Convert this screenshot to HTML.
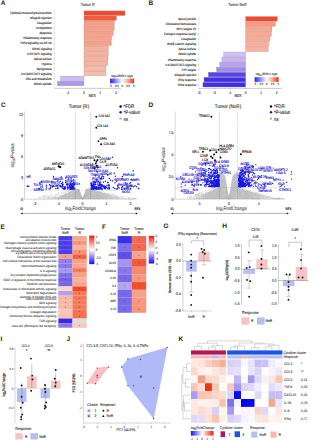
<!DOCTYPE html><html><head><meta charset="utf-8"><style>html,body{margin:0;padding:0;background:#fff;overflow:hidden}svg{display:block}</style></head><body><svg width="309" height="440" viewBox="0 0 309 440" style="font-family:'Liberation Sans', sans-serif"><text x="0.80" y="5.30" font-size="6.5" font-weight="bold" fill="#1a1a1a" text-rendering="geometricPrecision">A</text>
<text x="148.60" y="4.90" font-size="6.5" font-weight="bold" fill="#1a1a1a" text-rendering="geometricPrecision">B</text>
<text x="0.90" y="106.70" font-size="6.5" font-weight="bold" fill="#1a1a1a" text-rendering="geometricPrecision">C</text>
<text x="148.60" y="106.70" font-size="6.5" font-weight="bold" fill="#1a1a1a" text-rendering="geometricPrecision">D</text>
<text x="0.60" y="228.70" font-size="6.5" font-weight="bold" fill="#1a1a1a" text-rendering="geometricPrecision">E</text>
<text x="102.00" y="228.70" font-size="6.5" font-weight="bold" fill="#1a1a1a" text-rendering="geometricPrecision">F</text>
<text x="163.60" y="228.40" font-size="6.5" font-weight="bold" fill="#1a1a1a" text-rendering="geometricPrecision">G</text>
<text x="222.20" y="228.40" font-size="6.5" font-weight="bold" fill="#1a1a1a" text-rendering="geometricPrecision">H</text>
<text x="0.50" y="341.00" font-size="6.5" font-weight="bold" fill="#1a1a1a" text-rendering="geometricPrecision">I</text>
<text x="66.40" y="341.30" font-size="6.5" font-weight="bold" fill="#1a1a1a" text-rendering="geometricPrecision">J</text>
<text x="178.50" y="341.40" font-size="6.5" font-weight="bold" fill="#1a1a1a" text-rendering="geometricPrecision">K</text>
<defs>
<linearGradient id="gsea" x1="0" x2="1" y1="0" y2="0">
<stop offset="0" stop-color="#2a1ef0"/><stop offset="0.22" stop-color="#8a80f2"/><stop offset="0.5" stop-color="#ffffff"/><stop offset="0.75" stop-color="#f8a898"/><stop offset="1" stop-color="#f02a14"/></linearGradient>
<linearGradient id="hmv" x1="0" x2="0" y1="0" y2="1">
<stop offset="0" stop-color="#f01a0a"/><stop offset="0.5" stop-color="#ffffff"/><stop offset="1" stop-color="#1a0af0"/></linearGradient>
<linearGradient id="khm" x1="0" x2="1" y1="0" y2="0">
<stop offset="0" stop-color="#1a0af0"/><stop offset="0.5" stop-color="#ffffff"/><stop offset="1" stop-color="#f01a0a"/></linearGradient>
</defs>
<line x1="54.40" y1="10.09" x2="54.40" y2="88.30" stroke="#c8c8c8" stroke-width="0.3" />
<line x1="54.40" y1="88.30" x2="121.20" y2="88.30" stroke="#666" stroke-width="0.35" />
<text x="51.70" y="14.36" font-size="2.8" text-anchor="end" fill="#333" font-weight="normal"  text-rendering="geometricPrecision" stroke="#333" stroke-width="0.112" transform="matrix(1 0 0 1.15 0 -2.154)">Epithelial mesenchymal transition</text>
<line x1="53.50" y1="13.20" x2="54.60" y2="13.20" stroke="#777" stroke-width="0.35" />
<rect x="84.00" y="10.89" width="41.00" height="4.62" fill="#ef4a2f" stroke="#a89090" stroke-width="0.3" />
<text x="51.70" y="19.38" font-size="2.8" text-anchor="end" fill="#333" font-weight="normal"  text-rendering="geometricPrecision" stroke="#333" stroke-width="0.112" transform="matrix(1 0 0 1.15 0 -2.907)">Allograft rejection</text>
<line x1="53.50" y1="18.22" x2="54.60" y2="18.22" stroke="#777" stroke-width="0.35" />
<rect x="84.00" y="15.91" width="32.40" height="4.62" fill="#f15a3c" stroke="#a89090" stroke-width="0.3" />
<text x="51.70" y="24.40" font-size="2.8" text-anchor="end" fill="#333" font-weight="normal"  text-rendering="geometricPrecision" stroke="#333" stroke-width="0.112" transform="matrix(1 0 0 1.15 0 -3.660)">Coagulation</text>
<line x1="53.50" y1="23.24" x2="54.60" y2="23.24" stroke="#777" stroke-width="0.35" />
<rect x="84.00" y="20.93" width="30.30" height="4.62" fill="#f89c84" stroke="#a89090" stroke-width="0.3" />
<text x="51.70" y="29.42" font-size="2.8" text-anchor="end" fill="#333" font-weight="normal"  text-rendering="geometricPrecision" stroke="#333" stroke-width="0.112" transform="matrix(1 0 0 1.15 0 -4.413)">Complement</text>
<line x1="53.50" y1="28.26" x2="54.60" y2="28.26" stroke="#777" stroke-width="0.35" />
<rect x="84.00" y="25.95" width="30.30" height="4.62" fill="#f89e86" stroke="#a89090" stroke-width="0.3" />
<text x="51.70" y="34.44" font-size="2.8" text-anchor="end" fill="#333" font-weight="normal"  text-rendering="geometricPrecision" stroke="#333" stroke-width="0.112" transform="matrix(1 0 0 1.15 0 -5.166)">Apoptosis</text>
<line x1="53.50" y1="33.28" x2="54.60" y2="33.28" stroke="#777" stroke-width="0.35" />
<rect x="84.00" y="30.97" width="29.20" height="4.62" fill="#f8a088" stroke="#a89090" stroke-width="0.3" />
<text x="51.70" y="39.46" font-size="2.8" text-anchor="end" fill="#333" font-weight="normal"  text-rendering="geometricPrecision" stroke="#333" stroke-width="0.112" transform="matrix(1 0 0 1.15 0 -5.919)">Inflammatory response</text>
<line x1="53.50" y1="38.30" x2="54.60" y2="38.30" stroke="#777" stroke-width="0.35" />
<rect x="84.00" y="35.99" width="27.70" height="4.62" fill="#f8a28a" stroke="#a89090" stroke-width="0.3" />
<text x="51.70" y="44.48" font-size="2.8" text-anchor="end" fill="#333" font-weight="normal"  text-rendering="geometricPrecision" stroke="#333" stroke-width="0.112" transform="matrix(1 0 0 1.15 0 -6.672)">TNFα signaling via NF-κB</text>
<line x1="53.50" y1="43.32" x2="54.60" y2="43.32" stroke="#777" stroke-width="0.35" />
<rect x="84.00" y="41.01" width="27.30" height="4.62" fill="#f8a088" stroke="#a89090" stroke-width="0.3" />
<text x="51.70" y="49.50" font-size="2.8" text-anchor="end" fill="#333" font-weight="normal"  text-rendering="geometricPrecision" stroke="#333" stroke-width="0.112" transform="matrix(1 0 0 1.15 0 -7.425)">KRAS signaling</text>
<line x1="53.50" y1="48.34" x2="54.60" y2="48.34" stroke="#777" stroke-width="0.35" />
<rect x="84.00" y="46.03" width="24.40" height="4.62" fill="#f8b098" stroke="#a89090" stroke-width="0.3" />
<text x="51.70" y="54.52" font-size="2.8" text-anchor="end" fill="#333" font-weight="normal"  text-rendering="geometricPrecision" stroke="#333" stroke-width="0.112" transform="matrix(1 0 0 1.15 0 -8.178)">IL2/STAT5 signaling</text>
<line x1="53.50" y1="53.36" x2="54.60" y2="53.36" stroke="#777" stroke-width="0.35" />
<rect x="84.00" y="51.05" width="24.40" height="4.62" fill="#f8b098" stroke="#a89090" stroke-width="0.3" />
<text x="51.70" y="59.54" font-size="2.8" text-anchor="end" fill="#333" font-weight="normal"  text-rendering="geometricPrecision" stroke="#333" stroke-width="0.112" transform="matrix(1 0 0 1.15 0 -8.931)">Apical surface</text>
<line x1="53.50" y1="58.38" x2="54.60" y2="58.38" stroke="#777" stroke-width="0.35" />
<rect x="84.00" y="56.07" width="24.00" height="4.62" fill="#f9b29c" stroke="#a89090" stroke-width="0.3" />
<text x="51.70" y="64.56" font-size="2.8" text-anchor="end" fill="#333" font-weight="normal"  text-rendering="geometricPrecision" stroke="#333" stroke-width="0.112" transform="matrix(1 0 0 1.15 0 -9.684)">Hypoxia</text>
<line x1="53.50" y1="63.40" x2="54.60" y2="63.40" stroke="#777" stroke-width="0.35" />
<rect x="84.00" y="61.09" width="23.80" height="4.62" fill="#f9b29c" stroke="#a89090" stroke-width="0.3" />
<text x="51.70" y="69.58" font-size="2.8" text-anchor="end" fill="#333" font-weight="normal"  text-rendering="geometricPrecision" stroke="#333" stroke-width="0.112" transform="matrix(1 0 0 1.15 0 -10.437)">Myogenesis</text>
<line x1="53.50" y1="68.42" x2="54.60" y2="68.42" stroke="#777" stroke-width="0.35" />
<rect x="84.00" y="66.11" width="22.00" height="4.62" fill="#f9bca8" stroke="#a89090" stroke-width="0.3" />
<text x="51.70" y="74.60" font-size="2.8" text-anchor="end" fill="#333" font-weight="normal"  text-rendering="geometricPrecision" stroke="#333" stroke-width="0.112" transform="matrix(1 0 0 1.15 0 -11.190)">IL6/JAK/STAT3 signaling</text>
<line x1="53.50" y1="73.44" x2="54.60" y2="73.44" stroke="#777" stroke-width="0.35" />
<rect x="84.00" y="71.13" width="22.00" height="4.62" fill="#f9bca8" stroke="#a89090" stroke-width="0.3" />
<text x="51.70" y="79.62" font-size="2.8" text-anchor="end" fill="#333" font-weight="normal"  text-rendering="geometricPrecision" stroke="#333" stroke-width="0.112" transform="matrix(1 0 0 1.15 0 -11.943)">Bile acid metabolism</text>
<line x1="53.50" y1="78.46" x2="54.60" y2="78.46" stroke="#777" stroke-width="0.35" />
<rect x="60.40" y="76.15" width="23.60" height="4.62" fill="#cdbdf6" stroke="#a89090" stroke-width="0.3" />
<text x="51.70" y="84.64" font-size="2.8" text-anchor="end" fill="#333" font-weight="normal"  text-rendering="geometricPrecision" stroke="#333" stroke-width="0.112" transform="matrix(1 0 0 1.15 0 -12.696)">Mitotic spindle</text>
<line x1="53.50" y1="83.48" x2="54.60" y2="83.48" stroke="#777" stroke-width="0.35" />
<rect x="57.30" y="81.17" width="26.70" height="4.62" fill="#ab97f0" stroke="#a89090" stroke-width="0.3" />
<line x1="67.90" y1="88.30" x2="67.90" y2="89.20" stroke="#666" stroke-width="0.3" />
<text x="67.90" y="93.72" font-size="3.2" text-anchor="middle" fill="#333" font-weight="normal"  text-rendering="geometricPrecision" stroke="#333" stroke-width="0.128" transform="matrix(1 0 0 1.15 0 -14.059)">-1</text>
<line x1="84.00" y1="88.30" x2="84.00" y2="89.20" stroke="#666" stroke-width="0.3" />
<text x="84.00" y="93.72" font-size="3.2" text-anchor="middle" fill="#333" font-weight="normal"  text-rendering="geometricPrecision" stroke="#333" stroke-width="0.128" transform="matrix(1 0 0 1.15 0 -14.059)">0</text>
<line x1="100.10" y1="88.30" x2="100.10" y2="89.20" stroke="#666" stroke-width="0.3" />
<text x="100.10" y="93.72" font-size="3.2" text-anchor="middle" fill="#333" font-weight="normal"  text-rendering="geometricPrecision" stroke="#333" stroke-width="0.128" transform="matrix(1 0 0 1.15 0 -14.059)">1</text>
<line x1="116.20" y1="88.30" x2="116.20" y2="89.20" stroke="#666" stroke-width="0.3" />
<text x="116.20" y="93.72" font-size="3.2" text-anchor="middle" fill="#333" font-weight="normal"  text-rendering="geometricPrecision" stroke="#333" stroke-width="0.128" transform="matrix(1 0 0 1.15 0 -14.059)">2</text>
<text x="92.20" y="97.31" font-size="3.4" text-anchor="middle" fill="#333" font-weight="normal"  text-rendering="geometricPrecision" stroke="#333" stroke-width="0.136" transform="matrix(1 0 0 1.15 0 -14.596)">NES</text>
<text x="87.70" y="6.49" font-size="3.6" text-anchor="middle" fill="#333" font-weight="normal" stroke="#333" stroke-width="0.1" text-rendering="geometricPrecision" transform="matrix(1 0 0 1.15 0 -0.974)">Tumor R</text>
<text x="122.10" y="76.60" font-size="3.1" text-anchor="middle" fill="#333" stroke="#333" stroke-width="0.1" text-rendering="geometricPrecision">log<tspan font-size="2.1" dy="0.7">10</tspan><tspan dy="-0.7">FDR x sign</tspan></text>
<rect x="110.10" y="78.60" width="24.00" height="4.70" fill="url(#gsea)" stroke="none" stroke-width="0.3" />
<text x="110.70" y="86.66" font-size="2.8" text-anchor="middle" fill="#333" font-weight="normal"  text-rendering="geometricPrecision" stroke="#333" stroke-width="0.112" transform="matrix(1 0 0 1.15 0 -12.999)">-5</text>
<text x="116.50" y="86.66" font-size="2.8" text-anchor="middle" fill="#333" font-weight="normal"  text-rendering="geometricPrecision" stroke="#333" stroke-width="0.112" transform="matrix(1 0 0 1.15 0 -12.999)">-2.5</text>
<text x="122.30" y="86.66" font-size="2.8" text-anchor="middle" fill="#333" font-weight="normal"  text-rendering="geometricPrecision" stroke="#333" stroke-width="0.112" transform="matrix(1 0 0 1.15 0 -12.999)">0</text>
<text x="128.10" y="86.66" font-size="2.8" text-anchor="middle" fill="#333" font-weight="normal"  text-rendering="geometricPrecision" stroke="#333" stroke-width="0.112" transform="matrix(1 0 0 1.15 0 -12.999)">2.5</text>
<text x="133.90" y="86.66" font-size="2.8" text-anchor="middle" fill="#333" font-weight="normal"  text-rendering="geometricPrecision" stroke="#333" stroke-width="0.112" transform="matrix(1 0 0 1.15 0 -12.999)">5</text>
<line x1="198.90" y1="15.77" x2="198.90" y2="88.40" stroke="#c8c8c8" stroke-width="0.3" />
<line x1="198.90" y1="88.40" x2="281.70" y2="88.40" stroke="#666" stroke-width="0.35" />
<text x="196.20" y="20.06" font-size="2.8" text-anchor="end" fill="#333" font-weight="normal"  text-rendering="geometricPrecision" stroke="#333" stroke-width="0.112" transform="matrix(1 0 0 1.15 0 -3.009)">Apical junction</text>
<line x1="198.00" y1="18.90" x2="199.10" y2="18.90" stroke="#777" stroke-width="0.35" />
<rect x="245.70" y="16.57" width="31.60" height="4.66" fill="#ef4a2f" stroke="#a89090" stroke-width="0.3" />
<text x="196.20" y="25.12" font-size="2.8" text-anchor="end" fill="#333" font-weight="normal"  text-rendering="geometricPrecision" stroke="#333" stroke-width="0.112" transform="matrix(1 0 0 1.15 0 -3.768)">Cholesterol homeostasis</text>
<line x1="198.00" y1="23.96" x2="199.10" y2="23.96" stroke="#777" stroke-width="0.35" />
<rect x="245.70" y="21.63" width="29.70" height="4.66" fill="#f89a82" stroke="#a89090" stroke-width="0.3" />
<text x="196.20" y="30.18" font-size="2.8" text-anchor="end" fill="#333" font-weight="normal"  text-rendering="geometricPrecision" stroke="#333" stroke-width="0.112" transform="matrix(1 0 0 1.15 0 -4.527)">MYC targets V2</text>
<line x1="198.00" y1="29.02" x2="199.10" y2="29.02" stroke="#777" stroke-width="0.35" />
<rect x="245.70" y="26.69" width="26.20" height="4.66" fill="#f8a890" stroke="#a89090" stroke-width="0.3" />
<text x="196.20" y="35.24" font-size="2.8" text-anchor="end" fill="#333" font-weight="normal"  text-rendering="geometricPrecision" stroke="#333" stroke-width="0.112" transform="matrix(1 0 0 1.15 0 -5.286)">Estrogen response (early)</text>
<line x1="198.00" y1="34.08" x2="199.10" y2="34.08" stroke="#777" stroke-width="0.35" />
<rect x="245.70" y="31.75" width="25.70" height="4.66" fill="#f8aa92" stroke="#a89090" stroke-width="0.3" />
<text x="196.20" y="40.30" font-size="2.8" text-anchor="end" fill="#333" font-weight="normal"  text-rendering="geometricPrecision" stroke="#333" stroke-width="0.112" transform="matrix(1 0 0 1.15 0 -6.045)">Coagulation</text>
<line x1="198.00" y1="39.14" x2="199.10" y2="39.14" stroke="#777" stroke-width="0.35" />
<rect x="245.70" y="36.81" width="24.30" height="4.66" fill="#f8ac94" stroke="#a89090" stroke-width="0.3" />
<text x="196.20" y="45.36" font-size="2.8" text-anchor="end" fill="#333" font-weight="normal"  text-rendering="geometricPrecision" stroke="#333" stroke-width="0.112" transform="matrix(1 0 0 1.15 0 -6.804)">Wnt/β-catenin signaling</text>
<line x1="198.00" y1="44.20" x2="199.10" y2="44.20" stroke="#777" stroke-width="0.35" />
<rect x="245.70" y="41.87" width="23.00" height="4.66" fill="#f9b09a" stroke="#a89090" stroke-width="0.3" />
<text x="196.20" y="50.42" font-size="2.8" text-anchor="end" fill="#333" font-weight="normal"  text-rendering="geometricPrecision" stroke="#333" stroke-width="0.112" transform="matrix(1 0 0 1.15 0 -7.563)">Apical surface</text>
<line x1="198.00" y1="49.26" x2="199.10" y2="49.26" stroke="#777" stroke-width="0.35" />
<rect x="245.70" y="46.93" width="22.50" height="4.66" fill="#f9b29c" stroke="#a89090" stroke-width="0.3" />
<text x="196.20" y="55.48" font-size="2.8" text-anchor="end" fill="#333" font-weight="normal"  text-rendering="geometricPrecision" stroke="#333" stroke-width="0.112" transform="matrix(1 0 0 1.15 0 -8.322)">Mitotic spindle</text>
<line x1="198.00" y1="54.32" x2="199.10" y2="54.32" stroke="#777" stroke-width="0.35" />
<rect x="223.80" y="51.99" width="21.90" height="4.66" fill="#cebff6" stroke="#a89090" stroke-width="0.3" />
<text x="196.20" y="60.54" font-size="2.8" text-anchor="end" fill="#333" font-weight="normal"  text-rendering="geometricPrecision" stroke="#333" stroke-width="0.112" transform="matrix(1 0 0 1.15 0 -9.081)">Inflammatory response</text>
<line x1="198.00" y1="59.38" x2="199.10" y2="59.38" stroke="#777" stroke-width="0.35" />
<rect x="221.90" y="57.05" width="23.80" height="4.66" fill="#c4b4f4" stroke="#a89090" stroke-width="0.3" />
<text x="196.20" y="65.60" font-size="2.8" text-anchor="end" fill="#333" font-weight="normal"  text-rendering="geometricPrecision" stroke="#333" stroke-width="0.112" transform="matrix(1 0 0 1.15 0 -9.840)">IL6/JAK/STAT3 signaling</text>
<line x1="198.00" y1="64.44" x2="199.10" y2="64.44" stroke="#777" stroke-width="0.35" />
<rect x="219.70" y="62.11" width="26.00" height="4.66" fill="#b4a2f2" stroke="#a89090" stroke-width="0.3" />
<text x="196.20" y="70.66" font-size="2.8" text-anchor="end" fill="#333" font-weight="normal"  text-rendering="geometricPrecision" stroke="#333" stroke-width="0.112" transform="matrix(1 0 0 1.15 0 -10.599)">E2F targets</text>
<line x1="198.00" y1="69.50" x2="199.10" y2="69.50" stroke="#777" stroke-width="0.35" />
<rect x="216.50" y="67.17" width="29.20" height="4.66" fill="#9f8cf0" stroke="#a89090" stroke-width="0.3" />
<text x="196.20" y="75.72" font-size="2.8" text-anchor="end" fill="#333" font-weight="normal"  text-rendering="geometricPrecision" stroke="#333" stroke-width="0.112" transform="matrix(1 0 0 1.15 0 -11.358)">Allograft rejection</text>
<line x1="198.00" y1="74.56" x2="199.10" y2="74.56" stroke="#777" stroke-width="0.35" />
<rect x="208.30" y="72.23" width="37.40" height="4.66" fill="#5544ea" stroke="#a89090" stroke-width="0.3" />
<text x="196.20" y="80.78" font-size="2.8" text-anchor="end" fill="#333" font-weight="normal"  text-rendering="geometricPrecision" stroke="#333" stroke-width="0.112" transform="matrix(1 0 0 1.15 0 -12.117)">IFNγ response</text>
<line x1="198.00" y1="79.62" x2="199.10" y2="79.62" stroke="#777" stroke-width="0.35" />
<rect x="204.00" y="77.29" width="41.70" height="4.66" fill="#3f30ea" stroke="#a89090" stroke-width="0.3" />
<text x="196.20" y="85.84" font-size="2.8" text-anchor="end" fill="#333" font-weight="normal"  text-rendering="geometricPrecision" stroke="#333" stroke-width="0.112" transform="matrix(1 0 0 1.15 0 -12.876)">IFNα response</text>
<line x1="198.00" y1="84.68" x2="199.10" y2="84.68" stroke="#777" stroke-width="0.35" />
<rect x="202.90" y="82.35" width="42.80" height="4.66" fill="#3f30ea" stroke="#a89090" stroke-width="0.3" />
<line x1="199.20" y1="88.40" x2="199.20" y2="89.30" stroke="#666" stroke-width="0.3" />
<text x="199.20" y="93.82" font-size="3.2" text-anchor="middle" fill="#333" font-weight="normal"  text-rendering="geometricPrecision" stroke="#333" stroke-width="0.128" transform="matrix(1 0 0 1.15 0 -14.074)">-3</text>
<line x1="214.70" y1="88.40" x2="214.70" y2="89.30" stroke="#666" stroke-width="0.3" />
<text x="214.70" y="93.82" font-size="3.2" text-anchor="middle" fill="#333" font-weight="normal"  text-rendering="geometricPrecision" stroke="#333" stroke-width="0.128" transform="matrix(1 0 0 1.15 0 -14.074)">-2</text>
<line x1="230.20" y1="88.40" x2="230.20" y2="89.30" stroke="#666" stroke-width="0.3" />
<text x="230.20" y="93.82" font-size="3.2" text-anchor="middle" fill="#333" font-weight="normal"  text-rendering="geometricPrecision" stroke="#333" stroke-width="0.128" transform="matrix(1 0 0 1.15 0 -14.074)">-1</text>
<line x1="245.70" y1="88.40" x2="245.70" y2="89.30" stroke="#666" stroke-width="0.3" />
<text x="245.70" y="93.82" font-size="3.2" text-anchor="middle" fill="#333" font-weight="normal"  text-rendering="geometricPrecision" stroke="#333" stroke-width="0.128" transform="matrix(1 0 0 1.15 0 -14.074)">0</text>
<line x1="261.20" y1="88.40" x2="261.20" y2="89.30" stroke="#666" stroke-width="0.3" />
<text x="261.20" y="93.82" font-size="3.2" text-anchor="middle" fill="#333" font-weight="normal"  text-rendering="geometricPrecision" stroke="#333" stroke-width="0.128" transform="matrix(1 0 0 1.15 0 -14.074)">1</text>
<line x1="276.70" y1="88.40" x2="276.70" y2="89.30" stroke="#666" stroke-width="0.3" />
<text x="276.70" y="93.82" font-size="3.2" text-anchor="middle" fill="#333" font-weight="normal"  text-rendering="geometricPrecision" stroke="#333" stroke-width="0.128" transform="matrix(1 0 0 1.15 0 -14.074)">2</text>
<text x="238.00" y="97.41" font-size="3.4" text-anchor="middle" fill="#333" font-weight="normal"  text-rendering="geometricPrecision" stroke="#333" stroke-width="0.136" transform="matrix(1 0 0 1.15 0 -14.611)">NES</text>
<text x="237.50" y="6.49" font-size="3.6" text-anchor="middle" fill="#333" font-weight="normal" stroke="#333" stroke-width="0.1" text-rendering="geometricPrecision" transform="matrix(1 0 0 1.15 0 -0.974)">Tumor NoR</text>
<text x="266.60" y="75.20" font-size="3.1" text-anchor="middle" fill="#333" stroke="#333" stroke-width="0.1" text-rendering="geometricPrecision">log<tspan font-size="2.1" dy="0.7">10</tspan><tspan dy="-0.7">FDR x sign</tspan></text>
<rect x="254.60" y="77.20" width="24.00" height="4.70" fill="url(#gsea)" stroke="none" stroke-width="0.3" />
<text x="255.20" y="85.26" font-size="2.8" text-anchor="middle" fill="#333" font-weight="normal"  text-rendering="geometricPrecision" stroke="#333" stroke-width="0.112" transform="matrix(1 0 0 1.15 0 -12.789)">-5</text>
<text x="261.00" y="85.26" font-size="2.8" text-anchor="middle" fill="#333" font-weight="normal"  text-rendering="geometricPrecision" stroke="#333" stroke-width="0.112" transform="matrix(1 0 0 1.15 0 -12.789)">-2.5</text>
<text x="266.80" y="85.26" font-size="2.8" text-anchor="middle" fill="#333" font-weight="normal"  text-rendering="geometricPrecision" stroke="#333" stroke-width="0.112" transform="matrix(1 0 0 1.15 0 -12.789)">0</text>
<text x="272.60" y="85.26" font-size="2.8" text-anchor="middle" fill="#333" font-weight="normal"  text-rendering="geometricPrecision" stroke="#333" stroke-width="0.112" transform="matrix(1 0 0 1.15 0 -12.789)">2.5</text>
<text x="278.40" y="85.26" font-size="2.8" text-anchor="middle" fill="#333" font-weight="normal"  text-rendering="geometricPrecision" stroke="#333" stroke-width="0.112" transform="matrix(1 0 0 1.15 0 -12.789)">5</text>
<defs><linearGradient id="gvC" gradientUnits="userSpaceOnUse" x1="37.60" x2="137.60" y1="0" y2="0"><stop offset="0" stop-color="#c8c8c8" stop-opacity="0"/><stop offset="0.265" stop-color="#bcbcbc" stop-opacity="0.85"/><stop offset="0.635" stop-color="#bcbcbc" stop-opacity="0.85"/><stop offset="1" stop-color="#c8c8c8" stop-opacity="0"/></linearGradient></defs>
<path d="M40 199 L60 196.5 L76 188.8 L79.2 188.8 L82.6 198.2 L86.2 188.8 L90 188.8 L108 194 L128 199 Z" fill="url(#gvC)"/>
<g fill="#b8b8b8" fill-opacity="0.45"><circle cx="82.84" cy="198.27" r="0.5"/><circle cx="84.17" cy="196.59" r="0.5"/><circle cx="106.94" cy="192.62" r="0.5"/><circle cx="99.16" cy="198.68" r="0.5"/><circle cx="90.44" cy="196.92" r="0.5"/><circle cx="61.79" cy="195.52" r="0.5"/><circle cx="81.65" cy="197.62" r="0.5"/><circle cx="60.57" cy="198.32" r="0.5"/><circle cx="47.70" cy="195.63" r="0.5"/><circle cx="82.34" cy="198.35" r="0.5"/><circle cx="58.89" cy="192.56" r="0.5"/><circle cx="101.78" cy="191.46" r="0.5"/><circle cx="58.92" cy="193.83" r="0.5"/><circle cx="70.50" cy="198.14" r="0.5"/><circle cx="74.77" cy="189.30" r="0.5"/><circle cx="85.97" cy="191.79" r="0.5"/><circle cx="55.88" cy="193.56" r="0.5"/><circle cx="97.95" cy="197.94" r="0.5"/><circle cx="97.25" cy="197.32" r="0.5"/><circle cx="109.64" cy="197.50" r="0.5"/><circle cx="99.03" cy="191.44" r="0.5"/><circle cx="58.00" cy="197.12" r="0.5"/><circle cx="82.17" cy="198.62" r="0.5"/><circle cx="74.48" cy="197.51" r="0.5"/><circle cx="51.63" cy="198.71" r="0.5"/><circle cx="133.88" cy="198.29" r="0.5"/><circle cx="85.82" cy="196.33" r="0.5"/><circle cx="137.54" cy="198.36" r="0.5"/><circle cx="79.32" cy="191.99" r="0.5"/><circle cx="75.83" cy="192.41" r="0.5"/><circle cx="81.65" cy="198.61" r="0.5"/><circle cx="112.62" cy="195.77" r="0.5"/><circle cx="85.70" cy="193.61" r="0.5"/><circle cx="87.33" cy="189.14" r="0.5"/><circle cx="63.18" cy="196.58" r="0.5"/><circle cx="105.41" cy="197.68" r="0.5"/><circle cx="81.79" cy="198.17" r="0.5"/><circle cx="104.19" cy="195.83" r="0.5"/><circle cx="95.91" cy="197.61" r="0.5"/><circle cx="65.12" cy="195.57" r="0.5"/><circle cx="45.07" cy="195.83" r="0.5"/><circle cx="94.66" cy="191.69" r="0.5"/><circle cx="39.51" cy="197.81" r="0.5"/><circle cx="61.34" cy="198.47" r="0.5"/><circle cx="106.05" cy="195.72" r="0.5"/><circle cx="55.47" cy="196.12" r="0.5"/><circle cx="109.02" cy="197.21" r="0.5"/><circle cx="89.64" cy="190.86" r="0.5"/><circle cx="128.22" cy="197.28" r="0.5"/><circle cx="109.84" cy="196.24" r="0.5"/><circle cx="75.28" cy="189.57" r="0.5"/><circle cx="83.97" cy="198.13" r="0.5"/><circle cx="86.34" cy="191.53" r="0.5"/><circle cx="116.39" cy="198.17" r="0.5"/><circle cx="89.25" cy="189.98" r="0.5"/><circle cx="90.27" cy="191.55" r="0.5"/><circle cx="68.77" cy="191.54" r="0.5"/><circle cx="90.02" cy="196.79" r="0.5"/><circle cx="91.19" cy="192.91" r="0.5"/><circle cx="89.20" cy="190.39" r="0.5"/><circle cx="93.89" cy="192.48" r="0.5"/><circle cx="84.92" cy="196.39" r="0.5"/><circle cx="85.25" cy="197.58" r="0.5"/><circle cx="69.81" cy="193.33" r="0.5"/><circle cx="62.66" cy="194.95" r="0.5"/><circle cx="81.28" cy="197.49" r="0.5"/><circle cx="90.53" cy="196.78" r="0.5"/><circle cx="69.19" cy="190.79" r="0.5"/><circle cx="126.35" cy="198.31" r="0.5"/><circle cx="110.26" cy="198.26" r="0.5"/><circle cx="116.59" cy="197.12" r="0.5"/><circle cx="106.12" cy="197.50" r="0.5"/><circle cx="88.17" cy="193.52" r="0.5"/><circle cx="106.17" cy="198.34" r="0.5"/><circle cx="48.22" cy="196.54" r="0.5"/><circle cx="89.08" cy="197.26" r="0.5"/><circle cx="56.05" cy="193.92" r="0.5"/><circle cx="47.12" cy="195.14" r="0.5"/><circle cx="83.81" cy="197.85" r="0.5"/><circle cx="84.30" cy="197.05" r="0.5"/><circle cx="97.69" cy="192.97" r="0.5"/><circle cx="83.00" cy="198.42" r="0.5"/><circle cx="57.11" cy="195.71" r="0.5"/><circle cx="78.05" cy="193.50" r="0.5"/><circle cx="109.86" cy="196.87" r="0.5"/><circle cx="84.48" cy="197.19" r="0.5"/><circle cx="104.21" cy="194.26" r="0.5"/><circle cx="94.56" cy="195.29" r="0.5"/><circle cx="135.61" cy="198.31" r="0.5"/><circle cx="111.48" cy="196.67" r="0.5"/><circle cx="75.17" cy="196.29" r="0.5"/><circle cx="113.52" cy="194.29" r="0.5"/><circle cx="98.72" cy="191.15" r="0.5"/><circle cx="79.67" cy="194.60" r="0.5"/><circle cx="74.16" cy="192.40" r="0.5"/><circle cx="93.66" cy="192.21" r="0.5"/><circle cx="67.20" cy="196.78" r="0.5"/><circle cx="41.88" cy="196.76" r="0.5"/><circle cx="112.44" cy="193.77" r="0.5"/><circle cx="132.05" cy="198.08" r="0.5"/><circle cx="80.55" cy="194.02" r="0.5"/><circle cx="83.17" cy="198.73" r="0.5"/><circle cx="90.41" cy="194.41" r="0.5"/><circle cx="79.55" cy="194.92" r="0.5"/><circle cx="111.03" cy="198.19" r="0.5"/><circle cx="100.10" cy="196.69" r="0.5"/><circle cx="112.93" cy="197.56" r="0.5"/><circle cx="125.48" cy="198.66" r="0.5"/><circle cx="64.69" cy="194.00" r="0.5"/><circle cx="44.85" cy="196.53" r="0.5"/><circle cx="92.66" cy="195.29" r="0.5"/><circle cx="85.46" cy="196.44" r="0.5"/><circle cx="45.03" cy="196.05" r="0.5"/><circle cx="74.49" cy="189.06" r="0.5"/><circle cx="70.14" cy="192.17" r="0.5"/><circle cx="74.53" cy="190.18" r="0.5"/><circle cx="45.45" cy="196.83" r="0.5"/><circle cx="86.09" cy="196.30" r="0.5"/><circle cx="115.15" cy="197.84" r="0.5"/><circle cx="103.81" cy="196.68" r="0.5"/><circle cx="65.89" cy="195.95" r="0.5"/><circle cx="81.40" cy="197.92" r="0.5"/><circle cx="69.36" cy="190.65" r="0.5"/><circle cx="73.77" cy="195.28" r="0.5"/><circle cx="77.16" cy="196.75" r="0.5"/><circle cx="93.88" cy="191.86" r="0.5"/><circle cx="92.02" cy="189.56" r="0.5"/><circle cx="116.41" cy="198.46" r="0.5"/><circle cx="102.50" cy="197.20" r="0.5"/><circle cx="78.66" cy="192.50" r="0.5"/><circle cx="89.99" cy="190.38" r="0.5"/><circle cx="79.76" cy="197.80" r="0.5"/><circle cx="75.15" cy="196.76" r="0.5"/><circle cx="80.09" cy="192.97" r="0.5"/><circle cx="115.19" cy="198.52" r="0.5"/><circle cx="83.48" cy="196.89" r="0.5"/><circle cx="41.24" cy="198.33" r="0.5"/><circle cx="59.34" cy="194.12" r="0.5"/><circle cx="97.08" cy="197.24" r="0.5"/><circle cx="65.71" cy="192.80" r="0.5"/><circle cx="85.86" cy="198.41" r="0.5"/><circle cx="76.10" cy="193.38" r="0.5"/><circle cx="103.36" cy="198.72" r="0.5"/><circle cx="84.86" cy="194.47" r="0.5"/><circle cx="53.33" cy="197.12" r="0.5"/><circle cx="89.21" cy="188.37" r="0.5"/><circle cx="109.25" cy="196.02" r="0.5"/><circle cx="90.17" cy="190.51" r="0.5"/><circle cx="68.74" cy="198.15" r="0.5"/><circle cx="68.17" cy="192.75" r="0.5"/><circle cx="108.60" cy="195.46" r="0.5"/><circle cx="83.41" cy="196.88" r="0.5"/><circle cx="99.21" cy="195.80" r="0.5"/><circle cx="91.58" cy="195.54" r="0.5"/><circle cx="76.82" cy="196.11" r="0.5"/><circle cx="46.83" cy="198.44" r="0.5"/><circle cx="53.31" cy="196.68" r="0.5"/><circle cx="80.30" cy="195.23" r="0.5"/><circle cx="76.19" cy="194.47" r="0.5"/><circle cx="98.46" cy="196.10" r="0.5"/><circle cx="72.86" cy="197.46" r="0.5"/><circle cx="89.20" cy="190.03" r="0.5"/><circle cx="100.31" cy="198.16" r="0.5"/><circle cx="83.90" cy="195.75" r="0.5"/><circle cx="91.94" cy="193.43" r="0.5"/><circle cx="97.75" cy="191.95" r="0.5"/><circle cx="92.39" cy="198.50" r="0.5"/><circle cx="84.40" cy="197.13" r="0.5"/><circle cx="94.55" cy="194.12" r="0.5"/><circle cx="97.61" cy="195.37" r="0.5"/><circle cx="78.50" cy="193.23" r="0.5"/><circle cx="90.10" cy="189.78" r="0.5"/><circle cx="69.67" cy="192.42" r="0.5"/><circle cx="44.58" cy="197.33" r="0.5"/><circle cx="87.86" cy="198.25" r="0.5"/><circle cx="61.51" cy="196.03" r="0.5"/><circle cx="61.19" cy="192.48" r="0.5"/><circle cx="127.94" cy="197.46" r="0.5"/><circle cx="132.70" cy="198.60" r="0.5"/><circle cx="67.53" cy="198.28" r="0.5"/><circle cx="77.33" cy="192.65" r="0.5"/><circle cx="42.19" cy="196.31" r="0.5"/><circle cx="68.38" cy="190.85" r="0.5"/><circle cx="58.25" cy="193.00" r="0.5"/><circle cx="84.85" cy="194.05" r="0.5"/><circle cx="100.84" cy="192.09" r="0.5"/><circle cx="42.60" cy="196.72" r="0.5"/><circle cx="57.25" cy="197.37" r="0.5"/><circle cx="74.85" cy="190.02" r="0.5"/><circle cx="96.59" cy="196.23" r="0.5"/><circle cx="81.63" cy="197.57" r="0.5"/><circle cx="66.05" cy="192.38" r="0.5"/><circle cx="113.17" cy="197.43" r="0.5"/><circle cx="92.41" cy="190.30" r="0.5"/><circle cx="136.37" cy="198.43" r="0.5"/><circle cx="102.10" cy="193.96" r="0.5"/><circle cx="115.57" cy="196.12" r="0.5"/><circle cx="86.51" cy="193.35" r="0.5"/><circle cx="87.50" cy="192.53" r="0.5"/><circle cx="52.78" cy="196.28" r="0.5"/><circle cx="81.06" cy="197.83" r="0.5"/><circle cx="117.45" cy="195.18" r="0.5"/><circle cx="94.49" cy="191.66" r="0.5"/><circle cx="61.40" cy="196.63" r="0.5"/><circle cx="54.76" cy="197.92" r="0.5"/><circle cx="116.27" cy="197.06" r="0.5"/><circle cx="74.04" cy="189.34" r="0.5"/><circle cx="112.09" cy="197.56" r="0.5"/><circle cx="76.89" cy="194.34" r="0.5"/><circle cx="45.25" cy="195.37" r="0.5"/><circle cx="60.59" cy="195.05" r="0.5"/><circle cx="98.69" cy="195.54" r="0.5"/><circle cx="102.58" cy="196.31" r="0.5"/><circle cx="83.86" cy="196.25" r="0.5"/><circle cx="53.99" cy="197.65" r="0.5"/><circle cx="84.37" cy="196.90" r="0.5"/><circle cx="75.90" cy="191.54" r="0.5"/><circle cx="73.88" cy="198.62" r="0.5"/><circle cx="55.80" cy="196.54" r="0.5"/><circle cx="64.46" cy="197.63" r="0.5"/><circle cx="128.31" cy="198.28" r="0.5"/><circle cx="76.04" cy="189.53" r="0.5"/><circle cx="89.53" cy="194.66" r="0.5"/><circle cx="61.43" cy="197.75" r="0.5"/><circle cx="97.14" cy="196.17" r="0.5"/><circle cx="80.01" cy="197.95" r="0.5"/><circle cx="108.26" cy="194.45" r="0.5"/><circle cx="104.22" cy="197.39" r="0.5"/><circle cx="78.13" cy="189.71" r="0.5"/><circle cx="60.20" cy="196.48" r="0.5"/><circle cx="59.18" cy="198.64" r="0.5"/><circle cx="76.84" cy="194.77" r="0.5"/><circle cx="70.42" cy="196.29" r="0.5"/><circle cx="85.12" cy="194.77" r="0.5"/><circle cx="61.58" cy="196.40" r="0.5"/><circle cx="79.83" cy="194.93" r="0.5"/><circle cx="107.62" cy="196.40" r="0.5"/><circle cx="74.03" cy="194.86" r="0.5"/><circle cx="96.19" cy="195.99" r="0.5"/><circle cx="62.94" cy="196.26" r="0.5"/><circle cx="73.86" cy="189.65" r="0.5"/><circle cx="99.68" cy="195.53" r="0.5"/><circle cx="128.56" cy="198.59" r="0.5"/><circle cx="88.31" cy="195.02" r="0.5"/><circle cx="56.85" cy="194.73" r="0.5"/><circle cx="61.06" cy="195.05" r="0.5"/><circle cx="76.99" cy="193.62" r="0.5"/><circle cx="70.95" cy="190.76" r="0.5"/><circle cx="86.67" cy="195.19" r="0.5"/><circle cx="91.00" cy="196.36" r="0.5"/><circle cx="70.10" cy="194.24" r="0.5"/><circle cx="50.20" cy="198.49" r="0.5"/><circle cx="124.58" cy="198.18" r="0.5"/><circle cx="76.83" cy="196.16" r="0.5"/><circle cx="94.35" cy="192.40" r="0.5"/><circle cx="117.72" cy="197.32" r="0.5"/><circle cx="104.54" cy="197.54" r="0.5"/><circle cx="79.53" cy="195.88" r="0.5"/><circle cx="49.44" cy="197.55" r="0.5"/><circle cx="85.90" cy="196.35" r="0.5"/><circle cx="65.97" cy="193.87" r="0.5"/><circle cx="76.53" cy="193.07" r="0.5"/><circle cx="117.62" cy="198.11" r="0.5"/><circle cx="65.00" cy="195.06" r="0.5"/><circle cx="74.18" cy="198.30" r="0.5"/><circle cx="68.53" cy="197.24" r="0.5"/><circle cx="86.03" cy="192.17" r="0.5"/><circle cx="77.19" cy="193.02" r="0.5"/><circle cx="81.92" cy="197.62" r="0.5"/><circle cx="55.18" cy="197.85" r="0.5"/><circle cx="49.48" cy="197.23" r="0.5"/><circle cx="89.02" cy="196.59" r="0.5"/><circle cx="133.53" cy="198.38" r="0.5"/><circle cx="77.83" cy="196.17" r="0.5"/><circle cx="128.56" cy="197.90" r="0.5"/><circle cx="74.53" cy="190.81" r="0.5"/><circle cx="74.07" cy="195.35" r="0.5"/><circle cx="69.76" cy="195.85" r="0.5"/><circle cx="111.76" cy="194.91" r="0.5"/><circle cx="55.33" cy="197.99" r="0.5"/><circle cx="72.63" cy="198.71" r="0.5"/><circle cx="87.86" cy="195.42" r="0.5"/><circle cx="108.20" cy="197.16" r="0.5"/><circle cx="69.82" cy="195.65" r="0.5"/><circle cx="101.07" cy="193.92" r="0.5"/><circle cx="94.37" cy="191.23" r="0.5"/><circle cx="76.06" cy="192.49" r="0.5"/><circle cx="94.88" cy="198.51" r="0.5"/><circle cx="86.71" cy="190.52" r="0.5"/><circle cx="108.76" cy="194.05" r="0.5"/><circle cx="83.01" cy="197.96" r="0.5"/><circle cx="57.20" cy="194.90" r="0.5"/><circle cx="117.28" cy="197.33" r="0.5"/><circle cx="47.63" cy="197.43" r="0.5"/><circle cx="49.34" cy="197.12" r="0.5"/><circle cx="127.78" cy="197.10" r="0.5"/><circle cx="80.68" cy="197.23" r="0.5"/><circle cx="107.09" cy="198.00" r="0.5"/><circle cx="50.51" cy="194.48" r="0.5"/><circle cx="98.60" cy="197.21" r="0.5"/><circle cx="68.63" cy="197.55" r="0.5"/><circle cx="100.72" cy="192.52" r="0.5"/><circle cx="78.50" cy="193.82" r="0.5"/><circle cx="107.96" cy="195.29" r="0.5"/><circle cx="82.44" cy="198.64" r="0.5"/><circle cx="65.73" cy="191.24" r="0.5"/><circle cx="104.81" cy="196.02" r="0.5"/><circle cx="92.19" cy="190.27" r="0.5"/><circle cx="104.52" cy="192.68" r="0.5"/><circle cx="132.57" cy="198.29" r="0.5"/><circle cx="84.52" cy="196.66" r="0.5"/><circle cx="137.36" cy="198.43" r="0.5"/><circle cx="77.73" cy="196.51" r="0.5"/><circle cx="74.59" cy="194.91" r="0.5"/><circle cx="111.78" cy="197.93" r="0.5"/><circle cx="111.80" cy="194.56" r="0.5"/><circle cx="91.19" cy="197.72" r="0.5"/><circle cx="88.33" cy="192.84" r="0.5"/><circle cx="50.57" cy="196.44" r="0.5"/><circle cx="82.77" cy="198.61" r="0.5"/><circle cx="122.67" cy="196.38" r="0.5"/><circle cx="90.10" cy="192.69" r="0.5"/><circle cx="78.94" cy="197.45" r="0.5"/><circle cx="108.86" cy="195.68" r="0.5"/><circle cx="40.45" cy="198.08" r="0.5"/><circle cx="122.37" cy="197.59" r="0.5"/><circle cx="70.48" cy="192.94" r="0.5"/><circle cx="94.39" cy="190.63" r="0.5"/><circle cx="77.04" cy="191.04" r="0.5"/><circle cx="63.43" cy="195.61" r="0.5"/><circle cx="85.29" cy="196.02" r="0.5"/><circle cx="82.68" cy="198.64" r="0.5"/><circle cx="92.35" cy="196.69" r="0.5"/><circle cx="69.04" cy="196.81" r="0.5"/><circle cx="134.23" cy="198.33" r="0.5"/><circle cx="97.41" cy="196.28" r="0.5"/><circle cx="69.11" cy="194.33" r="0.5"/><circle cx="112.98" cy="198.34" r="0.5"/><circle cx="62.80" cy="193.01" r="0.5"/><circle cx="80.15" cy="196.44" r="0.5"/><circle cx="101.47" cy="191.80" r="0.5"/><circle cx="79.43" cy="191.33" r="0.5"/><circle cx="129.28" cy="197.71" r="0.5"/><circle cx="81.65" cy="197.94" r="0.5"/><circle cx="82.37" cy="198.73" r="0.5"/><circle cx="44.75" cy="196.02" r="0.5"/><circle cx="48.92" cy="197.48" r="0.5"/><circle cx="79.08" cy="191.71" r="0.5"/><circle cx="84.84" cy="196.48" r="0.5"/><circle cx="75.35" cy="189.05" r="0.5"/><circle cx="86.96" cy="194.74" r="0.5"/><circle cx="115.46" cy="195.52" r="0.5"/><circle cx="96.74" cy="195.49" r="0.5"/><circle cx="73.43" cy="194.18" r="0.5"/><circle cx="107.34" cy="197.18" r="0.5"/><circle cx="63.31" cy="192.70" r="0.5"/><circle cx="75.36" cy="194.26" r="0.5"/><circle cx="83.18" cy="198.48" r="0.5"/><circle cx="112.91" cy="197.27" r="0.5"/><circle cx="122.34" cy="196.76" r="0.5"/><circle cx="94.41" cy="195.79" r="0.5"/><circle cx="59.45" cy="195.30" r="0.5"/><circle cx="98.58" cy="192.59" r="0.5"/><circle cx="109.46" cy="193.88" r="0.5"/><circle cx="110.29" cy="197.42" r="0.5"/><circle cx="62.96" cy="196.95" r="0.5"/><circle cx="64.86" cy="196.65" r="0.5"/><circle cx="91.06" cy="189.82" r="0.5"/><circle cx="94.20" cy="196.69" r="0.5"/><circle cx="44.39" cy="196.94" r="0.5"/><circle cx="89.72" cy="193.27" r="0.5"/><circle cx="73.02" cy="196.92" r="0.5"/><circle cx="86.19" cy="194.60" r="0.5"/><circle cx="93.75" cy="196.04" r="0.5"/><circle cx="130.93" cy="198.26" r="0.5"/><circle cx="133.55" cy="198.71" r="0.5"/><circle cx="40.01" cy="196.90" r="0.5"/><circle cx="118.38" cy="198.54" r="0.5"/><circle cx="71.15" cy="198.66" r="0.5"/><circle cx="96.16" cy="195.90" r="0.5"/><circle cx="55.17" cy="197.38" r="0.5"/><circle cx="85.50" cy="196.48" r="0.5"/><circle cx="56.05" cy="197.05" r="0.5"/><circle cx="91.61" cy="191.43" r="0.5"/><circle cx="62.04" cy="195.85" r="0.5"/><circle cx="119.43" cy="197.03" r="0.5"/><circle cx="75.64" cy="189.20" r="0.5"/><circle cx="51.95" cy="194.49" r="0.5"/><circle cx="74.83" cy="196.09" r="0.5"/><circle cx="131.49" cy="198.63" r="0.5"/><circle cx="72.35" cy="195.92" r="0.5"/><circle cx="55.88" cy="195.76" r="0.5"/><circle cx="91.63" cy="191.45" r="0.5"/><circle cx="87.98" cy="195.33" r="0.5"/><circle cx="94.44" cy="191.64" r="0.5"/><circle cx="84.10" cy="195.39" r="0.5"/><circle cx="135.39" cy="198.19" r="0.5"/><circle cx="77.65" cy="197.09" r="0.5"/><circle cx="58.76" cy="197.39" r="0.5"/><circle cx="55.86" cy="197.05" r="0.5"/><circle cx="99.48" cy="195.05" r="0.5"/><circle cx="99.99" cy="196.01" r="0.5"/><circle cx="79.30" cy="195.15" r="0.5"/><circle cx="66.00" cy="193.31" r="0.5"/><circle cx="72.31" cy="194.14" r="0.5"/><circle cx="75.49" cy="193.59" r="0.5"/><circle cx="85.78" cy="191.40" r="0.5"/><circle cx="65.61" cy="198.13" r="0.5"/><circle cx="88.00" cy="192.97" r="0.5"/><circle cx="85.82" cy="192.30" r="0.5"/><circle cx="87.90" cy="196.74" r="0.5"/><circle cx="67.93" cy="191.07" r="0.5"/><circle cx="99.89" cy="193.11" r="0.5"/><circle cx="86.79" cy="195.24" r="0.5"/><circle cx="69.20" cy="197.17" r="0.5"/><circle cx="86.38" cy="190.97" r="0.5"/><circle cx="91.15" cy="191.54" r="0.5"/><circle cx="62.58" cy="194.60" r="0.5"/><circle cx="61.73" cy="198.31" r="0.5"/><circle cx="101.56" cy="195.76" r="0.5"/><circle cx="80.90" cy="195.69" r="0.5"/><circle cx="43.30" cy="197.14" r="0.5"/><circle cx="80.85" cy="196.80" r="0.5"/><circle cx="43.21" cy="197.99" r="0.5"/><circle cx="77.90" cy="191.65" r="0.5"/><circle cx="99.17" cy="193.12" r="0.5"/><circle cx="50.46" cy="196.63" r="0.5"/><circle cx="39.28" cy="197.97" r="0.5"/><circle cx="84.46" cy="194.55" r="0.5"/><circle cx="96.38" cy="190.34" r="0.5"/><circle cx="88.48" cy="194.61" r="0.5"/><circle cx="82.44" cy="198.63" r="0.5"/><circle cx="82.90" cy="198.35" r="0.5"/><circle cx="78.71" cy="191.59" r="0.5"/><circle cx="83.11" cy="197.72" r="0.5"/><circle cx="83.07" cy="197.79" r="0.5"/><circle cx="77.74" cy="191.02" r="0.5"/><circle cx="102.94" cy="193.28" r="0.5"/><circle cx="98.95" cy="195.60" r="0.5"/><circle cx="128.87" cy="197.93" r="0.5"/><circle cx="76.73" cy="191.32" r="0.5"/><circle cx="95.49" cy="192.60" r="0.5"/><circle cx="93.73" cy="189.74" r="0.5"/><circle cx="94.32" cy="194.32" r="0.5"/><circle cx="79.60" cy="194.44" r="0.5"/><circle cx="83.64" cy="196.34" r="0.5"/><circle cx="64.96" cy="194.63" r="0.5"/><circle cx="103.32" cy="196.60" r="0.5"/><circle cx="62.57" cy="197.95" r="0.5"/><circle cx="111.50" cy="196.21" r="0.5"/><circle cx="107.14" cy="193.69" r="0.5"/><circle cx="68.97" cy="191.79" r="0.5"/><circle cx="71.72" cy="194.82" r="0.5"/><circle cx="105.30" cy="196.44" r="0.5"/><circle cx="108.24" cy="193.50" r="0.5"/><circle cx="74.03" cy="191.80" r="0.5"/><circle cx="91.92" cy="197.89" r="0.5"/><circle cx="123.83" cy="198.54" r="0.5"/><circle cx="55.24" cy="195.05" r="0.5"/><circle cx="107.15" cy="195.88" r="0.5"/><circle cx="73.19" cy="196.42" r="0.5"/><circle cx="66.82" cy="198.67" r="0.5"/><circle cx="64.47" cy="192.33" r="0.5"/><circle cx="84.51" cy="197.37" r="0.5"/><circle cx="78.92" cy="194.34" r="0.5"/><circle cx="84.46" cy="196.42" r="0.5"/><circle cx="60.00" cy="196.79" r="0.5"/><circle cx="99.64" cy="197.29" r="0.5"/><circle cx="77.34" cy="189.56" r="0.5"/><circle cx="121.14" cy="198.02" r="0.5"/><circle cx="89.08" cy="189.75" r="0.5"/><circle cx="76.55" cy="197.64" r="0.5"/><circle cx="81.15" cy="196.74" r="0.5"/><circle cx="95.84" cy="194.75" r="0.5"/><circle cx="91.96" cy="193.27" r="0.5"/><circle cx="100.76" cy="197.12" r="0.5"/><circle cx="103.27" cy="198.28" r="0.5"/><circle cx="43.32" cy="196.39" r="0.5"/><circle cx="51.65" cy="198.66" r="0.5"/><circle cx="105.05" cy="197.55" r="0.5"/><circle cx="61.32" cy="192.92" r="0.5"/><circle cx="75.91" cy="193.62" r="0.5"/><circle cx="76.01" cy="198.29" r="0.5"/><circle cx="74.73" cy="197.33" r="0.5"/><circle cx="87.57" cy="192.87" r="0.5"/><circle cx="61.49" cy="193.73" r="0.5"/><circle cx="84.38" cy="196.15" r="0.5"/><circle cx="109.84" cy="194.13" r="0.5"/><circle cx="52.37" cy="198.61" r="0.5"/><circle cx="75.70" cy="198.31" r="0.5"/><circle cx="129.23" cy="198.64" r="0.5"/><circle cx="66.27" cy="197.90" r="0.5"/><circle cx="54.41" cy="195.88" r="0.5"/><circle cx="75.15" cy="193.12" r="0.5"/><circle cx="88.40" cy="193.82" r="0.5"/><circle cx="96.36" cy="194.14" r="0.5"/><circle cx="75.94" cy="194.89" r="0.5"/><circle cx="114.15" cy="194.19" r="0.5"/><circle cx="73.81" cy="189.50" r="0.5"/><circle cx="77.97" cy="197.42" r="0.5"/><circle cx="115.68" cy="196.05" r="0.5"/><circle cx="65.57" cy="194.01" r="0.5"/><circle cx="63.86" cy="193.59" r="0.5"/><circle cx="71.54" cy="198.79" r="0.5"/><circle cx="101.37" cy="193.42" r="0.5"/><circle cx="69.37" cy="196.07" r="0.5"/><circle cx="106.15" cy="193.74" r="0.5"/><circle cx="99.26" cy="198.52" r="0.5"/><circle cx="79.00" cy="192.48" r="0.5"/><circle cx="134.40" cy="198.72" r="0.5"/><circle cx="74.82" cy="192.44" r="0.5"/><circle cx="93.01" cy="190.74" r="0.5"/><circle cx="88.55" cy="198.18" r="0.5"/><circle cx="83.17" cy="197.70" r="0.5"/><circle cx="86.00" cy="194.89" r="0.5"/><circle cx="52.67" cy="196.66" r="0.5"/><circle cx="82.05" cy="198.31" r="0.5"/><circle cx="85.89" cy="197.72" r="0.5"/><circle cx="98.10" cy="191.11" r="0.5"/><circle cx="71.12" cy="191.70" r="0.5"/><circle cx="48.51" cy="196.09" r="0.5"/><circle cx="84.61" cy="194.99" r="0.5"/><circle cx="58.25" cy="195.01" r="0.5"/><circle cx="84.64" cy="194.31" r="0.5"/><circle cx="69.34" cy="192.32" r="0.5"/><circle cx="79.62" cy="193.60" r="0.5"/><circle cx="83.96" cy="198.49" r="0.5"/><circle cx="87.23" cy="194.97" r="0.5"/><circle cx="74.49" cy="189.20" r="0.5"/><circle cx="98.15" cy="193.03" r="0.5"/><circle cx="78.27" cy="194.91" r="0.5"/><circle cx="78.66" cy="192.68" r="0.5"/><circle cx="72.85" cy="190.77" r="0.5"/><circle cx="101.87" cy="196.47" r="0.5"/><circle cx="75.43" cy="197.31" r="0.5"/><circle cx="113.51" cy="194.54" r="0.5"/><circle cx="72.88" cy="196.89" r="0.5"/><circle cx="66.67" cy="196.54" r="0.5"/><circle cx="110.51" cy="195.28" r="0.5"/><circle cx="56.75" cy="198.34" r="0.5"/><circle cx="97.47" cy="198.51" r="0.5"/><circle cx="79.70" cy="192.03" r="0.5"/><circle cx="47.33" cy="197.20" r="0.5"/><circle cx="78.95" cy="192.56" r="0.5"/><circle cx="46.84" cy="198.62" r="0.5"/><circle cx="68.56" cy="194.82" r="0.5"/><circle cx="94.04" cy="191.70" r="0.5"/><circle cx="117.95" cy="196.68" r="0.5"/><circle cx="89.65" cy="193.95" r="0.5"/><circle cx="48.27" cy="197.99" r="0.5"/><circle cx="90.89" cy="198.77" r="0.5"/><circle cx="75.58" cy="190.13" r="0.5"/><circle cx="49.65" cy="197.78" r="0.5"/><circle cx="84.98" cy="196.79" r="0.5"/><circle cx="81.30" cy="197.34" r="0.5"/><circle cx="74.62" cy="192.03" r="0.5"/><circle cx="94.28" cy="198.39" r="0.5"/><circle cx="76.30" cy="198.46" r="0.5"/><circle cx="74.47" cy="197.45" r="0.5"/><circle cx="75.77" cy="197.69" r="0.5"/><circle cx="116.68" cy="198.01" r="0.5"/><circle cx="82.79" cy="198.58" r="0.5"/><circle cx="118.07" cy="197.63" r="0.5"/><circle cx="81.81" cy="197.52" r="0.5"/><circle cx="66.84" cy="191.10" r="0.5"/><circle cx="60.35" cy="198.46" r="0.5"/><circle cx="78.83" cy="195.19" r="0.5"/><circle cx="94.10" cy="198.65" r="0.5"/><circle cx="105.04" cy="195.50" r="0.5"/><circle cx="75.37" cy="198.26" r="0.5"/><circle cx="67.26" cy="197.85" r="0.5"/><circle cx="73.63" cy="193.72" r="0.5"/><circle cx="40.01" cy="197.00" r="0.5"/><circle cx="93.25" cy="195.61" r="0.5"/><circle cx="90.94" cy="193.66" r="0.5"/><circle cx="128.42" cy="198.05" r="0.5"/><circle cx="86.51" cy="195.92" r="0.5"/><circle cx="125.94" cy="198.32" r="0.5"/><circle cx="110.75" cy="193.70" r="0.5"/><circle cx="90.38" cy="194.05" r="0.5"/><circle cx="71.42" cy="190.68" r="0.5"/><circle cx="82.16" cy="198.09" r="0.5"/><circle cx="78.63" cy="194.65" r="0.5"/><circle cx="68.84" cy="198.02" r="0.5"/><circle cx="121.68" cy="198.07" r="0.5"/><circle cx="84.86" cy="194.63" r="0.5"/><circle cx="88.53" cy="193.29" r="0.5"/><circle cx="103.83" cy="194.34" r="0.5"/><circle cx="58.74" cy="192.66" r="0.5"/><circle cx="41.95" cy="196.82" r="0.5"/><circle cx="101.55" cy="192.08" r="0.5"/><circle cx="83.83" cy="197.47" r="0.5"/><circle cx="48.47" cy="197.15" r="0.5"/><circle cx="62.09" cy="197.22" r="0.5"/><circle cx="79.17" cy="191.29" r="0.5"/><circle cx="105.27" cy="193.03" r="0.5"/><circle cx="98.97" cy="196.07" r="0.5"/><circle cx="98.82" cy="198.76" r="0.5"/><circle cx="77.09" cy="191.55" r="0.5"/><circle cx="77.10" cy="192.52" r="0.5"/><circle cx="79.90" cy="196.60" r="0.5"/><circle cx="90.68" cy="198.66" r="0.5"/><circle cx="90.00" cy="193.18" r="0.5"/><circle cx="111.70" cy="198.12" r="0.5"/><circle cx="88.64" cy="188.50" r="0.5"/><circle cx="76.08" cy="191.77" r="0.5"/><circle cx="63.57" cy="196.55" r="0.5"/><circle cx="98.31" cy="193.36" r="0.5"/><circle cx="45.16" cy="195.56" r="0.5"/><circle cx="90.31" cy="190.92" r="0.5"/><circle cx="82.23" cy="198.18" r="0.5"/><circle cx="78.95" cy="196.39" r="0.5"/><circle cx="74.28" cy="198.79" r="0.5"/><circle cx="43.84" cy="198.65" r="0.5"/><circle cx="60.93" cy="197.79" r="0.5"/><circle cx="79.59" cy="191.94" r="0.5"/><circle cx="90.85" cy="198.51" r="0.5"/><circle cx="62.06" cy="191.91" r="0.5"/><circle cx="91.71" cy="195.25" r="0.5"/><circle cx="128.60" cy="198.34" r="0.5"/><circle cx="72.96" cy="195.41" r="0.5"/><circle cx="59.96" cy="195.59" r="0.5"/><circle cx="79.26" cy="197.83" r="0.5"/><circle cx="58.46" cy="198.00" r="0.5"/><circle cx="98.21" cy="197.86" r="0.5"/><circle cx="101.85" cy="197.81" r="0.5"/><circle cx="72.14" cy="191.67" r="0.5"/><circle cx="66.55" cy="191.78" r="0.5"/><circle cx="81.71" cy="197.11" r="0.5"/><circle cx="94.58" cy="197.49" r="0.5"/><circle cx="83.45" cy="198.55" r="0.5"/><circle cx="92.95" cy="196.21" r="0.5"/><circle cx="80.75" cy="194.61" r="0.5"/><circle cx="96.71" cy="198.40" r="0.5"/><circle cx="93.48" cy="190.20" r="0.5"/><circle cx="58.26" cy="198.70" r="0.5"/><circle cx="95.82" cy="193.16" r="0.5"/><circle cx="68.65" cy="198.46" r="0.5"/><circle cx="98.64" cy="197.99" r="0.5"/><circle cx="115.27" cy="195.43" r="0.5"/><circle cx="64.90" cy="191.58" r="0.5"/><circle cx="95.82" cy="195.49" r="0.5"/><circle cx="94.58" cy="193.02" r="0.5"/><circle cx="60.11" cy="196.34" r="0.5"/><circle cx="81.01" cy="196.71" r="0.5"/><circle cx="89.39" cy="192.99" r="0.5"/><circle cx="92.87" cy="197.64" r="0.5"/><circle cx="81.56" cy="196.45" r="0.5"/><circle cx="89.44" cy="196.93" r="0.5"/><circle cx="116.52" cy="197.84" r="0.5"/><circle cx="65.47" cy="197.28" r="0.5"/><circle cx="85.64" cy="196.64" r="0.5"/><circle cx="84.00" cy="198.08" r="0.5"/><circle cx="66.44" cy="195.31" r="0.5"/><circle cx="76.06" cy="198.62" r="0.5"/><circle cx="81.22" cy="196.80" r="0.5"/><circle cx="73.41" cy="190.26" r="0.5"/><circle cx="123.49" cy="196.20" r="0.5"/><circle cx="81.71" cy="198.56" r="0.5"/><circle cx="91.51" cy="193.46" r="0.5"/><circle cx="97.49" cy="194.22" r="0.5"/><circle cx="124.34" cy="197.19" r="0.5"/><circle cx="86.36" cy="197.36" r="0.5"/><circle cx="79.79" cy="196.98" r="0.5"/><circle cx="92.24" cy="196.38" r="0.5"/><circle cx="105.98" cy="193.21" r="0.5"/><circle cx="81.45" cy="197.20" r="0.5"/><circle cx="89.89" cy="192.91" r="0.5"/><circle cx="39.15" cy="197.08" r="0.5"/><circle cx="65.16" cy="197.43" r="0.5"/><circle cx="38.87" cy="198.16" r="0.5"/><circle cx="104.93" cy="196.29" r="0.5"/><circle cx="85.57" cy="192.22" r="0.5"/><circle cx="85.89" cy="194.92" r="0.5"/><circle cx="96.36" cy="196.72" r="0.5"/><circle cx="106.37" cy="194.38" r="0.5"/><circle cx="88.57" cy="197.91" r="0.5"/><circle cx="102.14" cy="198.54" r="0.5"/><circle cx="57.20" cy="194.15" r="0.5"/><circle cx="82.24" cy="198.21" r="0.5"/><circle cx="82.10" cy="197.96" r="0.5"/><circle cx="47.97" cy="196.75" r="0.5"/><circle cx="80.93" cy="195.01" r="0.5"/><circle cx="82.85" cy="198.50" r="0.5"/><circle cx="77.54" cy="191.88" r="0.5"/><circle cx="69.29" cy="195.70" r="0.5"/><circle cx="88.79" cy="191.11" r="0.5"/><circle cx="62.96" cy="196.99" r="0.5"/><circle cx="97.34" cy="193.06" r="0.5"/><circle cx="80.12" cy="195.52" r="0.5"/><circle cx="62.90" cy="191.87" r="0.5"/><circle cx="85.59" cy="197.68" r="0.5"/><circle cx="100.56" cy="197.10" r="0.5"/><circle cx="50.34" cy="194.67" r="0.5"/><circle cx="103.88" cy="193.47" r="0.5"/><circle cx="90.12" cy="198.12" r="0.5"/><circle cx="97.20" cy="193.44" r="0.5"/><circle cx="92.83" cy="197.84" r="0.5"/><circle cx="103.70" cy="194.51" r="0.5"/><circle cx="92.53" cy="194.75" r="0.5"/></g>
<g fill="#1818e8"><circle cx="71.24" cy="185.02" r="0.75"/><circle cx="57.92" cy="187.88" r="0.75"/><circle cx="69.45" cy="185.70" r="0.75"/><circle cx="61.36" cy="183.40" r="0.75"/><circle cx="42.40" cy="187.12" r="0.75"/><circle cx="65.01" cy="187.88" r="0.75"/><circle cx="69.63" cy="186.35" r="0.75"/><circle cx="70.42" cy="189.16" r="0.75"/><circle cx="68.68" cy="178.63" r="0.75"/><circle cx="53.52" cy="176.60" r="0.75"/><circle cx="71.55" cy="189.13" r="0.75"/><circle cx="70.94" cy="187.96" r="0.75"/><circle cx="39.47" cy="183.12" r="0.75"/><circle cx="72.73" cy="186.74" r="0.75"/><circle cx="70.21" cy="186.80" r="0.75"/><circle cx="71.43" cy="185.36" r="0.75"/><circle cx="71.83" cy="188.99" r="0.75"/><circle cx="66.56" cy="184.83" r="0.75"/><circle cx="49.64" cy="184.71" r="0.75"/><circle cx="55.89" cy="188.51" r="0.75"/><circle cx="67.28" cy="186.00" r="0.75"/><circle cx="39.18" cy="189.03" r="0.75"/><circle cx="50.20" cy="188.39" r="0.75"/><circle cx="65.60" cy="182.45" r="0.75"/><circle cx="71.84" cy="186.97" r="0.75"/><circle cx="70.60" cy="186.16" r="0.75"/><circle cx="71.87" cy="188.76" r="0.75"/><circle cx="67.79" cy="184.52" r="0.75"/><circle cx="53.58" cy="185.92" r="0.75"/><circle cx="71.47" cy="181.18" r="0.75"/><circle cx="57.71" cy="188.22" r="0.75"/><circle cx="38.98" cy="188.51" r="0.75"/><circle cx="72.98" cy="187.50" r="0.75"/><circle cx="70.83" cy="187.63" r="0.75"/><circle cx="69.90" cy="188.86" r="0.75"/><circle cx="70.57" cy="184.84" r="0.75"/><circle cx="41.46" cy="181.79" r="0.75"/><circle cx="57.95" cy="180.63" r="0.75"/><circle cx="53.02" cy="186.05" r="0.75"/><circle cx="70.42" cy="187.81" r="0.75"/><circle cx="74.43" cy="184.29" r="0.75"/><circle cx="69.55" cy="186.88" r="0.75"/><circle cx="65.49" cy="188.64" r="0.75"/><circle cx="72.09" cy="185.84" r="0.75"/><circle cx="46.41" cy="187.11" r="0.75"/><circle cx="71.16" cy="178.14" r="0.75"/><circle cx="72.00" cy="186.52" r="0.75"/><circle cx="49.09" cy="188.91" r="0.75"/><circle cx="62.95" cy="186.81" r="0.75"/><circle cx="64.40" cy="188.86" r="0.75"/><circle cx="72.74" cy="187.93" r="0.75"/><circle cx="71.46" cy="188.78" r="0.75"/><circle cx="67.81" cy="184.24" r="0.75"/><circle cx="73.61" cy="184.64" r="0.75"/><circle cx="73.14" cy="186.84" r="0.75"/><circle cx="60.67" cy="186.73" r="0.75"/><circle cx="70.28" cy="189.10" r="0.75"/><circle cx="70.06" cy="183.06" r="0.75"/><circle cx="69.41" cy="186.48" r="0.75"/><circle cx="62.62" cy="185.98" r="0.75"/><circle cx="72.80" cy="185.60" r="0.75"/><circle cx="64.28" cy="189.05" r="0.75"/><circle cx="73.42" cy="184.16" r="0.75"/><circle cx="71.47" cy="183.88" r="0.75"/><circle cx="71.41" cy="187.46" r="0.75"/><circle cx="73.94" cy="189.07" r="0.75"/><circle cx="28.82" cy="186.45" r="0.75"/><circle cx="46.45" cy="185.19" r="0.75"/><circle cx="69.34" cy="185.89" r="0.75"/><circle cx="64.98" cy="187.73" r="0.75"/><circle cx="72.40" cy="186.85" r="0.75"/><circle cx="67.78" cy="189.00" r="0.75"/><circle cx="63.18" cy="188.56" r="0.75"/><circle cx="27.73" cy="185.91" r="0.75"/><circle cx="61.24" cy="177.11" r="0.75"/><circle cx="69.97" cy="184.28" r="0.75"/><circle cx="68.81" cy="188.09" r="0.75"/><circle cx="62.63" cy="182.29" r="0.75"/><circle cx="63.91" cy="188.91" r="0.75"/><circle cx="50.61" cy="185.86" r="0.75"/><circle cx="68.06" cy="187.34" r="0.75"/><circle cx="72.52" cy="183.66" r="0.75"/><circle cx="74.15" cy="185.86" r="0.75"/><circle cx="65.02" cy="188.50" r="0.75"/><circle cx="65.04" cy="186.72" r="0.75"/><circle cx="72.87" cy="188.11" r="0.75"/><circle cx="72.85" cy="189.05" r="0.75"/><circle cx="64.62" cy="188.19" r="0.75"/><circle cx="52.49" cy="187.07" r="0.75"/><circle cx="40.75" cy="187.01" r="0.75"/><circle cx="62.36" cy="187.91" r="0.75"/><circle cx="62.64" cy="184.38" r="0.75"/><circle cx="73.38" cy="184.43" r="0.75"/><circle cx="60.12" cy="185.80" r="0.75"/><circle cx="73.80" cy="187.61" r="0.75"/><circle cx="73.44" cy="189.06" r="0.75"/><circle cx="57.27" cy="185.72" r="0.75"/><circle cx="73.73" cy="182.85" r="0.75"/><circle cx="63.63" cy="188.39" r="0.75"/><circle cx="74.41" cy="188.54" r="0.75"/><circle cx="46.21" cy="189.07" r="0.75"/><circle cx="62.58" cy="184.17" r="0.75"/><circle cx="73.79" cy="182.47" r="0.75"/><circle cx="27.25" cy="186.28" r="0.75"/><circle cx="62.37" cy="185.53" r="0.75"/><circle cx="61.68" cy="186.75" r="0.75"/><circle cx="50.49" cy="187.13" r="0.75"/><circle cx="60.53" cy="186.10" r="0.75"/><circle cx="60.38" cy="181.26" r="0.75"/><circle cx="70.68" cy="189.10" r="0.75"/><circle cx="65.80" cy="177.95" r="0.75"/><circle cx="62.91" cy="184.21" r="0.75"/><circle cx="64.61" cy="187.18" r="0.75"/><circle cx="71.61" cy="187.62" r="0.75"/><circle cx="67.27" cy="187.85" r="0.75"/><circle cx="107.73" cy="182.19" r="0.75"/><circle cx="107.67" cy="188.87" r="0.75"/><circle cx="97.53" cy="187.44" r="0.75"/><circle cx="93.22" cy="189.13" r="0.75"/><circle cx="91.27" cy="189.05" r="0.75"/><circle cx="100.90" cy="185.29" r="0.75"/><circle cx="99.75" cy="185.50" r="0.75"/><circle cx="93.48" cy="188.35" r="0.75"/><circle cx="95.73" cy="184.80" r="0.75"/><circle cx="94.25" cy="184.53" r="0.75"/><circle cx="105.76" cy="188.06" r="0.75"/><circle cx="105.36" cy="181.17" r="0.75"/><circle cx="117.44" cy="167.79" r="0.75"/><circle cx="95.59" cy="187.65" r="0.75"/><circle cx="92.21" cy="188.23" r="0.75"/><circle cx="102.28" cy="186.75" r="0.75"/><circle cx="131.02" cy="185.41" r="0.75"/><circle cx="94.95" cy="188.93" r="0.75"/><circle cx="113.30" cy="187.43" r="0.75"/><circle cx="133.82" cy="186.81" r="0.75"/><circle cx="97.34" cy="171.92" r="0.75"/><circle cx="97.75" cy="183.99" r="0.75"/><circle cx="118.12" cy="187.13" r="0.75"/><circle cx="91.60" cy="188.79" r="0.75"/><circle cx="107.80" cy="174.95" r="0.75"/><circle cx="117.23" cy="188.72" r="0.75"/><circle cx="98.48" cy="181.57" r="0.75"/><circle cx="99.89" cy="188.26" r="0.75"/><circle cx="91.64" cy="186.37" r="0.75"/><circle cx="124.62" cy="188.95" r="0.75"/><circle cx="92.10" cy="188.66" r="0.75"/><circle cx="101.68" cy="184.68" r="0.75"/><circle cx="96.30" cy="187.05" r="0.75"/><circle cx="103.79" cy="186.87" r="0.75"/><circle cx="109.49" cy="188.81" r="0.75"/><circle cx="95.49" cy="175.75" r="0.75"/><circle cx="93.11" cy="186.13" r="0.75"/><circle cx="98.64" cy="188.84" r="0.75"/><circle cx="98.51" cy="185.34" r="0.75"/><circle cx="100.33" cy="187.33" r="0.75"/><circle cx="92.79" cy="187.48" r="0.75"/><circle cx="96.52" cy="188.82" r="0.75"/><circle cx="126.54" cy="188.17" r="0.75"/><circle cx="99.41" cy="184.09" r="0.75"/><circle cx="93.42" cy="184.57" r="0.75"/><circle cx="91.01" cy="183.27" r="0.75"/><circle cx="131.01" cy="179.54" r="0.75"/><circle cx="94.78" cy="184.62" r="0.75"/><circle cx="101.52" cy="185.17" r="0.75"/><circle cx="93.70" cy="188.76" r="0.75"/><circle cx="100.27" cy="188.75" r="0.75"/><circle cx="138.65" cy="188.41" r="0.75"/><circle cx="121.90" cy="189.17" r="0.75"/><circle cx="95.63" cy="187.35" r="0.75"/><circle cx="93.77" cy="189.11" r="0.75"/><circle cx="97.93" cy="187.88" r="0.75"/><circle cx="134.99" cy="185.74" r="0.75"/><circle cx="95.50" cy="182.21" r="0.75"/><circle cx="95.47" cy="182.46" r="0.75"/><circle cx="92.79" cy="186.48" r="0.75"/><circle cx="104.63" cy="187.75" r="0.75"/><circle cx="108.89" cy="184.64" r="0.75"/><circle cx="126.99" cy="183.30" r="0.75"/><circle cx="103.60" cy="176.65" r="0.75"/><circle cx="102.59" cy="185.21" r="0.75"/><circle cx="121.88" cy="187.42" r="0.75"/><circle cx="98.35" cy="187.33" r="0.75"/><circle cx="101.82" cy="189.19" r="0.75"/><circle cx="101.32" cy="186.68" r="0.75"/><circle cx="97.67" cy="188.61" r="0.75"/><circle cx="130.64" cy="188.72" r="0.75"/><circle cx="101.15" cy="184.46" r="0.75"/><circle cx="112.43" cy="180.81" r="0.75"/><circle cx="108.69" cy="158.28" r="0.75"/><circle cx="93.32" cy="187.88" r="0.75"/><circle cx="119.06" cy="187.92" r="0.75"/><circle cx="114.93" cy="182.79" r="0.75"/><circle cx="115.32" cy="176.33" r="0.75"/><circle cx="127.84" cy="187.48" r="0.75"/><circle cx="106.09" cy="187.46" r="0.75"/><circle cx="116.64" cy="181.36" r="0.75"/><circle cx="95.39" cy="184.28" r="0.75"/><circle cx="125.16" cy="182.74" r="0.75"/><circle cx="91.87" cy="188.25" r="0.75"/><circle cx="100.00" cy="187.25" r="0.75"/><circle cx="91.70" cy="183.42" r="0.75"/><circle cx="92.15" cy="185.60" r="0.75"/><circle cx="108.74" cy="185.38" r="0.75"/><circle cx="105.36" cy="187.10" r="0.75"/><circle cx="121.75" cy="188.88" r="0.75"/><circle cx="101.94" cy="173.96" r="0.75"/><circle cx="93.00" cy="186.12" r="0.75"/><circle cx="99.83" cy="183.81" r="0.75"/><circle cx="93.15" cy="184.79" r="0.75"/><circle cx="91.75" cy="188.73" r="0.75"/><circle cx="96.59" cy="187.17" r="0.75"/><circle cx="91.55" cy="184.02" r="0.75"/><circle cx="122.40" cy="176.62" r="0.75"/><circle cx="101.22" cy="186.93" r="0.75"/><circle cx="100.74" cy="184.44" r="0.75"/><circle cx="138.48" cy="188.46" r="0.75"/><circle cx="91.68" cy="185.09" r="0.75"/><circle cx="103.89" cy="187.00" r="0.75"/><circle cx="114.80" cy="188.52" r="0.75"/><circle cx="98.78" cy="188.91" r="0.75"/><circle cx="104.56" cy="188.58" r="0.75"/><circle cx="92.21" cy="185.42" r="0.75"/><circle cx="94.34" cy="186.21" r="0.75"/><circle cx="102.37" cy="176.12" r="0.75"/><circle cx="95.44" cy="188.03" r="0.75"/><circle cx="95.73" cy="188.01" r="0.75"/><circle cx="96.70" cy="180.15" r="0.75"/><circle cx="109.18" cy="186.01" r="0.75"/><circle cx="93.95" cy="186.57" r="0.75"/><circle cx="91.67" cy="186.17" r="0.75"/><circle cx="94.48" cy="187.14" r="0.75"/><circle cx="100.15" cy="188.99" r="0.75"/><circle cx="94.07" cy="188.20" r="0.75"/><circle cx="103.46" cy="178.26" r="0.75"/><circle cx="92.99" cy="187.32" r="0.75"/><circle cx="110.45" cy="180.20" r="0.75"/><circle cx="91.57" cy="189.06" r="0.75"/><circle cx="96.86" cy="189.17" r="0.75"/><circle cx="94.92" cy="188.24" r="0.75"/><circle cx="92.01" cy="186.30" r="0.75"/><circle cx="105.37" cy="187.01" r="0.75"/><circle cx="138.96" cy="184.15" r="0.75"/><circle cx="91.25" cy="185.27" r="0.75"/><circle cx="112.55" cy="157.16" r="0.75"/><circle cx="91.13" cy="188.03" r="0.75"/><circle cx="130.48" cy="182.46" r="0.75"/><circle cx="106.94" cy="185.32" r="0.75"/><circle cx="98.92" cy="176.66" r="0.75"/><circle cx="96.22" cy="179.63" r="0.75"/><circle cx="95.43" cy="187.27" r="0.75"/><circle cx="96.34" cy="189.19" r="0.75"/><circle cx="131.58" cy="185.94" r="0.75"/><circle cx="94.06" cy="181.79" r="0.75"/><circle cx="91.79" cy="186.41" r="0.75"/><circle cx="92.19" cy="186.83" r="0.75"/><circle cx="105.72" cy="186.59" r="0.75"/><circle cx="103.49" cy="182.27" r="0.75"/><circle cx="117.84" cy="185.26" r="0.75"/><circle cx="109.26" cy="178.46" r="0.75"/><circle cx="114.24" cy="173.24" r="0.75"/><circle cx="107.89" cy="182.83" r="0.75"/><circle cx="96.09" cy="187.32" r="0.75"/><circle cx="107.49" cy="174.66" r="0.75"/><circle cx="99.98" cy="183.08" r="0.75"/><circle cx="104.43" cy="187.18" r="0.75"/><circle cx="109.12" cy="188.71" r="0.75"/><circle cx="104.21" cy="186.09" r="0.75"/><circle cx="122.28" cy="178.44" r="0.75"/><circle cx="96.47" cy="187.47" r="0.75"/><circle cx="106.13" cy="165.42" r="0.75"/><circle cx="133.34" cy="170.64" r="0.75"/><circle cx="105.40" cy="188.72" r="0.75"/><circle cx="98.09" cy="188.64" r="0.75"/><circle cx="109.34" cy="187.81" r="0.75"/><circle cx="99.17" cy="187.15" r="0.75"/><circle cx="122.42" cy="186.39" r="0.75"/><circle cx="91.25" cy="183.37" r="0.75"/><circle cx="98.21" cy="185.67" r="0.75"/><circle cx="116.75" cy="188.91" r="0.75"/><circle cx="108.08" cy="187.31" r="0.75"/><circle cx="96.92" cy="187.45" r="0.75"/><circle cx="91.81" cy="185.15" r="0.75"/><circle cx="95.33" cy="182.66" r="0.75"/><circle cx="101.42" cy="188.66" r="0.75"/><circle cx="99.75" cy="184.47" r="0.75"/><circle cx="91.12" cy="185.33" r="0.75"/><circle cx="104.28" cy="188.03" r="0.75"/><circle cx="93.60" cy="188.66" r="0.75"/><circle cx="101.49" cy="178.52" r="0.75"/><circle cx="100.50" cy="178.81" r="0.75"/><circle cx="94.14" cy="186.80" r="0.75"/><circle cx="137.83" cy="184.08" r="0.75"/><circle cx="95.31" cy="188.72" r="0.75"/><circle cx="93.59" cy="184.20" r="0.75"/><circle cx="101.63" cy="177.10" r="0.75"/><circle cx="93.24" cy="188.67" r="0.75"/><circle cx="117.65" cy="186.05" r="0.75"/><circle cx="92.92" cy="187.01" r="0.75"/><circle cx="94.52" cy="182.65" r="0.75"/><circle cx="102.42" cy="189.05" r="0.75"/><circle cx="136.59" cy="186.85" r="0.75"/><circle cx="103.81" cy="185.89" r="0.75"/><circle cx="96.13" cy="187.59" r="0.75"/><circle cx="93.54" cy="183.27" r="0.75"/><circle cx="92.07" cy="185.66" r="0.75"/><circle cx="129.77" cy="183.67" r="0.75"/><circle cx="93.24" cy="185.63" r="0.75"/><circle cx="98.78" cy="189.04" r="0.75"/><circle cx="92.12" cy="187.08" r="0.75"/><circle cx="93.41" cy="188.80" r="0.75"/></g>
<line x1="75.40" y1="112.50" x2="75.40" y2="199.20" stroke="#666" stroke-width="0.4" stroke-dasharray="0.8 0.9"/>
<line x1="90.50" y1="112.50" x2="90.50" y2="199.20" stroke="#666" stroke-width="0.4" stroke-dasharray="0.8 0.9"/>
<line x1="24.60" y1="190.00" x2="131.70" y2="190.00" stroke="#777" stroke-width="0.35" stroke-dasharray="0.8 0.8"/>
<line x1="24.60" y1="111.50" x2="24.60" y2="199.20" stroke="#777" stroke-width="0.3" />
<line x1="24.60" y1="199.20" x2="135.70" y2="199.20" stroke="#777" stroke-width="0.3" />
<line x1="23.70" y1="199.20" x2="24.60" y2="199.20" stroke="#777" stroke-width="0.3" />
<text x="23.00" y="200.65" font-size="3.5" text-anchor="end" fill="#444" font-weight="normal"  text-rendering="geometricPrecision" stroke="#444" stroke-width="0.140" transform="matrix(1 0 0 1.15 0 -30.097)">0</text>
<line x1="23.70" y1="177.99" x2="24.60" y2="177.99" stroke="#777" stroke-width="0.3" />
<text x="23.00" y="179.44" font-size="3.5" text-anchor="end" fill="#444" font-weight="normal"  text-rendering="geometricPrecision" stroke="#444" stroke-width="0.140" transform="matrix(1 0 0 1.15 0 -26.916)">3</text>
<line x1="23.70" y1="156.78" x2="24.60" y2="156.78" stroke="#777" stroke-width="0.3" />
<text x="23.00" y="158.23" font-size="3.5" text-anchor="end" fill="#444" font-weight="normal"  text-rendering="geometricPrecision" stroke="#444" stroke-width="0.140" transform="matrix(1 0 0 1.15 0 -23.734)">6</text>
<line x1="23.70" y1="135.57" x2="24.60" y2="135.57" stroke="#777" stroke-width="0.3" />
<text x="23.00" y="137.02" font-size="3.5" text-anchor="end" fill="#444" font-weight="normal"  text-rendering="geometricPrecision" stroke="#444" stroke-width="0.140" transform="matrix(1 0 0 1.15 0 -20.553)">9</text>
<line x1="23.70" y1="114.36" x2="24.60" y2="114.36" stroke="#777" stroke-width="0.3" />
<text x="23.00" y="115.81" font-size="3.5" text-anchor="end" fill="#444" font-weight="normal"  text-rendering="geometricPrecision" stroke="#444" stroke-width="0.140" transform="matrix(1 0 0 1.15 0 -17.371)">12</text>
<line x1="34.80" y1="199.20" x2="34.80" y2="200.10" stroke="#777" stroke-width="0.3" />
<text x="34.80" y="205.25" font-size="3.5" text-anchor="middle" fill="#444" font-weight="normal"  text-rendering="geometricPrecision" stroke="#444" stroke-width="0.140" transform="matrix(1 0 0 1.15 0 -30.787)">-2</text>
<line x1="58.70" y1="199.20" x2="58.70" y2="200.10" stroke="#777" stroke-width="0.3" />
<text x="58.70" y="205.25" font-size="3.5" text-anchor="middle" fill="#444" font-weight="normal"  text-rendering="geometricPrecision" stroke="#444" stroke-width="0.140" transform="matrix(1 0 0 1.15 0 -30.787)">-1</text>
<line x1="82.60" y1="199.20" x2="82.60" y2="200.10" stroke="#777" stroke-width="0.3" />
<text x="82.60" y="205.25" font-size="3.5" text-anchor="middle" fill="#444" font-weight="normal"  text-rendering="geometricPrecision" stroke="#444" stroke-width="0.140" transform="matrix(1 0 0 1.15 0 -30.787)">0</text>
<line x1="106.50" y1="199.20" x2="106.50" y2="200.10" stroke="#777" stroke-width="0.3" />
<text x="106.50" y="205.25" font-size="3.5" text-anchor="middle" fill="#444" font-weight="normal"  text-rendering="geometricPrecision" stroke="#444" stroke-width="0.140" transform="matrix(1 0 0 1.15 0 -30.787)">1</text>
<line x1="130.40" y1="199.20" x2="130.40" y2="200.10" stroke="#777" stroke-width="0.3" />
<text x="130.40" y="205.25" font-size="3.5" text-anchor="middle" fill="#444" font-weight="normal"  text-rendering="geometricPrecision" stroke="#444" stroke-width="0.140" transform="matrix(1 0 0 1.15 0 -30.787)">2</text>
<text x="80.50" y="209.60" font-size="4.3" text-anchor="middle" fill="#333" stroke="#333" stroke-width="0.05" text-rendering="geometricPrecision" transform="matrix(1 0 0 1.15 0 -31.440)">log<tspan font-size="3.0" dy="0.9">2</tspan><tspan dy="-0.9">FoldChange</tspan></text>
<text x="0" y="0" font-size="4.3" text-anchor="middle" fill="#333" stroke="#333" stroke-width="0.050" text-rendering="geometricPrecision" transform="translate(14.43 156.00) rotate(-90) scale(1 1.15)">-log<tspan font-size="3.0" dy="0.9">10</tspan><tspan dy="-0.9">P-value</tspan></text>
<line x1="22.10" y1="213.40" x2="136.30" y2="213.40" stroke="#222" stroke-width="0.35" />
<path d="M20.60 213.4 l2 -1 v2 z M137.80 213.4 l-2 -1 v2 z" fill="#111"/>
<text x="20.00" y="210.34" font-size="3.0" text-anchor="start" fill="#222" font-weight="normal"  text-rendering="geometricPrecision" stroke="#222" stroke-width="0.120" transform="matrix(1 0 0 1.15 0 -31.551)">IG</text>
<text x="140.40" y="210.34" font-size="3.0" text-anchor="end" fill="#222" font-weight="normal"  text-rendering="geometricPrecision" stroke="#222" stroke-width="0.120" transform="matrix(1 0 0 1.15 0 -31.551)">BEX</text>
<text x="78.90" y="108.48" font-size="4.55" text-anchor="middle" fill="#222" font-weight="normal"  text-rendering="geometricPrecision" stroke="#222" stroke-width="0.091" transform="matrix(1 0 0 1.15 0 -16.273)">Tumor (R)</text>
<circle cx="120.60" cy="106.50" r="1.20" fill="#000" />
<text x="123.60" y="108.28" font-size="4.3" text-anchor="start" fill="#222" font-weight="normal"  text-rendering="geometricPrecision" stroke="#222" stroke-width="0.086" transform="matrix(1 0 0 1.15 0 -16.242)">*FDR</text>
<circle cx="120.60" cy="112.20" r="1.20" fill="#1414e6" />
<text x="123.60" y="113.98" font-size="4.3" text-anchor="start" fill="#222" font-weight="normal"  text-rendering="geometricPrecision" stroke="#222" stroke-width="0.086" transform="matrix(1 0 0 1.15 0 -17.097)">*P-value</text>
<circle cx="120.60" cy="118.60" r="1.20" fill="#aaa" />
<text x="123.60" y="120.68" font-size="4.3" text-anchor="start" fill="#222" font-weight="normal"  text-rendering="geometricPrecision" stroke="#222" stroke-width="0.086" transform="matrix(1 0 0 1.15 0 -18.102)">ns</text>
<text x="98.50" y="117.04" font-size="3.0" text-anchor="start" fill="#111" font-weight="normal" stroke="#111" stroke-width="0.11" text-rendering="geometricPrecision" transform="matrix(1 0 0 1.15 0 -17.556)">COL1A2</text>
<text x="96.80" y="126.84" font-size="3.0" text-anchor="start" fill="#111" font-weight="normal" stroke="#111" stroke-width="0.11" text-rendering="geometricPrecision" transform="matrix(1 0 0 1.15 0 -19.026)">COL1A1</text>
<text x="99.50" y="139.84" font-size="3.0" text-anchor="start" fill="#111" font-weight="normal" stroke="#111" stroke-width="0.11" text-rendering="geometricPrecision" transform="matrix(1 0 0 1.15 0 -20.976)">SPP1</text>
<text x="103.60" y="144.84" font-size="3.0" text-anchor="start" fill="#111" font-weight="normal" stroke="#111" stroke-width="0.11" text-rendering="geometricPrecision" transform="matrix(1 0 0 1.15 0 -21.726)">COL3A1</text>
<text x="94.30" y="159.24" font-size="3.0" text-anchor="end" fill="#111" font-weight="normal" stroke="#111" stroke-width="0.11" text-rendering="geometricPrecision" transform="matrix(1 0 0 1.15 0 -23.886)">ADAMTS12</text>
<text x="95.00" y="157.84" font-size="3.0" text-anchor="start" fill="#111" font-weight="normal" stroke="#111" stroke-width="0.11" text-rendering="geometricPrecision" transform="matrix(1 0 0 1.15 0 -23.676)">FN1</text>
<text x="99.40" y="160.44" font-size="3.0" text-anchor="start" fill="#111" font-weight="normal" stroke="#111" stroke-width="0.11" text-rendering="geometricPrecision" transform="matrix(1 0 0 1.15 0 -24.066)">COL5A2</text>
<text x="99.60" y="162.94" font-size="3.0" text-anchor="start" fill="#111" font-weight="normal" stroke="#111" stroke-width="0.11" text-rendering="geometricPrecision" transform="matrix(1 0 0 1.15 0 -24.441)">CILP</text>
<text x="93.40" y="165.54" font-size="3.0" text-anchor="end" fill="#111" font-weight="normal" stroke="#111" stroke-width="0.11" text-rendering="geometricPrecision" transform="matrix(1 0 0 1.15 0 -24.831)">ALOX5AP</text>
<text x="105.80" y="165.54" font-size="3.0" text-anchor="start" fill="#111" font-weight="normal" stroke="#111" stroke-width="0.11" text-rendering="geometricPrecision" transform="matrix(1 0 0 1.15 0 -24.831)">CLEC5A</text>
<text x="64.20" y="164.84" font-size="3.0" text-anchor="end" fill="#111" font-weight="normal" stroke="#111" stroke-width="0.11" text-rendering="geometricPrecision" transform="matrix(1 0 0 1.15 0 -24.726)">MIR4510</text>
<text x="55.60" y="169.54" font-size="3.0" text-anchor="end" fill="#111" font-weight="normal" stroke="#111" stroke-width="0.11" text-rendering="geometricPrecision" transform="matrix(1 0 0 1.15 0 -25.431)">ADRA2C</text>
<text x="26.60" y="178.24" font-size="3.0" text-anchor="start" fill="#1f1fd0" font-weight="normal" stroke="#1f1fd0" stroke-width="0.16" text-rendering="geometricPrecision" transform="matrix(1 0 0 1.15 0 -26.736)">HE</text>
<text x="40.30" y="183.04" font-size="3.0" text-anchor="start" fill="#1f1fd0" font-weight="normal" stroke="#1f1fd0" stroke-width="0.16" text-rendering="geometricPrecision" transform="matrix(1 0 0 1.15 0 -27.456)">ADGRL3</text>
<text x="33.50" y="186.24" font-size="3.0" text-anchor="start" fill="#1f1fd0" font-weight="normal" stroke="#1f1fd0" stroke-width="0.16" text-rendering="geometricPrecision" transform="matrix(1 0 0 1.15 0 -27.936)">TULP1</text>
<text x="33.50" y="190.74" font-size="3.0" text-anchor="start" fill="#1f1fd0" font-weight="normal" stroke="#1f1fd0" stroke-width="0.16" text-rendering="geometricPrecision" transform="matrix(1 0 0 1.15 0 -28.611)">SIRPB1</text>
<text x="52.50" y="179.84" font-size="3.0" text-anchor="start" fill="#1f1fd0" font-weight="normal" stroke="#1f1fd0" stroke-width="0.16" text-rendering="geometricPrecision" transform="matrix(1 0 0 1.15 0 -26.976)">SMAD6</text>
<text x="50.50" y="184.24" font-size="3.0" text-anchor="start" fill="#1f1fd0" font-weight="normal" stroke="#1f1fd0" stroke-width="0.16" text-rendering="geometricPrecision" transform="matrix(1 0 0 1.15 0 -27.636)">TEKT4</text>
<text x="51.00" y="187.44" font-size="3.0" text-anchor="start" fill="#1f1fd0" font-weight="normal" stroke="#1f1fd0" stroke-width="0.16" text-rendering="geometricPrecision" transform="matrix(1 0 0 1.15 0 -28.116)">CCBE1</text>
<text x="65.20" y="177.64" font-size="3.0" text-anchor="start" fill="#1f1fd0" font-weight="normal" stroke="#1f1fd0" stroke-width="0.16" text-rendering="geometricPrecision" transform="matrix(1 0 0 1.15 0 -26.646)">ADGRF5</text>
<text x="65.00" y="181.64" font-size="3.0" text-anchor="start" fill="#1f1fd0" font-weight="normal" stroke="#1f1fd0" stroke-width="0.16" text-rendering="geometricPrecision" transform="matrix(1 0 0 1.15 0 -27.246)">KIRREL</text>
<text x="66.00" y="184.64" font-size="3.0" text-anchor="start" fill="#1f1fd0" font-weight="normal" stroke="#1f1fd0" stroke-width="0.16" text-rendering="geometricPrecision" transform="matrix(1 0 0 1.15 0 -27.696)">PLEKHG4</text>
<text x="83.80" y="168.54" font-size="3.0" text-anchor="start" fill="#1f1fd0" font-weight="normal" stroke="#1f1fd0" stroke-width="0.16" text-rendering="geometricPrecision" transform="matrix(1 0 0 1.15 0 -25.281)">COL5A1</text>
<text x="91.50" y="167.84" font-size="3.0" text-anchor="start" fill="#1f1fd0" font-weight="normal" stroke="#1f1fd0" stroke-width="0.16" text-rendering="geometricPrecision" transform="matrix(1 0 0 1.15 0 -25.176)">FNDC1</text>
<text x="88.00" y="172.24" font-size="3.0" text-anchor="start" fill="#1f1fd0" font-weight="normal" stroke="#1f1fd0" stroke-width="0.16" text-rendering="geometricPrecision" transform="matrix(1 0 0 1.15 0 -25.836)">SULF1</text>
<text x="95.50" y="171.74" font-size="3.0" text-anchor="start" fill="#1f1fd0" font-weight="normal" stroke="#1f1fd0" stroke-width="0.16" text-rendering="geometricPrecision" transform="matrix(1 0 0 1.15 0 -25.761)">COL11A1</text>
<text x="100.50" y="174.74" font-size="3.0" text-anchor="start" fill="#1f1fd0" font-weight="normal" stroke="#1f1fd0" stroke-width="0.16" text-rendering="geometricPrecision" transform="matrix(1 0 0 1.15 0 -26.211)">LRRC15</text>
<text x="91.00" y="176.24" font-size="3.0" text-anchor="start" fill="#1f1fd0" font-weight="normal" stroke="#1f1fd0" stroke-width="0.16" text-rendering="geometricPrecision" transform="matrix(1 0 0 1.15 0 -26.436)">THBS2</text>
<text x="92.00" y="179.74" font-size="3.0" text-anchor="start" fill="#1f1fd0" font-weight="normal" stroke="#1f1fd0" stroke-width="0.16" text-rendering="geometricPrecision" transform="matrix(1 0 0 1.15 0 -26.961)">POSTN</text>
<text x="92.00" y="182.74" font-size="3.0" text-anchor="start" fill="#1f1fd0" font-weight="normal" stroke="#1f1fd0" stroke-width="0.16" text-rendering="geometricPrecision" transform="matrix(1 0 0 1.15 0 -27.411)">INHBA</text>
<text x="123.00" y="175.84" font-size="3.0" text-anchor="start" fill="#1f1fd0" font-weight="normal" stroke="#1f1fd0" stroke-width="0.16" text-rendering="geometricPrecision" transform="matrix(1 0 0 1.15 0 -26.376)">PNPLA3</text>
<text x="131.00" y="180.64" font-size="3.0" text-anchor="start" fill="#1f1fd0" font-weight="normal" stroke="#1f1fd0" stroke-width="0.16" text-rendering="geometricPrecision" transform="matrix(1 0 0 1.15 0 -27.096)">MMP1</text>
<text x="114.00" y="180.64" font-size="3.0" text-anchor="start" fill="#1f1fd0" font-weight="normal" stroke="#1f1fd0" stroke-width="0.16" text-rendering="geometricPrecision" transform="matrix(1 0 0 1.15 0 -27.096)">SERPINE2</text>
<text x="118.00" y="185.54" font-size="3.0" text-anchor="start" fill="#1f1fd0" font-weight="normal" stroke="#1f1fd0" stroke-width="0.16" text-rendering="geometricPrecision" transform="matrix(1 0 0 1.15 0 -27.831)">PHGR1</text>
<text x="125.00" y="186.74" font-size="3.0" text-anchor="start" fill="#1f1fd0" font-weight="normal" stroke="#1f1fd0" stroke-width="0.16" text-rendering="geometricPrecision" transform="matrix(1 0 0 1.15 0 -28.011)">TAMS</text>
<text x="123.00" y="189.54" font-size="3.0" text-anchor="start" fill="#1f1fd0" font-weight="normal" stroke="#1f1fd0" stroke-width="0.16" text-rendering="geometricPrecision" transform="matrix(1 0 0 1.15 0 -28.431)">SOX2</text>
<text x="122.00" y="192.74" font-size="3.0" text-anchor="start" fill="#1f1fd0" font-weight="normal" stroke="#1f1fd0" stroke-width="0.16" text-rendering="geometricPrecision" transform="matrix(1 0 0 1.15 0 -28.911)">NOS1</text>
<circle cx="96.30" cy="116.80" r="0.95" fill="#000" />
<circle cx="96.30" cy="127.80" r="0.95" fill="#000" />
<circle cx="98.50" cy="141.10" r="0.95" fill="#000" />
<circle cx="101.10" cy="144.20" r="0.95" fill="#000" />
<circle cx="94.50" cy="160.20" r="0.95" fill="#000" />
<circle cx="96.50" cy="161.50" r="0.95" fill="#000" />
<circle cx="97.50" cy="160.00" r="0.95" fill="#000" />
<circle cx="95.80" cy="163.50" r="0.95" fill="#000" />
<circle cx="96.80" cy="165.80" r="0.95" fill="#000" />
<circle cx="97.60" cy="167.60" r="0.95" fill="#000" />
<circle cx="94.60" cy="168.20" r="0.95" fill="#000" />
<circle cx="58.60" cy="166.30" r="0.95" fill="#000" />
<circle cx="60.30" cy="167.20" r="0.95" fill="#000" />
<circle cx="59.60" cy="166.80" r="0.95" fill="#000" />
<defs><linearGradient id="gvD" gradientUnits="userSpaceOnUse" x1="187.00" x2="284.00" y1="0" y2="0"><stop offset="0" stop-color="#c8c8c8" stop-opacity="0"/><stop offset="0.198" stop-color="#bcbcbc" stop-opacity="0.85"/><stop offset="0.668" stop-color="#bcbcbc" stop-opacity="0.85"/><stop offset="1" stop-color="#c8c8c8" stop-opacity="0"/></linearGradient></defs>
<path d="M186 199 L200 195.5 L219.4 187.6 L219.4 171.5 L225.3 175.5 L228.8 197.2 L232.6 175.5 L238.2 171.5 L238.2 187.6 L260 194.5 L282 199 Z" fill="url(#gvD)"/>
<g fill="#b8b8b8" fill-opacity="0.45"><circle cx="274.39" cy="198.18" r="0.5"/><circle cx="242.67" cy="196.42" r="0.5"/><circle cx="261.28" cy="194.55" r="0.5"/><circle cx="199.29" cy="193.48" r="0.5"/><circle cx="207.32" cy="190.39" r="0.5"/><circle cx="252.75" cy="191.34" r="0.5"/><circle cx="222.04" cy="194.72" r="0.5"/><circle cx="245.50" cy="191.93" r="0.5"/><circle cx="219.78" cy="188.68" r="0.5"/><circle cx="233.63" cy="188.77" r="0.5"/><circle cx="255.35" cy="191.84" r="0.5"/><circle cx="268.95" cy="196.45" r="0.5"/><circle cx="222.52" cy="198.55" r="0.5"/><circle cx="191.53" cy="195.23" r="0.5"/><circle cx="220.41" cy="184.11" r="0.5"/><circle cx="262.23" cy="195.03" r="0.5"/><circle cx="239.88" cy="195.04" r="0.5"/><circle cx="204.22" cy="197.67" r="0.5"/><circle cx="202.67" cy="191.76" r="0.5"/><circle cx="238.75" cy="195.90" r="0.5"/><circle cx="231.20" cy="198.25" r="0.5"/><circle cx="275.86" cy="198.37" r="0.5"/><circle cx="268.33" cy="196.48" r="0.5"/><circle cx="263.44" cy="196.77" r="0.5"/><circle cx="215.60" cy="187.72" r="0.5"/><circle cx="230.99" cy="192.26" r="0.5"/><circle cx="233.47" cy="190.68" r="0.5"/><circle cx="219.83" cy="195.43" r="0.5"/><circle cx="222.25" cy="190.94" r="0.5"/><circle cx="234.11" cy="182.91" r="0.5"/><circle cx="231.91" cy="190.34" r="0.5"/><circle cx="238.35" cy="188.49" r="0.5"/><circle cx="257.84" cy="193.83" r="0.5"/><circle cx="227.82" cy="194.68" r="0.5"/><circle cx="189.68" cy="197.40" r="0.5"/><circle cx="250.06" cy="192.80" r="0.5"/><circle cx="248.19" cy="194.41" r="0.5"/><circle cx="208.95" cy="197.59" r="0.5"/><circle cx="217.78" cy="196.53" r="0.5"/><circle cx="223.89" cy="185.23" r="0.5"/><circle cx="214.02" cy="197.58" r="0.5"/><circle cx="219.92" cy="171.97" r="0.5"/><circle cx="222.84" cy="182.27" r="0.5"/><circle cx="187.09" cy="197.45" r="0.5"/><circle cx="246.67" cy="192.64" r="0.5"/><circle cx="228.87" cy="198.63" r="0.5"/><circle cx="244.79" cy="188.64" r="0.5"/><circle cx="235.14" cy="189.98" r="0.5"/><circle cx="214.78" cy="197.48" r="0.5"/><circle cx="267.20" cy="196.93" r="0.5"/><circle cx="212.97" cy="188.63" r="0.5"/><circle cx="233.04" cy="187.82" r="0.5"/><circle cx="259.12" cy="194.25" r="0.5"/><circle cx="216.17" cy="195.02" r="0.5"/><circle cx="215.79" cy="193.62" r="0.5"/><circle cx="244.31" cy="196.15" r="0.5"/><circle cx="228.49" cy="197.17" r="0.5"/><circle cx="206.06" cy="192.02" r="0.5"/><circle cx="233.41" cy="188.93" r="0.5"/><circle cx="219.08" cy="191.68" r="0.5"/><circle cx="265.75" cy="197.89" r="0.5"/><circle cx="251.37" cy="192.77" r="0.5"/><circle cx="255.02" cy="192.71" r="0.5"/><circle cx="246.23" cy="197.20" r="0.5"/><circle cx="247.37" cy="197.76" r="0.5"/><circle cx="223.78" cy="197.45" r="0.5"/><circle cx="272.21" cy="197.94" r="0.5"/><circle cx="223.30" cy="180.91" r="0.5"/><circle cx="237.15" cy="192.24" r="0.5"/><circle cx="223.01" cy="193.96" r="0.5"/><circle cx="195.84" cy="195.80" r="0.5"/><circle cx="233.61" cy="182.29" r="0.5"/><circle cx="192.20" cy="195.04" r="0.5"/><circle cx="253.07" cy="197.89" r="0.5"/><circle cx="266.60" cy="196.49" r="0.5"/><circle cx="221.37" cy="189.47" r="0.5"/><circle cx="246.53" cy="195.01" r="0.5"/><circle cx="229.04" cy="198.71" r="0.5"/><circle cx="196.41" cy="197.74" r="0.5"/><circle cx="233.66" cy="198.79" r="0.5"/><circle cx="247.09" cy="194.30" r="0.5"/><circle cx="196.68" cy="197.96" r="0.5"/><circle cx="223.34" cy="176.38" r="0.5"/><circle cx="201.76" cy="196.90" r="0.5"/><circle cx="202.67" cy="197.12" r="0.5"/><circle cx="233.76" cy="179.01" r="0.5"/><circle cx="257.74" cy="197.51" r="0.5"/><circle cx="217.25" cy="195.52" r="0.5"/><circle cx="202.85" cy="193.96" r="0.5"/><circle cx="228.77" cy="198.79" r="0.5"/><circle cx="226.79" cy="193.34" r="0.5"/><circle cx="220.95" cy="196.81" r="0.5"/><circle cx="277.77" cy="198.61" r="0.5"/><circle cx="226.52" cy="198.23" r="0.5"/><circle cx="226.03" cy="197.67" r="0.5"/><circle cx="217.45" cy="192.49" r="0.5"/><circle cx="234.19" cy="190.00" r="0.5"/><circle cx="230.56" cy="197.23" r="0.5"/><circle cx="199.59" cy="197.28" r="0.5"/><circle cx="242.97" cy="198.13" r="0.5"/><circle cx="254.96" cy="197.35" r="0.5"/><circle cx="214.74" cy="197.73" r="0.5"/><circle cx="227.80" cy="194.72" r="0.5"/><circle cx="242.75" cy="189.83" r="0.5"/><circle cx="224.09" cy="197.34" r="0.5"/><circle cx="203.43" cy="193.82" r="0.5"/><circle cx="214.70" cy="190.54" r="0.5"/><circle cx="241.05" cy="198.22" r="0.5"/><circle cx="246.36" cy="194.56" r="0.5"/><circle cx="222.15" cy="198.45" r="0.5"/><circle cx="257.50" cy="195.37" r="0.5"/><circle cx="230.28" cy="194.21" r="0.5"/><circle cx="229.11" cy="198.41" r="0.5"/><circle cx="227.69" cy="193.02" r="0.5"/><circle cx="225.09" cy="193.93" r="0.5"/><circle cx="210.43" cy="196.44" r="0.5"/><circle cx="225.88" cy="187.14" r="0.5"/><circle cx="234.54" cy="194.57" r="0.5"/><circle cx="223.51" cy="186.17" r="0.5"/><circle cx="243.91" cy="194.67" r="0.5"/><circle cx="217.77" cy="195.13" r="0.5"/><circle cx="224.14" cy="183.40" r="0.5"/><circle cx="222.19" cy="179.78" r="0.5"/><circle cx="237.65" cy="196.62" r="0.5"/><circle cx="256.46" cy="193.68" r="0.5"/><circle cx="246.27" cy="193.68" r="0.5"/><circle cx="225.16" cy="192.06" r="0.5"/><circle cx="246.51" cy="197.73" r="0.5"/><circle cx="216.64" cy="191.70" r="0.5"/><circle cx="208.79" cy="193.70" r="0.5"/><circle cx="228.26" cy="195.80" r="0.5"/><circle cx="216.33" cy="191.95" r="0.5"/><circle cx="189.96" cy="196.97" r="0.5"/><circle cx="245.53" cy="196.87" r="0.5"/><circle cx="196.78" cy="197.96" r="0.5"/><circle cx="196.00" cy="195.66" r="0.5"/><circle cx="197.02" cy="198.45" r="0.5"/><circle cx="231.49" cy="190.47" r="0.5"/><circle cx="239.72" cy="197.40" r="0.5"/><circle cx="244.92" cy="191.74" r="0.5"/><circle cx="278.67" cy="198.19" r="0.5"/><circle cx="215.19" cy="191.16" r="0.5"/><circle cx="215.71" cy="189.37" r="0.5"/><circle cx="237.37" cy="187.02" r="0.5"/><circle cx="265.65" cy="195.74" r="0.5"/><circle cx="222.02" cy="191.78" r="0.5"/><circle cx="231.45" cy="193.11" r="0.5"/><circle cx="232.77" cy="194.06" r="0.5"/><circle cx="236.26" cy="187.80" r="0.5"/><circle cx="190.50" cy="196.16" r="0.5"/><circle cx="227.09" cy="191.69" r="0.5"/><circle cx="213.28" cy="195.83" r="0.5"/><circle cx="251.65" cy="197.40" r="0.5"/><circle cx="231.39" cy="194.69" r="0.5"/><circle cx="206.06" cy="192.03" r="0.5"/><circle cx="200.22" cy="192.92" r="0.5"/><circle cx="277.94" cy="198.65" r="0.5"/><circle cx="228.61" cy="197.49" r="0.5"/><circle cx="195.74" cy="195.57" r="0.5"/><circle cx="223.37" cy="186.71" r="0.5"/><circle cx="257.95" cy="195.75" r="0.5"/><circle cx="255.46" cy="193.32" r="0.5"/><circle cx="227.63" cy="195.03" r="0.5"/><circle cx="263.91" cy="196.54" r="0.5"/><circle cx="220.54" cy="190.46" r="0.5"/><circle cx="230.65" cy="191.92" r="0.5"/><circle cx="222.93" cy="179.33" r="0.5"/><circle cx="216.02" cy="189.49" r="0.5"/><circle cx="234.95" cy="193.25" r="0.5"/><circle cx="231.03" cy="198.00" r="0.5"/><circle cx="220.18" cy="171.71" r="0.5"/><circle cx="212.54" cy="190.84" r="0.5"/><circle cx="224.70" cy="194.04" r="0.5"/><circle cx="229.55" cy="198.36" r="0.5"/><circle cx="200.32" cy="194.05" r="0.5"/><circle cx="241.44" cy="198.31" r="0.5"/><circle cx="271.52" cy="197.51" r="0.5"/><circle cx="197.77" cy="194.94" r="0.5"/><circle cx="196.00" cy="196.45" r="0.5"/><circle cx="256.92" cy="194.52" r="0.5"/><circle cx="268.83" cy="196.52" r="0.5"/><circle cx="212.09" cy="198.78" r="0.5"/><circle cx="202.08" cy="196.97" r="0.5"/><circle cx="203.96" cy="195.10" r="0.5"/><circle cx="201.07" cy="195.52" r="0.5"/><circle cx="227.70" cy="193.92" r="0.5"/><circle cx="215.48" cy="195.94" r="0.5"/><circle cx="219.63" cy="191.01" r="0.5"/><circle cx="224.26" cy="183.36" r="0.5"/><circle cx="212.29" cy="195.48" r="0.5"/><circle cx="196.30" cy="195.07" r="0.5"/><circle cx="226.82" cy="198.19" r="0.5"/><circle cx="216.24" cy="188.16" r="0.5"/><circle cx="236.12" cy="187.15" r="0.5"/><circle cx="208.94" cy="193.68" r="0.5"/><circle cx="215.13" cy="193.20" r="0.5"/><circle cx="232.21" cy="187.68" r="0.5"/><circle cx="239.64" cy="195.55" r="0.5"/><circle cx="228.50" cy="197.65" r="0.5"/><circle cx="238.31" cy="198.14" r="0.5"/><circle cx="229.99" cy="196.25" r="0.5"/><circle cx="235.52" cy="177.96" r="0.5"/><circle cx="200.02" cy="194.40" r="0.5"/><circle cx="257.72" cy="192.40" r="0.5"/><circle cx="199.94" cy="198.23" r="0.5"/><circle cx="230.30" cy="193.78" r="0.5"/><circle cx="211.43" cy="198.28" r="0.5"/><circle cx="256.90" cy="193.71" r="0.5"/><circle cx="219.64" cy="190.93" r="0.5"/><circle cx="236.00" cy="181.60" r="0.5"/><circle cx="264.21" cy="196.61" r="0.5"/><circle cx="233.42" cy="194.77" r="0.5"/><circle cx="249.54" cy="196.36" r="0.5"/><circle cx="235.87" cy="190.22" r="0.5"/><circle cx="230.12" cy="198.49" r="0.5"/><circle cx="201.30" cy="198.70" r="0.5"/><circle cx="261.31" cy="196.37" r="0.5"/><circle cx="229.53" cy="197.67" r="0.5"/><circle cx="237.61" cy="176.53" r="0.5"/><circle cx="246.88" cy="190.20" r="0.5"/><circle cx="224.71" cy="180.39" r="0.5"/><circle cx="230.75" cy="198.59" r="0.5"/><circle cx="231.20" cy="191.92" r="0.5"/><circle cx="227.36" cy="193.94" r="0.5"/><circle cx="230.01" cy="197.31" r="0.5"/><circle cx="261.63" cy="196.02" r="0.5"/><circle cx="222.15" cy="190.74" r="0.5"/><circle cx="187.67" cy="197.71" r="0.5"/><circle cx="197.18" cy="195.79" r="0.5"/><circle cx="194.74" cy="198.77" r="0.5"/><circle cx="239.08" cy="193.64" r="0.5"/><circle cx="229.71" cy="198.06" r="0.5"/><circle cx="244.66" cy="191.21" r="0.5"/><circle cx="226.51" cy="189.19" r="0.5"/><circle cx="252.74" cy="194.68" r="0.5"/><circle cx="232.54" cy="196.39" r="0.5"/><circle cx="213.99" cy="198.05" r="0.5"/><circle cx="252.42" cy="196.47" r="0.5"/><circle cx="278.67" cy="198.53" r="0.5"/><circle cx="231.78" cy="188.02" r="0.5"/><circle cx="230.92" cy="198.30" r="0.5"/><circle cx="209.12" cy="196.39" r="0.5"/><circle cx="220.63" cy="175.12" r="0.5"/><circle cx="242.26" cy="191.49" r="0.5"/><circle cx="246.66" cy="194.63" r="0.5"/><circle cx="222.43" cy="182.27" r="0.5"/><circle cx="258.19" cy="198.12" r="0.5"/><circle cx="193.55" cy="196.07" r="0.5"/><circle cx="231.40" cy="196.93" r="0.5"/><circle cx="225.99" cy="190.42" r="0.5"/><circle cx="229.42" cy="197.93" r="0.5"/><circle cx="214.78" cy="189.93" r="0.5"/><circle cx="250.92" cy="194.56" r="0.5"/><circle cx="243.35" cy="189.07" r="0.5"/><circle cx="219.86" cy="196.79" r="0.5"/><circle cx="277.61" cy="198.40" r="0.5"/><circle cx="190.15" cy="198.16" r="0.5"/><circle cx="211.03" cy="197.74" r="0.5"/><circle cx="203.40" cy="198.32" r="0.5"/><circle cx="234.63" cy="191.08" r="0.5"/><circle cx="224.18" cy="192.68" r="0.5"/><circle cx="231.39" cy="197.93" r="0.5"/><circle cx="210.99" cy="189.54" r="0.5"/><circle cx="218.25" cy="195.03" r="0.5"/><circle cx="201.51" cy="194.83" r="0.5"/><circle cx="209.12" cy="196.05" r="0.5"/><circle cx="209.16" cy="192.74" r="0.5"/><circle cx="243.68" cy="190.99" r="0.5"/><circle cx="194.67" cy="196.61" r="0.5"/><circle cx="239.89" cy="190.01" r="0.5"/><circle cx="220.62" cy="184.18" r="0.5"/><circle cx="250.57" cy="196.40" r="0.5"/><circle cx="232.63" cy="188.27" r="0.5"/><circle cx="241.35" cy="197.63" r="0.5"/><circle cx="277.11" cy="198.40" r="0.5"/><circle cx="215.58" cy="195.81" r="0.5"/><circle cx="275.25" cy="198.43" r="0.5"/><circle cx="229.88" cy="196.89" r="0.5"/><circle cx="234.06" cy="183.62" r="0.5"/><circle cx="251.24" cy="193.06" r="0.5"/><circle cx="222.68" cy="181.60" r="0.5"/><circle cx="255.31" cy="194.41" r="0.5"/><circle cx="247.18" cy="191.54" r="0.5"/><circle cx="279.77" cy="198.18" r="0.5"/><circle cx="267.36" cy="197.32" r="0.5"/><circle cx="234.87" cy="183.96" r="0.5"/><circle cx="217.92" cy="198.30" r="0.5"/><circle cx="213.90" cy="190.22" r="0.5"/><circle cx="233.25" cy="193.84" r="0.5"/><circle cx="222.29" cy="195.45" r="0.5"/><circle cx="221.36" cy="190.59" r="0.5"/><circle cx="213.09" cy="190.70" r="0.5"/><circle cx="278.79" cy="198.08" r="0.5"/><circle cx="228.15" cy="197.81" r="0.5"/><circle cx="216.55" cy="193.94" r="0.5"/><circle cx="237.50" cy="190.11" r="0.5"/><circle cx="210.70" cy="197.80" r="0.5"/><circle cx="237.57" cy="194.67" r="0.5"/><circle cx="189.86" cy="197.49" r="0.5"/><circle cx="219.71" cy="194.93" r="0.5"/><circle cx="234.80" cy="176.54" r="0.5"/><circle cx="233.84" cy="196.94" r="0.5"/><circle cx="207.27" cy="198.26" r="0.5"/><circle cx="237.62" cy="186.33" r="0.5"/><circle cx="253.05" cy="196.08" r="0.5"/><circle cx="220.47" cy="192.50" r="0.5"/><circle cx="237.07" cy="191.32" r="0.5"/><circle cx="277.47" cy="198.10" r="0.5"/><circle cx="196.23" cy="194.97" r="0.5"/><circle cx="233.18" cy="190.75" r="0.5"/><circle cx="205.86" cy="197.89" r="0.5"/><circle cx="227.01" cy="191.81" r="0.5"/><circle cx="234.76" cy="175.87" r="0.5"/><circle cx="277.08" cy="198.43" r="0.5"/><circle cx="221.80" cy="190.33" r="0.5"/><circle cx="234.32" cy="187.48" r="0.5"/><circle cx="202.22" cy="193.99" r="0.5"/><circle cx="218.89" cy="198.49" r="0.5"/><circle cx="221.71" cy="179.88" r="0.5"/><circle cx="249.47" cy="190.86" r="0.5"/><circle cx="212.73" cy="188.81" r="0.5"/><circle cx="212.42" cy="197.70" r="0.5"/><circle cx="235.15" cy="185.75" r="0.5"/><circle cx="223.05" cy="183.41" r="0.5"/><circle cx="240.10" cy="192.01" r="0.5"/><circle cx="198.12" cy="194.60" r="0.5"/><circle cx="220.91" cy="175.97" r="0.5"/><circle cx="224.55" cy="183.58" r="0.5"/><circle cx="254.56" cy="198.78" r="0.5"/><circle cx="229.23" cy="198.49" r="0.5"/><circle cx="226.57" cy="191.33" r="0.5"/><circle cx="224.53" cy="195.38" r="0.5"/><circle cx="221.82" cy="180.43" r="0.5"/><circle cx="218.67" cy="189.77" r="0.5"/><circle cx="273.27" cy="197.91" r="0.5"/><circle cx="219.90" cy="197.25" r="0.5"/><circle cx="253.32" cy="192.22" r="0.5"/><circle cx="201.17" cy="192.45" r="0.5"/><circle cx="220.52" cy="188.48" r="0.5"/><circle cx="253.01" cy="193.07" r="0.5"/><circle cx="201.49" cy="194.53" r="0.5"/><circle cx="191.65" cy="197.39" r="0.5"/><circle cx="252.53" cy="194.15" r="0.5"/><circle cx="196.36" cy="194.29" r="0.5"/><circle cx="267.91" cy="195.85" r="0.5"/><circle cx="213.27" cy="189.09" r="0.5"/><circle cx="231.93" cy="185.78" r="0.5"/><circle cx="224.53" cy="185.03" r="0.5"/><circle cx="206.80" cy="194.22" r="0.5"/><circle cx="228.49" cy="198.47" r="0.5"/><circle cx="220.26" cy="189.95" r="0.5"/><circle cx="254.47" cy="195.61" r="0.5"/><circle cx="203.21" cy="196.35" r="0.5"/><circle cx="237.71" cy="191.67" r="0.5"/><circle cx="200.80" cy="195.92" r="0.5"/><circle cx="232.02" cy="195.29" r="0.5"/><circle cx="228.61" cy="198.33" r="0.5"/><circle cx="227.47" cy="194.79" r="0.5"/><circle cx="279.22" cy="198.74" r="0.5"/><circle cx="241.15" cy="197.65" r="0.5"/><circle cx="211.26" cy="197.40" r="0.5"/><circle cx="259.25" cy="197.81" r="0.5"/><circle cx="247.13" cy="190.76" r="0.5"/><circle cx="212.94" cy="194.90" r="0.5"/><circle cx="229.30" cy="197.96" r="0.5"/><circle cx="195.02" cy="196.02" r="0.5"/><circle cx="211.22" cy="194.32" r="0.5"/><circle cx="227.74" cy="195.36" r="0.5"/><circle cx="213.98" cy="193.42" r="0.5"/><circle cx="244.93" cy="193.02" r="0.5"/><circle cx="240.89" cy="192.56" r="0.5"/><circle cx="235.23" cy="186.40" r="0.5"/><circle cx="218.92" cy="191.17" r="0.5"/><circle cx="240.62" cy="193.32" r="0.5"/><circle cx="226.46" cy="188.74" r="0.5"/><circle cx="223.16" cy="184.03" r="0.5"/><circle cx="251.72" cy="196.77" r="0.5"/><circle cx="253.06" cy="194.95" r="0.5"/><circle cx="230.78" cy="197.39" r="0.5"/><circle cx="279.86" cy="198.69" r="0.5"/><circle cx="255.42" cy="198.17" r="0.5"/><circle cx="250.13" cy="192.68" r="0.5"/><circle cx="235.45" cy="194.73" r="0.5"/><circle cx="228.54" cy="198.32" r="0.5"/><circle cx="234.61" cy="187.05" r="0.5"/><circle cx="218.60" cy="187.25" r="0.5"/><circle cx="264.75" cy="195.94" r="0.5"/><circle cx="223.92" cy="186.28" r="0.5"/><circle cx="243.00" cy="189.06" r="0.5"/><circle cx="234.69" cy="173.58" r="0.5"/><circle cx="218.70" cy="192.22" r="0.5"/><circle cx="246.69" cy="192.24" r="0.5"/><circle cx="215.83" cy="195.12" r="0.5"/><circle cx="216.64" cy="197.29" r="0.5"/><circle cx="198.59" cy="195.24" r="0.5"/><circle cx="228.10" cy="195.76" r="0.5"/><circle cx="220.20" cy="188.48" r="0.5"/><circle cx="279.98" cy="198.57" r="0.5"/><circle cx="217.02" cy="188.77" r="0.5"/><circle cx="203.67" cy="198.67" r="0.5"/><circle cx="230.92" cy="194.37" r="0.5"/><circle cx="221.96" cy="197.66" r="0.5"/><circle cx="196.46" cy="194.69" r="0.5"/><circle cx="259.91" cy="194.08" r="0.5"/><circle cx="206.52" cy="192.59" r="0.5"/><circle cx="224.38" cy="192.69" r="0.5"/><circle cx="210.79" cy="194.59" r="0.5"/><circle cx="234.67" cy="174.43" r="0.5"/><circle cx="199.13" cy="193.61" r="0.5"/><circle cx="238.62" cy="194.82" r="0.5"/><circle cx="234.74" cy="182.51" r="0.5"/><circle cx="256.72" cy="195.51" r="0.5"/><circle cx="212.86" cy="189.06" r="0.5"/><circle cx="221.42" cy="194.24" r="0.5"/><circle cx="242.63" cy="195.86" r="0.5"/><circle cx="226.43" cy="197.95" r="0.5"/><circle cx="228.42" cy="196.27" r="0.5"/><circle cx="220.50" cy="190.69" r="0.5"/><circle cx="210.04" cy="195.69" r="0.5"/><circle cx="199.08" cy="192.91" r="0.5"/><circle cx="227.72" cy="196.32" r="0.5"/><circle cx="236.19" cy="183.60" r="0.5"/><circle cx="198.44" cy="193.74" r="0.5"/><circle cx="220.44" cy="172.54" r="0.5"/><circle cx="247.29" cy="194.19" r="0.5"/><circle cx="218.57" cy="191.42" r="0.5"/><circle cx="236.19" cy="180.03" r="0.5"/><circle cx="213.24" cy="194.77" r="0.5"/><circle cx="234.03" cy="190.64" r="0.5"/><circle cx="222.70" cy="179.25" r="0.5"/><circle cx="235.77" cy="182.54" r="0.5"/><circle cx="228.12" cy="197.43" r="0.5"/><circle cx="248.93" cy="194.39" r="0.5"/><circle cx="234.76" cy="195.53" r="0.5"/><circle cx="231.65" cy="189.12" r="0.5"/><circle cx="201.65" cy="193.39" r="0.5"/><circle cx="205.39" cy="197.70" r="0.5"/><circle cx="255.20" cy="194.64" r="0.5"/><circle cx="238.40" cy="192.45" r="0.5"/><circle cx="233.55" cy="181.74" r="0.5"/><circle cx="249.02" cy="190.92" r="0.5"/><circle cx="232.85" cy="195.38" r="0.5"/><circle cx="237.35" cy="185.83" r="0.5"/><circle cx="276.31" cy="198.77" r="0.5"/><circle cx="232.58" cy="191.74" r="0.5"/><circle cx="220.16" cy="177.09" r="0.5"/><circle cx="228.50" cy="197.94" r="0.5"/><circle cx="215.37" cy="196.04" r="0.5"/><circle cx="201.76" cy="198.61" r="0.5"/><circle cx="212.59" cy="198.51" r="0.5"/><circle cx="211.73" cy="194.32" r="0.5"/><circle cx="197.49" cy="193.78" r="0.5"/><circle cx="214.19" cy="198.14" r="0.5"/><circle cx="226.15" cy="193.83" r="0.5"/><circle cx="232.23" cy="188.45" r="0.5"/><circle cx="227.44" cy="193.37" r="0.5"/><circle cx="215.78" cy="191.64" r="0.5"/><circle cx="258.60" cy="196.68" r="0.5"/><circle cx="226.50" cy="195.55" r="0.5"/><circle cx="226.53" cy="195.01" r="0.5"/><circle cx="222.54" cy="196.52" r="0.5"/><circle cx="199.90" cy="192.63" r="0.5"/><circle cx="203.17" cy="197.15" r="0.5"/><circle cx="207.22" cy="194.86" r="0.5"/><circle cx="262.24" cy="196.33" r="0.5"/><circle cx="238.76" cy="190.05" r="0.5"/><circle cx="235.05" cy="185.44" r="0.5"/><circle cx="228.76" cy="198.22" r="0.5"/><circle cx="219.94" cy="193.25" r="0.5"/><circle cx="237.65" cy="176.80" r="0.5"/><circle cx="205.51" cy="198.24" r="0.5"/><circle cx="216.03" cy="196.24" r="0.5"/><circle cx="217.11" cy="194.19" r="0.5"/><circle cx="219.47" cy="198.08" r="0.5"/><circle cx="236.69" cy="171.24" r="0.5"/><circle cx="247.16" cy="190.65" r="0.5"/><circle cx="233.27" cy="196.40" r="0.5"/><circle cx="242.05" cy="192.46" r="0.5"/><circle cx="227.61" cy="198.56" r="0.5"/><circle cx="208.69" cy="192.04" r="0.5"/><circle cx="240.04" cy="195.13" r="0.5"/><circle cx="201.31" cy="198.60" r="0.5"/><circle cx="221.01" cy="194.46" r="0.5"/><circle cx="256.38" cy="198.71" r="0.5"/><circle cx="187.69" cy="196.35" r="0.5"/><circle cx="231.31" cy="198.31" r="0.5"/><circle cx="249.23" cy="197.18" r="0.5"/><circle cx="229.40" cy="198.19" r="0.5"/><circle cx="241.44" cy="192.44" r="0.5"/><circle cx="232.96" cy="185.47" r="0.5"/><circle cx="229.98" cy="195.60" r="0.5"/><circle cx="210.32" cy="190.62" r="0.5"/><circle cx="232.47" cy="197.14" r="0.5"/><circle cx="215.04" cy="194.62" r="0.5"/><circle cx="242.15" cy="191.61" r="0.5"/><circle cx="218.29" cy="189.80" r="0.5"/><circle cx="278.02" cy="198.70" r="0.5"/><circle cx="227.71" cy="196.23" r="0.5"/><circle cx="235.05" cy="171.65" r="0.5"/><circle cx="240.62" cy="195.80" r="0.5"/><circle cx="262.42" cy="198.33" r="0.5"/><circle cx="248.06" cy="190.61" r="0.5"/><circle cx="246.78" cy="193.50" r="0.5"/><circle cx="208.19" cy="197.86" r="0.5"/><circle cx="280.42" cy="198.13" r="0.5"/><circle cx="243.16" cy="189.22" r="0.5"/><circle cx="209.97" cy="192.89" r="0.5"/><circle cx="258.73" cy="194.37" r="0.5"/><circle cx="242.76" cy="189.14" r="0.5"/><circle cx="208.57" cy="194.30" r="0.5"/><circle cx="230.10" cy="197.79" r="0.5"/><circle cx="224.72" cy="198.06" r="0.5"/><circle cx="211.91" cy="198.41" r="0.5"/><circle cx="231.58" cy="198.40" r="0.5"/><circle cx="279.27" cy="198.34" r="0.5"/><circle cx="245.46" cy="195.24" r="0.5"/><circle cx="216.09" cy="194.31" r="0.5"/><circle cx="224.01" cy="183.10" r="0.5"/><circle cx="246.57" cy="189.81" r="0.5"/><circle cx="227.19" cy="198.24" r="0.5"/><circle cx="197.38" cy="195.13" r="0.5"/><circle cx="282.87" cy="198.13" r="0.5"/><circle cx="235.35" cy="173.60" r="0.5"/><circle cx="258.77" cy="195.01" r="0.5"/><circle cx="240.03" cy="198.46" r="0.5"/><circle cx="227.24" cy="192.10" r="0.5"/><circle cx="224.46" cy="182.38" r="0.5"/><circle cx="243.94" cy="196.78" r="0.5"/><circle cx="245.74" cy="193.39" r="0.5"/><circle cx="212.87" cy="188.98" r="0.5"/><circle cx="272.83" cy="198.59" r="0.5"/><circle cx="212.22" cy="195.81" r="0.5"/><circle cx="264.06" cy="195.16" r="0.5"/><circle cx="247.38" cy="197.94" r="0.5"/><circle cx="216.44" cy="196.68" r="0.5"/><circle cx="197.75" cy="198.59" r="0.5"/><circle cx="236.57" cy="172.35" r="0.5"/><circle cx="242.03" cy="188.12" r="0.5"/><circle cx="254.93" cy="192.33" r="0.5"/><circle cx="259.97" cy="197.10" r="0.5"/><circle cx="222.13" cy="195.84" r="0.5"/><circle cx="198.73" cy="196.89" r="0.5"/><circle cx="200.18" cy="197.17" r="0.5"/><circle cx="219.22" cy="194.76" r="0.5"/><circle cx="242.47" cy="197.39" r="0.5"/><circle cx="234.12" cy="195.02" r="0.5"/><circle cx="236.86" cy="172.63" r="0.5"/><circle cx="244.48" cy="198.62" r="0.5"/><circle cx="225.62" cy="192.07" r="0.5"/><circle cx="223.29" cy="193.30" r="0.5"/><circle cx="212.20" cy="190.85" r="0.5"/><circle cx="237.71" cy="187.23" r="0.5"/><circle cx="224.13" cy="184.63" r="0.5"/><circle cx="221.41" cy="188.49" r="0.5"/><circle cx="227.32" cy="194.06" r="0.5"/><circle cx="237.70" cy="195.08" r="0.5"/><circle cx="205.84" cy="197.38" r="0.5"/><circle cx="243.97" cy="192.84" r="0.5"/><circle cx="189.14" cy="198.69" r="0.5"/><circle cx="257.41" cy="195.88" r="0.5"/><circle cx="237.28" cy="190.47" r="0.5"/><circle cx="209.42" cy="197.46" r="0.5"/><circle cx="245.95" cy="197.99" r="0.5"/><circle cx="219.69" cy="187.95" r="0.5"/><circle cx="238.85" cy="192.22" r="0.5"/><circle cx="205.27" cy="195.32" r="0.5"/><circle cx="214.95" cy="187.92" r="0.5"/><circle cx="190.77" cy="197.68" r="0.5"/><circle cx="219.23" cy="192.76" r="0.5"/><circle cx="255.80" cy="197.62" r="0.5"/><circle cx="198.63" cy="194.55" r="0.5"/><circle cx="256.49" cy="197.80" r="0.5"/><circle cx="224.75" cy="188.46" r="0.5"/><circle cx="205.93" cy="191.22" r="0.5"/><circle cx="214.92" cy="191.49" r="0.5"/><circle cx="277.45" cy="198.33" r="0.5"/><circle cx="251.22" cy="197.94" r="0.5"/><circle cx="219.34" cy="190.26" r="0.5"/><circle cx="232.61" cy="197.09" r="0.5"/><circle cx="233.14" cy="181.89" r="0.5"/><circle cx="278.79" cy="198.00" r="0.5"/><circle cx="220.59" cy="193.86" r="0.5"/><circle cx="198.78" cy="197.79" r="0.5"/><circle cx="229.65" cy="196.17" r="0.5"/><circle cx="268.95" cy="198.00" r="0.5"/><circle cx="250.20" cy="191.26" r="0.5"/><circle cx="262.42" cy="194.59" r="0.5"/><circle cx="239.26" cy="188.99" r="0.5"/><circle cx="231.34" cy="191.44" r="0.5"/><circle cx="227.68" cy="195.02" r="0.5"/><circle cx="221.13" cy="177.01" r="0.5"/><circle cx="189.55" cy="196.78" r="0.5"/><circle cx="228.33" cy="198.08" r="0.5"/><circle cx="238.78" cy="191.35" r="0.5"/><circle cx="232.53" cy="186.24" r="0.5"/><circle cx="251.70" cy="195.74" r="0.5"/><circle cx="237.54" cy="196.49" r="0.5"/><circle cx="214.72" cy="190.43" r="0.5"/><circle cx="236.67" cy="197.99" r="0.5"/><circle cx="220.53" cy="196.10" r="0.5"/><circle cx="231.47" cy="189.12" r="0.5"/><circle cx="237.74" cy="179.12" r="0.5"/><circle cx="281.01" cy="198.30" r="0.5"/><circle cx="223.48" cy="191.35" r="0.5"/><circle cx="197.62" cy="195.42" r="0.5"/><circle cx="247.49" cy="190.81" r="0.5"/><circle cx="239.90" cy="187.64" r="0.5"/><circle cx="229.44" cy="196.87" r="0.5"/><circle cx="207.38" cy="198.30" r="0.5"/><circle cx="268.18" cy="196.11" r="0.5"/><circle cx="195.06" cy="194.73" r="0.5"/><circle cx="227.98" cy="195.87" r="0.5"/><circle cx="230.28" cy="193.66" r="0.5"/><circle cx="260.19" cy="194.89" r="0.5"/><circle cx="213.18" cy="197.16" r="0.5"/><circle cx="259.31" cy="194.21" r="0.5"/><circle cx="258.21" cy="198.71" r="0.5"/><circle cx="227.70" cy="198.37" r="0.5"/><circle cx="247.46" cy="196.97" r="0.5"/><circle cx="213.40" cy="190.22" r="0.5"/><circle cx="217.47" cy="192.21" r="0.5"/><circle cx="222.60" cy="185.97" r="0.5"/><circle cx="239.48" cy="192.79" r="0.5"/><circle cx="227.61" cy="195.98" r="0.5"/><circle cx="220.22" cy="172.67" r="0.5"/><circle cx="282.06" cy="198.25" r="0.5"/><circle cx="222.67" cy="178.45" r="0.5"/><circle cx="211.85" cy="192.44" r="0.5"/><circle cx="248.25" cy="196.57" r="0.5"/><circle cx="221.69" cy="184.90" r="0.5"/><circle cx="261.33" cy="196.24" r="0.5"/><circle cx="197.66" cy="193.31" r="0.5"/><circle cx="229.65" cy="198.59" r="0.5"/><circle cx="225.72" cy="195.54" r="0.5"/><circle cx="267.91" cy="197.79" r="0.5"/><circle cx="257.07" cy="196.65" r="0.5"/><circle cx="273.49" cy="198.18" r="0.5"/><circle cx="235.45" cy="194.34" r="0.5"/><circle cx="230.07" cy="198.70" r="0.5"/><circle cx="226.43" cy="188.62" r="0.5"/><circle cx="259.38" cy="196.66" r="0.5"/><circle cx="201.90" cy="191.94" r="0.5"/><circle cx="219.99" cy="186.83" r="0.5"/><circle cx="256.59" cy="193.35" r="0.5"/><circle cx="221.13" cy="192.89" r="0.5"/><circle cx="195.10" cy="194.40" r="0.5"/><circle cx="256.65" cy="192.83" r="0.5"/><circle cx="256.47" cy="196.47" r="0.5"/><circle cx="229.36" cy="197.98" r="0.5"/><circle cx="225.53" cy="197.42" r="0.5"/><circle cx="215.42" cy="197.44" r="0.5"/><circle cx="217.13" cy="189.66" r="0.5"/><circle cx="219.43" cy="196.82" r="0.5"/><circle cx="261.18" cy="193.81" r="0.5"/><circle cx="194.11" cy="194.32" r="0.5"/><circle cx="283.40" cy="198.46" r="0.5"/><circle cx="228.17" cy="198.54" r="0.5"/><circle cx="250.64" cy="192.61" r="0.5"/><circle cx="214.41" cy="193.98" r="0.5"/><circle cx="208.37" cy="193.38" r="0.5"/><circle cx="228.47" cy="197.34" r="0.5"/><circle cx="258.87" cy="198.04" r="0.5"/><circle cx="255.22" cy="193.37" r="0.5"/><circle cx="240.82" cy="194.83" r="0.5"/><circle cx="226.78" cy="191.03" r="0.5"/><circle cx="248.63" cy="192.68" r="0.5"/><circle cx="242.34" cy="195.79" r="0.5"/><circle cx="244.31" cy="191.42" r="0.5"/><circle cx="263.20" cy="195.32" r="0.5"/><circle cx="264.20" cy="195.53" r="0.5"/><circle cx="230.77" cy="195.78" r="0.5"/><circle cx="248.09" cy="196.13" r="0.5"/><circle cx="217.13" cy="190.89" r="0.5"/><circle cx="223.58" cy="175.67" r="0.5"/><circle cx="228.77" cy="198.73" r="0.5"/><circle cx="275.46" cy="198.73" r="0.5"/><circle cx="244.95" cy="198.40" r="0.5"/><circle cx="220.06" cy="194.19" r="0.5"/><circle cx="223.35" cy="185.95" r="0.5"/><circle cx="188.32" cy="196.54" r="0.5"/><circle cx="234.68" cy="176.72" r="0.5"/><circle cx="223.71" cy="183.14" r="0.5"/><circle cx="236.93" cy="189.95" r="0.5"/><circle cx="227.38" cy="191.75" r="0.5"/><circle cx="216.50" cy="197.04" r="0.5"/><circle cx="268.46" cy="196.42" r="0.5"/><circle cx="234.52" cy="177.93" r="0.5"/><circle cx="205.53" cy="194.97" r="0.5"/><circle cx="236.82" cy="185.77" r="0.5"/><circle cx="229.50" cy="197.95" r="0.5"/><circle cx="226.45" cy="189.66" r="0.5"/><circle cx="236.11" cy="177.61" r="0.5"/><circle cx="224.91" cy="185.42" r="0.5"/><circle cx="225.92" cy="198.12" r="0.5"/><circle cx="216.96" cy="193.08" r="0.5"/><circle cx="233.78" cy="191.04" r="0.5"/><circle cx="236.42" cy="179.16" r="0.5"/><circle cx="230.61" cy="197.23" r="0.5"/><circle cx="191.00" cy="196.38" r="0.5"/><circle cx="252.48" cy="198.63" r="0.5"/><circle cx="275.43" cy="198.05" r="0.5"/><circle cx="230.16" cy="197.22" r="0.5"/><circle cx="203.12" cy="198.44" r="0.5"/><circle cx="227.93" cy="196.03" r="0.5"/><circle cx="237.02" cy="181.05" r="0.5"/><circle cx="231.25" cy="193.85" r="0.5"/><circle cx="236.26" cy="190.04" r="0.5"/><circle cx="219.05" cy="196.42" r="0.5"/><circle cx="217.49" cy="191.41" r="0.5"/><circle cx="220.15" cy="194.46" r="0.5"/><circle cx="262.34" cy="197.85" r="0.5"/><circle cx="244.06" cy="190.15" r="0.5"/><circle cx="243.48" cy="195.17" r="0.5"/><circle cx="252.00" cy="197.73" r="0.5"/><circle cx="225.48" cy="197.88" r="0.5"/><circle cx="225.32" cy="185.16" r="0.5"/><circle cx="259.38" cy="193.88" r="0.5"/><circle cx="190.98" cy="198.77" r="0.5"/><circle cx="226.64" cy="192.58" r="0.5"/><circle cx="212.62" cy="196.65" r="0.5"/><circle cx="263.43" cy="197.70" r="0.5"/><circle cx="201.96" cy="192.37" r="0.5"/><circle cx="245.43" cy="192.32" r="0.5"/><circle cx="229.67" cy="195.91" r="0.5"/><circle cx="233.58" cy="183.90" r="0.5"/><circle cx="214.42" cy="193.86" r="0.5"/><circle cx="219.15" cy="196.80" r="0.5"/><circle cx="232.36" cy="192.38" r="0.5"/><circle cx="248.26" cy="191.02" r="0.5"/><circle cx="259.12" cy="192.93" r="0.5"/><circle cx="214.59" cy="189.30" r="0.5"/><circle cx="239.65" cy="194.77" r="0.5"/><circle cx="208.21" cy="192.99" r="0.5"/><circle cx="210.75" cy="192.06" r="0.5"/><circle cx="258.63" cy="198.68" r="0.5"/><circle cx="263.06" cy="198.13" r="0.5"/><circle cx="215.87" cy="194.88" r="0.5"/><circle cx="240.00" cy="196.38" r="0.5"/><circle cx="221.15" cy="182.95" r="0.5"/><circle cx="241.77" cy="187.98" r="0.5"/><circle cx="214.47" cy="198.36" r="0.5"/><circle cx="211.28" cy="196.22" r="0.5"/><circle cx="248.45" cy="195.97" r="0.5"/><circle cx="239.66" cy="191.81" r="0.5"/><circle cx="203.82" cy="193.03" r="0.5"/><circle cx="274.47" cy="198.77" r="0.5"/><circle cx="236.83" cy="182.14" r="0.5"/><circle cx="212.20" cy="192.55" r="0.5"/><circle cx="203.04" cy="194.53" r="0.5"/><circle cx="230.26" cy="198.69" r="0.5"/><circle cx="224.80" cy="196.65" r="0.5"/><circle cx="239.90" cy="195.66" r="0.5"/><circle cx="218.15" cy="193.85" r="0.5"/><circle cx="207.00" cy="190.41" r="0.5"/><circle cx="205.19" cy="198.78" r="0.5"/><circle cx="254.99" cy="194.98" r="0.5"/><circle cx="195.44" cy="195.22" r="0.5"/><circle cx="230.34" cy="194.40" r="0.5"/><circle cx="228.23" cy="196.49" r="0.5"/><circle cx="220.28" cy="182.17" r="0.5"/><circle cx="215.17" cy="191.68" r="0.5"/><circle cx="233.28" cy="191.92" r="0.5"/><circle cx="222.58" cy="194.35" r="0.5"/><circle cx="233.47" cy="188.54" r="0.5"/><circle cx="235.13" cy="190.11" r="0.5"/><circle cx="222.52" cy="179.68" r="0.5"/><circle cx="235.73" cy="186.00" r="0.5"/><circle cx="248.80" cy="196.24" r="0.5"/><circle cx="210.83" cy="195.77" r="0.5"/><circle cx="247.00" cy="197.86" r="0.5"/><circle cx="242.38" cy="192.08" r="0.5"/><circle cx="223.84" cy="181.07" r="0.5"/><circle cx="236.48" cy="171.55" r="0.5"/><circle cx="257.01" cy="192.24" r="0.5"/><circle cx="230.80" cy="198.58" r="0.5"/><circle cx="203.69" cy="196.37" r="0.5"/><circle cx="209.08" cy="193.67" r="0.5"/><circle cx="227.66" cy="197.96" r="0.5"/><circle cx="225.08" cy="191.93" r="0.5"/><circle cx="230.11" cy="195.43" r="0.5"/><circle cx="233.76" cy="184.47" r="0.5"/><circle cx="255.51" cy="193.74" r="0.5"/><circle cx="279.58" cy="198.04" r="0.5"/><circle cx="228.28" cy="197.52" r="0.5"/><circle cx="231.14" cy="195.90" r="0.5"/><circle cx="219.82" cy="195.20" r="0.5"/><circle cx="245.19" cy="190.39" r="0.5"/><circle cx="207.77" cy="197.78" r="0.5"/><circle cx="221.99" cy="174.98" r="0.5"/><circle cx="235.10" cy="187.88" r="0.5"/><circle cx="271.52" cy="197.42" r="0.5"/><circle cx="221.85" cy="190.49" r="0.5"/><circle cx="252.52" cy="195.60" r="0.5"/><circle cx="263.17" cy="195.70" r="0.5"/><circle cx="235.07" cy="186.77" r="0.5"/><circle cx="203.60" cy="193.47" r="0.5"/><circle cx="218.42" cy="196.39" r="0.5"/><circle cx="245.91" cy="194.38" r="0.5"/><circle cx="227.27" cy="192.99" r="0.5"/><circle cx="226.10" cy="192.37" r="0.5"/><circle cx="222.20" cy="180.93" r="0.5"/><circle cx="275.37" cy="198.60" r="0.5"/><circle cx="209.30" cy="189.77" r="0.5"/><circle cx="192.23" cy="198.54" r="0.5"/><circle cx="245.29" cy="193.83" r="0.5"/><circle cx="259.49" cy="195.22" r="0.5"/><circle cx="199.44" cy="195.49" r="0.5"/><circle cx="223.07" cy="180.55" r="0.5"/><circle cx="229.18" cy="198.31" r="0.5"/><circle cx="242.38" cy="196.46" r="0.5"/><circle cx="278.00" cy="198.76" r="0.5"/><circle cx="246.48" cy="190.87" r="0.5"/><circle cx="221.50" cy="189.21" r="0.5"/><circle cx="207.48" cy="194.76" r="0.5"/><circle cx="239.67" cy="193.35" r="0.5"/><circle cx="238.72" cy="193.41" r="0.5"/><circle cx="222.05" cy="192.61" r="0.5"/><circle cx="198.84" cy="192.91" r="0.5"/><circle cx="233.03" cy="193.20" r="0.5"/><circle cx="236.79" cy="183.86" r="0.5"/><circle cx="245.77" cy="195.60" r="0.5"/><circle cx="253.05" cy="198.67" r="0.5"/><circle cx="216.95" cy="189.45" r="0.5"/><circle cx="233.91" cy="185.49" r="0.5"/><circle cx="226.26" cy="188.29" r="0.5"/><circle cx="226.21" cy="194.12" r="0.5"/><circle cx="231.82" cy="195.90" r="0.5"/><circle cx="230.07" cy="196.28" r="0.5"/><circle cx="224.67" cy="198.49" r="0.5"/><circle cx="221.39" cy="191.23" r="0.5"/><circle cx="199.46" cy="195.73" r="0.5"/><circle cx="253.70" cy="197.74" r="0.5"/><circle cx="236.69" cy="194.60" r="0.5"/><circle cx="260.03" cy="195.75" r="0.5"/><circle cx="270.82" cy="197.15" r="0.5"/><circle cx="196.06" cy="194.97" r="0.5"/><circle cx="211.13" cy="190.66" r="0.5"/><circle cx="233.82" cy="192.89" r="0.5"/><circle cx="230.13" cy="196.06" r="0.5"/><circle cx="219.85" cy="195.52" r="0.5"/><circle cx="226.27" cy="188.79" r="0.5"/><circle cx="216.58" cy="194.77" r="0.5"/><circle cx="222.92" cy="178.05" r="0.5"/><circle cx="191.42" cy="196.25" r="0.5"/><circle cx="232.97" cy="184.15" r="0.5"/><circle cx="205.05" cy="192.26" r="0.5"/><circle cx="209.91" cy="191.34" r="0.5"/><circle cx="235.12" cy="180.69" r="0.5"/><circle cx="197.68" cy="197.67" r="0.5"/><circle cx="228.65" cy="197.41" r="0.5"/><circle cx="196.09" cy="194.99" r="0.5"/><circle cx="193.09" cy="197.70" r="0.5"/><circle cx="224.95" cy="188.05" r="0.5"/><circle cx="212.10" cy="194.95" r="0.5"/><circle cx="202.63" cy="195.94" r="0.5"/><circle cx="245.18" cy="191.42" r="0.5"/><circle cx="270.56" cy="198.31" r="0.5"/><circle cx="233.91" cy="179.60" r="0.5"/><circle cx="205.26" cy="193.63" r="0.5"/><circle cx="226.35" cy="192.26" r="0.5"/><circle cx="209.54" cy="194.91" r="0.5"/><circle cx="240.33" cy="193.39" r="0.5"/><circle cx="212.52" cy="194.57" r="0.5"/><circle cx="193.57" cy="197.74" r="0.5"/><circle cx="228.24" cy="195.62" r="0.5"/><circle cx="272.66" cy="198.16" r="0.5"/><circle cx="219.62" cy="189.23" r="0.5"/><circle cx="232.36" cy="198.54" r="0.5"/><circle cx="254.45" cy="194.96" r="0.5"/><circle cx="248.26" cy="197.45" r="0.5"/><circle cx="219.98" cy="185.08" r="0.5"/><circle cx="244.04" cy="198.58" r="0.5"/><circle cx="228.32" cy="197.05" r="0.5"/><circle cx="244.27" cy="197.94" r="0.5"/><circle cx="250.32" cy="190.46" r="0.5"/><circle cx="205.70" cy="196.51" r="0.5"/><circle cx="225.73" cy="191.04" r="0.5"/><circle cx="235.95" cy="170.89" r="0.5"/><circle cx="246.25" cy="192.68" r="0.5"/><circle cx="259.40" cy="197.67" r="0.5"/><circle cx="281.69" cy="198.79" r="0.5"/><circle cx="236.24" cy="175.54" r="0.5"/><circle cx="243.15" cy="198.50" r="0.5"/><circle cx="233.92" cy="177.02" r="0.5"/><circle cx="208.40" cy="193.57" r="0.5"/><circle cx="219.67" cy="196.62" r="0.5"/><circle cx="245.74" cy="196.37" r="0.5"/><circle cx="212.65" cy="197.17" r="0.5"/><circle cx="229.61" cy="197.76" r="0.5"/><circle cx="246.08" cy="198.41" r="0.5"/><circle cx="258.81" cy="195.15" r="0.5"/><circle cx="272.49" cy="198.23" r="0.5"/><circle cx="221.36" cy="190.00" r="0.5"/><circle cx="197.78" cy="193.71" r="0.5"/><circle cx="224.11" cy="197.21" r="0.5"/><circle cx="242.56" cy="191.41" r="0.5"/><circle cx="245.93" cy="197.39" r="0.5"/><circle cx="228.36" cy="198.69" r="0.5"/><circle cx="236.27" cy="189.71" r="0.5"/><circle cx="212.75" cy="194.41" r="0.5"/></g>
<g fill="#1818e8"><circle cx="211.03" cy="180.37" r="0.65"/><circle cx="218.68" cy="185.55" r="0.65"/><circle cx="218.23" cy="185.68" r="0.65"/><circle cx="214.88" cy="180.35" r="0.65"/><circle cx="215.33" cy="186.28" r="0.65"/><circle cx="213.27" cy="186.60" r="0.65"/><circle cx="206.53" cy="183.51" r="0.65"/><circle cx="218.85" cy="176.96" r="0.65"/><circle cx="218.96" cy="175.13" r="0.65"/><circle cx="213.65" cy="182.20" r="0.65"/><circle cx="218.94" cy="184.15" r="0.65"/><circle cx="185.19" cy="185.14" r="0.65"/><circle cx="219.08" cy="184.96" r="0.65"/><circle cx="211.04" cy="178.32" r="0.65"/><circle cx="205.06" cy="172.05" r="0.65"/><circle cx="216.08" cy="180.29" r="0.65"/><circle cx="218.41" cy="181.35" r="0.65"/><circle cx="213.87" cy="172.96" r="0.65"/><circle cx="201.25" cy="184.98" r="0.65"/><circle cx="214.42" cy="173.41" r="0.65"/><circle cx="209.21" cy="168.67" r="0.65"/><circle cx="217.98" cy="181.71" r="0.65"/><circle cx="214.92" cy="176.32" r="0.65"/><circle cx="218.95" cy="185.50" r="0.65"/><circle cx="216.67" cy="182.89" r="0.65"/><circle cx="218.06" cy="184.70" r="0.65"/><circle cx="217.24" cy="170.06" r="0.65"/><circle cx="212.46" cy="182.75" r="0.65"/><circle cx="211.14" cy="181.56" r="0.65"/><circle cx="206.23" cy="171.34" r="0.65"/><circle cx="204.40" cy="185.31" r="0.65"/><circle cx="218.27" cy="177.03" r="0.65"/><circle cx="216.45" cy="183.95" r="0.65"/><circle cx="215.07" cy="168.14" r="0.65"/><circle cx="218.60" cy="186.35" r="0.65"/><circle cx="201.50" cy="176.30" r="0.65"/><circle cx="212.43" cy="174.24" r="0.65"/><circle cx="193.77" cy="185.32" r="0.65"/><circle cx="191.76" cy="182.25" r="0.65"/><circle cx="206.90" cy="182.31" r="0.65"/><circle cx="213.34" cy="184.60" r="0.65"/><circle cx="203.09" cy="168.70" r="0.65"/><circle cx="218.70" cy="177.47" r="0.65"/><circle cx="216.12" cy="181.94" r="0.65"/><circle cx="211.64" cy="185.62" r="0.65"/><circle cx="213.44" cy="184.26" r="0.65"/><circle cx="218.91" cy="174.92" r="0.65"/><circle cx="205.42" cy="165.22" r="0.65"/><circle cx="218.89" cy="177.08" r="0.65"/><circle cx="211.78" cy="183.36" r="0.65"/><circle cx="210.17" cy="178.52" r="0.65"/><circle cx="218.53" cy="175.60" r="0.65"/><circle cx="204.25" cy="170.34" r="0.65"/><circle cx="217.87" cy="186.58" r="0.65"/><circle cx="212.22" cy="185.95" r="0.65"/><circle cx="216.63" cy="181.04" r="0.65"/><circle cx="215.88" cy="176.12" r="0.65"/><circle cx="211.90" cy="180.89" r="0.65"/><circle cx="213.91" cy="165.90" r="0.65"/><circle cx="218.64" cy="175.68" r="0.65"/><circle cx="213.58" cy="184.39" r="0.65"/><circle cx="216.23" cy="182.07" r="0.65"/><circle cx="217.22" cy="181.45" r="0.65"/><circle cx="216.98" cy="184.22" r="0.65"/><circle cx="218.25" cy="183.69" r="0.65"/><circle cx="215.78" cy="181.12" r="0.65"/><circle cx="213.56" cy="181.02" r="0.65"/><circle cx="215.22" cy="177.28" r="0.65"/><circle cx="195.63" cy="171.97" r="0.65"/><circle cx="218.35" cy="184.57" r="0.65"/><circle cx="208.04" cy="181.41" r="0.65"/><circle cx="214.14" cy="186.77" r="0.65"/><circle cx="182.72" cy="182.51" r="0.65"/><circle cx="217.94" cy="177.48" r="0.65"/><circle cx="216.47" cy="169.59" r="0.65"/><circle cx="218.11" cy="179.22" r="0.65"/><circle cx="219.07" cy="176.63" r="0.65"/><circle cx="215.13" cy="180.54" r="0.65"/><circle cx="216.35" cy="173.22" r="0.65"/><circle cx="202.87" cy="182.87" r="0.65"/><circle cx="217.05" cy="185.78" r="0.65"/><circle cx="212.24" cy="185.48" r="0.65"/><circle cx="209.92" cy="178.19" r="0.65"/><circle cx="194.76" cy="185.10" r="0.65"/><circle cx="218.44" cy="180.99" r="0.65"/><circle cx="215.98" cy="179.79" r="0.65"/><circle cx="196.79" cy="182.61" r="0.65"/><circle cx="213.42" cy="171.87" r="0.65"/><circle cx="215.36" cy="170.52" r="0.65"/><circle cx="216.88" cy="180.72" r="0.65"/><circle cx="214.67" cy="176.70" r="0.65"/><circle cx="209.52" cy="168.55" r="0.65"/><circle cx="211.29" cy="185.17" r="0.65"/><circle cx="211.38" cy="186.53" r="0.65"/><circle cx="210.51" cy="169.49" r="0.65"/><circle cx="201.92" cy="174.66" r="0.65"/><circle cx="215.65" cy="171.92" r="0.65"/><circle cx="217.77" cy="182.89" r="0.65"/><circle cx="204.86" cy="176.82" r="0.65"/><circle cx="217.26" cy="172.98" r="0.65"/><circle cx="214.45" cy="175.53" r="0.65"/><circle cx="217.04" cy="179.45" r="0.65"/><circle cx="215.92" cy="183.73" r="0.65"/><circle cx="218.08" cy="179.59" r="0.65"/><circle cx="216.33" cy="185.12" r="0.65"/><circle cx="217.73" cy="184.32" r="0.65"/><circle cx="218.18" cy="183.15" r="0.65"/><circle cx="217.56" cy="184.57" r="0.65"/><circle cx="206.18" cy="182.87" r="0.65"/><circle cx="213.93" cy="173.49" r="0.65"/><circle cx="218.39" cy="176.26" r="0.65"/><circle cx="209.57" cy="186.07" r="0.65"/><circle cx="215.36" cy="171.27" r="0.65"/><circle cx="216.48" cy="185.32" r="0.65"/><circle cx="217.19" cy="183.39" r="0.65"/><circle cx="217.61" cy="185.20" r="0.65"/><circle cx="205.47" cy="179.48" r="0.65"/><circle cx="214.58" cy="176.00" r="0.65"/><circle cx="217.55" cy="177.61" r="0.65"/><circle cx="215.33" cy="181.67" r="0.65"/><circle cx="218.36" cy="185.76" r="0.65"/><circle cx="210.69" cy="183.19" r="0.65"/><circle cx="207.40" cy="184.17" r="0.65"/><circle cx="214.59" cy="186.53" r="0.65"/><circle cx="218.55" cy="182.93" r="0.65"/><circle cx="211.52" cy="177.57" r="0.65"/><circle cx="217.51" cy="185.27" r="0.65"/><circle cx="215.87" cy="183.64" r="0.65"/><circle cx="214.89" cy="166.65" r="0.65"/><circle cx="217.50" cy="186.05" r="0.65"/><circle cx="210.07" cy="175.87" r="0.65"/><circle cx="207.23" cy="180.71" r="0.65"/><circle cx="219.02" cy="180.35" r="0.65"/><circle cx="210.14" cy="172.47" r="0.65"/><circle cx="204.64" cy="180.10" r="0.65"/><circle cx="218.00" cy="181.76" r="0.65"/><circle cx="217.51" cy="184.83" r="0.65"/><circle cx="214.51" cy="181.60" r="0.65"/><circle cx="213.37" cy="164.63" r="0.65"/><circle cx="218.29" cy="186.15" r="0.65"/><circle cx="217.07" cy="186.36" r="0.65"/><circle cx="214.11" cy="164.71" r="0.65"/><circle cx="218.32" cy="182.59" r="0.65"/><circle cx="212.38" cy="176.67" r="0.65"/><circle cx="218.95" cy="180.40" r="0.65"/><circle cx="215.24" cy="184.53" r="0.65"/><circle cx="207.17" cy="178.03" r="0.65"/><circle cx="213.77" cy="186.49" r="0.65"/><circle cx="209.33" cy="186.53" r="0.65"/><circle cx="218.70" cy="182.19" r="0.65"/><circle cx="215.29" cy="180.89" r="0.65"/><circle cx="216.25" cy="169.37" r="0.65"/><circle cx="215.80" cy="177.01" r="0.65"/><circle cx="213.72" cy="178.10" r="0.65"/><circle cx="207.64" cy="184.51" r="0.65"/><circle cx="212.02" cy="182.95" r="0.65"/><circle cx="210.66" cy="176.69" r="0.65"/><circle cx="218.09" cy="185.14" r="0.65"/><circle cx="215.28" cy="174.09" r="0.65"/><circle cx="218.59" cy="180.84" r="0.65"/><circle cx="217.42" cy="184.83" r="0.65"/><circle cx="219.06" cy="185.04" r="0.65"/><circle cx="216.39" cy="170.93" r="0.65"/><circle cx="208.79" cy="177.57" r="0.65"/><circle cx="181.23" cy="183.91" r="0.65"/><circle cx="217.61" cy="172.24" r="0.65"/><circle cx="198.73" cy="184.70" r="0.65"/><circle cx="214.00" cy="181.14" r="0.65"/><circle cx="217.65" cy="175.69" r="0.65"/><circle cx="211.15" cy="178.06" r="0.65"/><circle cx="210.49" cy="181.23" r="0.65"/><circle cx="209.86" cy="165.23" r="0.65"/><circle cx="218.88" cy="181.04" r="0.65"/><circle cx="212.62" cy="185.16" r="0.65"/><circle cx="211.64" cy="185.69" r="0.65"/><circle cx="214.58" cy="184.50" r="0.65"/><circle cx="208.74" cy="163.61" r="0.65"/><circle cx="211.25" cy="182.93" r="0.65"/><circle cx="197.86" cy="175.02" r="0.65"/><circle cx="211.74" cy="182.11" r="0.65"/><circle cx="219.17" cy="184.25" r="0.65"/><circle cx="211.71" cy="185.71" r="0.65"/><circle cx="218.25" cy="183.15" r="0.65"/><circle cx="203.06" cy="163.89" r="0.65"/><circle cx="213.15" cy="182.83" r="0.65"/><circle cx="209.18" cy="183.77" r="0.65"/><circle cx="217.63" cy="171.95" r="0.65"/><circle cx="189.14" cy="179.08" r="0.65"/><circle cx="210.16" cy="173.96" r="0.65"/><circle cx="218.79" cy="179.62" r="0.65"/><circle cx="206.19" cy="185.99" r="0.65"/><circle cx="217.82" cy="177.77" r="0.65"/><circle cx="216.02" cy="186.34" r="0.65"/><circle cx="214.08" cy="183.62" r="0.65"/><circle cx="219.08" cy="181.08" r="0.65"/><circle cx="207.59" cy="181.69" r="0.65"/><circle cx="212.78" cy="183.37" r="0.65"/><circle cx="219.02" cy="186.36" r="0.65"/><circle cx="212.76" cy="175.67" r="0.65"/><circle cx="205.97" cy="184.66" r="0.65"/><circle cx="217.93" cy="181.39" r="0.65"/><circle cx="216.27" cy="181.24" r="0.65"/><circle cx="211.18" cy="170.13" r="0.65"/><circle cx="217.35" cy="175.53" r="0.65"/><circle cx="208.65" cy="179.76" r="0.65"/><circle cx="209.27" cy="185.67" r="0.65"/><circle cx="218.47" cy="185.31" r="0.65"/><circle cx="209.03" cy="181.20" r="0.65"/><circle cx="204.37" cy="185.19" r="0.65"/><circle cx="215.50" cy="184.78" r="0.65"/><circle cx="212.39" cy="183.36" r="0.65"/><circle cx="192.76" cy="169.24" r="0.65"/><circle cx="217.00" cy="185.23" r="0.65"/><circle cx="216.84" cy="182.41" r="0.65"/><circle cx="214.71" cy="185.62" r="0.65"/><circle cx="217.95" cy="179.15" r="0.65"/><circle cx="214.87" cy="177.03" r="0.65"/><circle cx="209.54" cy="183.99" r="0.65"/><circle cx="181.17" cy="186.79" r="0.65"/><circle cx="214.54" cy="184.22" r="0.65"/><circle cx="213.82" cy="169.39" r="0.65"/><circle cx="211.34" cy="186.59" r="0.65"/><circle cx="201.96" cy="165.20" r="0.65"/><circle cx="215.42" cy="170.32" r="0.65"/><circle cx="192.16" cy="174.06" r="0.65"/><circle cx="216.02" cy="177.69" r="0.65"/><circle cx="215.89" cy="180.16" r="0.65"/><circle cx="208.14" cy="181.38" r="0.65"/><circle cx="188.76" cy="182.01" r="0.65"/><circle cx="218.89" cy="185.29" r="0.65"/><circle cx="213.62" cy="165.52" r="0.65"/><circle cx="205.52" cy="164.00" r="0.65"/><circle cx="213.30" cy="184.06" r="0.65"/><circle cx="209.65" cy="181.69" r="0.65"/><circle cx="208.77" cy="175.43" r="0.65"/><circle cx="213.88" cy="186.46" r="0.65"/><circle cx="218.73" cy="184.94" r="0.65"/><circle cx="217.88" cy="182.76" r="0.65"/><circle cx="218.05" cy="184.94" r="0.65"/><circle cx="214.60" cy="170.58" r="0.65"/><circle cx="206.19" cy="181.33" r="0.65"/><circle cx="217.26" cy="172.36" r="0.65"/><circle cx="208.43" cy="168.54" r="0.65"/><circle cx="213.79" cy="174.55" r="0.65"/><circle cx="213.58" cy="169.42" r="0.65"/><circle cx="212.34" cy="183.43" r="0.65"/><circle cx="217.33" cy="185.85" r="0.65"/><circle cx="216.79" cy="185.45" r="0.65"/><circle cx="180.79" cy="176.76" r="0.65"/><circle cx="213.73" cy="182.58" r="0.65"/><circle cx="218.07" cy="186.60" r="0.65"/><circle cx="214.60" cy="179.11" r="0.65"/><circle cx="211.36" cy="172.81" r="0.65"/><circle cx="211.47" cy="172.65" r="0.65"/><circle cx="206.31" cy="180.40" r="0.65"/><circle cx="211.17" cy="182.42" r="0.65"/><circle cx="204.62" cy="181.07" r="0.65"/><circle cx="216.60" cy="180.71" r="0.65"/><circle cx="217.62" cy="177.96" r="0.65"/><circle cx="215.59" cy="185.71" r="0.65"/><circle cx="219.09" cy="175.27" r="0.65"/><circle cx="219.02" cy="180.68" r="0.65"/><circle cx="215.72" cy="186.15" r="0.65"/><circle cx="214.67" cy="186.01" r="0.65"/><circle cx="208.67" cy="177.82" r="0.65"/><circle cx="216.41" cy="175.73" r="0.65"/><circle cx="217.00" cy="183.90" r="0.65"/><circle cx="204.96" cy="181.91" r="0.65"/><circle cx="205.18" cy="173.67" r="0.65"/><circle cx="212.35" cy="166.01" r="0.65"/><circle cx="208.76" cy="186.50" r="0.65"/><circle cx="210.00" cy="185.41" r="0.65"/><circle cx="213.44" cy="169.92" r="0.65"/><circle cx="206.64" cy="184.21" r="0.65"/><circle cx="217.28" cy="184.52" r="0.65"/><circle cx="205.75" cy="171.04" r="0.65"/><circle cx="218.77" cy="178.59" r="0.65"/><circle cx="212.25" cy="186.46" r="0.65"/><circle cx="214.64" cy="178.79" r="0.65"/><circle cx="205.23" cy="174.78" r="0.65"/><circle cx="211.79" cy="181.17" r="0.65"/><circle cx="213.90" cy="179.10" r="0.65"/><circle cx="218.37" cy="181.98" r="0.65"/><circle cx="210.86" cy="186.35" r="0.65"/><circle cx="218.38" cy="183.28" r="0.65"/><circle cx="217.24" cy="184.73" r="0.65"/><circle cx="213.66" cy="182.52" r="0.65"/><circle cx="215.23" cy="182.45" r="0.65"/><circle cx="216.95" cy="186.53" r="0.65"/><circle cx="214.00" cy="183.07" r="0.65"/><circle cx="214.36" cy="183.98" r="0.65"/><circle cx="218.67" cy="181.97" r="0.65"/><circle cx="214.09" cy="185.41" r="0.65"/><circle cx="218.73" cy="179.54" r="0.65"/><circle cx="201.85" cy="179.29" r="0.65"/><circle cx="217.51" cy="181.35" r="0.65"/><circle cx="217.67" cy="181.51" r="0.65"/><circle cx="216.85" cy="176.24" r="0.65"/><circle cx="215.05" cy="173.36" r="0.65"/><circle cx="209.32" cy="176.78" r="0.65"/><circle cx="216.23" cy="185.88" r="0.65"/><circle cx="192.49" cy="184.31" r="0.65"/><circle cx="218.42" cy="184.85" r="0.65"/><circle cx="214.51" cy="180.24" r="0.65"/><circle cx="208.00" cy="182.41" r="0.65"/><circle cx="216.30" cy="179.97" r="0.65"/><circle cx="205.80" cy="179.20" r="0.65"/><circle cx="207.34" cy="179.19" r="0.65"/><circle cx="218.07" cy="182.62" r="0.65"/><circle cx="208.57" cy="172.68" r="0.65"/><circle cx="218.41" cy="183.71" r="0.65"/><circle cx="218.24" cy="185.20" r="0.65"/><circle cx="217.78" cy="185.81" r="0.65"/><circle cx="206.63" cy="182.44" r="0.65"/><circle cx="215.68" cy="180.79" r="0.65"/><circle cx="200.64" cy="184.71" r="0.65"/><circle cx="214.59" cy="185.13" r="0.65"/><circle cx="218.26" cy="176.07" r="0.65"/><circle cx="218.97" cy="185.82" r="0.65"/><circle cx="214.28" cy="185.58" r="0.65"/><circle cx="208.15" cy="170.67" r="0.65"/><circle cx="215.19" cy="184.86" r="0.65"/><circle cx="208.08" cy="180.26" r="0.65"/><circle cx="218.24" cy="183.10" r="0.65"/><circle cx="210.42" cy="182.67" r="0.65"/><circle cx="216.43" cy="182.58" r="0.65"/><circle cx="214.88" cy="185.50" r="0.65"/><circle cx="215.27" cy="181.47" r="0.65"/><circle cx="218.28" cy="186.17" r="0.65"/><circle cx="218.66" cy="180.26" r="0.65"/><circle cx="196.77" cy="181.11" r="0.65"/><circle cx="214.96" cy="186.73" r="0.65"/><circle cx="218.52" cy="185.42" r="0.65"/><circle cx="217.13" cy="175.98" r="0.65"/><circle cx="211.04" cy="176.10" r="0.65"/><circle cx="204.11" cy="170.71" r="0.65"/><circle cx="216.23" cy="181.06" r="0.65"/><circle cx="216.08" cy="184.80" r="0.65"/><circle cx="210.40" cy="180.41" r="0.65"/><circle cx="216.02" cy="177.30" r="0.65"/><circle cx="214.57" cy="179.02" r="0.65"/><circle cx="211.10" cy="181.07" r="0.65"/><circle cx="218.81" cy="183.86" r="0.65"/><circle cx="217.21" cy="170.19" r="0.65"/><circle cx="209.63" cy="174.32" r="0.65"/><circle cx="209.03" cy="168.86" r="0.65"/><circle cx="203.57" cy="176.46" r="0.65"/><circle cx="219.17" cy="183.01" r="0.65"/><circle cx="213.53" cy="180.38" r="0.65"/><circle cx="214.54" cy="184.12" r="0.65"/><circle cx="218.16" cy="182.13" r="0.65"/><circle cx="218.74" cy="183.82" r="0.65"/><circle cx="213.41" cy="182.59" r="0.65"/><circle cx="216.88" cy="185.45" r="0.65"/><circle cx="218.60" cy="184.81" r="0.65"/><circle cx="205.07" cy="186.33" r="0.65"/><circle cx="212.31" cy="176.30" r="0.65"/><circle cx="217.47" cy="175.11" r="0.65"/><circle cx="216.16" cy="185.26" r="0.65"/><circle cx="213.79" cy="169.78" r="0.65"/><circle cx="218.10" cy="176.50" r="0.65"/><circle cx="214.34" cy="177.60" r="0.65"/><circle cx="205.48" cy="184.51" r="0.65"/><circle cx="217.97" cy="180.81" r="0.65"/><circle cx="211.55" cy="172.01" r="0.65"/><circle cx="206.02" cy="169.51" r="0.65"/><circle cx="218.40" cy="186.64" r="0.65"/><circle cx="218.25" cy="179.86" r="0.65"/><circle cx="214.30" cy="186.03" r="0.65"/><circle cx="217.17" cy="171.87" r="0.65"/><circle cx="204.03" cy="175.38" r="0.65"/><circle cx="215.69" cy="184.61" r="0.65"/><circle cx="202.91" cy="175.39" r="0.65"/><circle cx="210.82" cy="172.53" r="0.65"/><circle cx="218.37" cy="186.10" r="0.65"/><circle cx="218.43" cy="175.53" r="0.65"/><circle cx="211.45" cy="176.29" r="0.65"/><circle cx="206.26" cy="181.32" r="0.65"/><circle cx="216.44" cy="185.95" r="0.65"/><circle cx="211.95" cy="186.63" r="0.65"/><circle cx="207.01" cy="180.74" r="0.65"/><circle cx="212.75" cy="180.77" r="0.65"/><circle cx="208.40" cy="175.24" r="0.65"/><circle cx="195.02" cy="174.85" r="0.65"/><circle cx="216.91" cy="184.48" r="0.65"/><circle cx="217.24" cy="180.38" r="0.65"/><circle cx="218.44" cy="186.35" r="0.65"/><circle cx="215.29" cy="185.56" r="0.65"/><circle cx="217.83" cy="183.17" r="0.65"/><circle cx="216.77" cy="173.37" r="0.65"/><circle cx="200.70" cy="184.85" r="0.65"/><circle cx="212.38" cy="186.57" r="0.65"/><circle cx="216.28" cy="179.29" r="0.65"/><circle cx="210.44" cy="186.37" r="0.65"/><circle cx="204.40" cy="178.10" r="0.65"/><circle cx="216.62" cy="183.31" r="0.65"/><circle cx="211.78" cy="184.33" r="0.65"/><circle cx="217.26" cy="174.74" r="0.65"/><circle cx="185.82" cy="173.70" r="0.65"/><circle cx="213.56" cy="178.60" r="0.65"/><circle cx="208.63" cy="184.58" r="0.65"/><circle cx="218.14" cy="176.77" r="0.65"/><circle cx="211.81" cy="181.50" r="0.65"/><circle cx="218.78" cy="174.84" r="0.65"/><circle cx="218.77" cy="185.46" r="0.65"/><circle cx="201.60" cy="173.05" r="0.65"/><circle cx="194.16" cy="186.57" r="0.65"/><circle cx="215.12" cy="172.44" r="0.65"/><circle cx="214.20" cy="172.51" r="0.65"/><circle cx="215.77" cy="173.10" r="0.65"/><circle cx="216.12" cy="182.92" r="0.65"/><circle cx="209.74" cy="178.08" r="0.65"/><circle cx="218.84" cy="180.03" r="0.65"/><circle cx="218.55" cy="185.73" r="0.65"/><circle cx="217.32" cy="184.40" r="0.65"/><circle cx="214.04" cy="185.74" r="0.65"/><circle cx="215.48" cy="177.51" r="0.65"/><circle cx="216.63" cy="186.58" r="0.65"/><circle cx="212.39" cy="170.71" r="0.65"/><circle cx="215.06" cy="173.34" r="0.65"/><circle cx="210.47" cy="186.25" r="0.65"/><circle cx="215.53" cy="182.18" r="0.65"/><circle cx="211.17" cy="178.89" r="0.65"/><circle cx="218.87" cy="185.93" r="0.65"/><circle cx="216.38" cy="183.75" r="0.65"/><circle cx="217.59" cy="186.14" r="0.65"/><circle cx="215.33" cy="164.16" r="0.65"/><circle cx="211.70" cy="186.54" r="0.65"/><circle cx="200.88" cy="168.00" r="0.65"/><circle cx="217.20" cy="184.11" r="0.65"/><circle cx="239.77" cy="184.63" r="0.65"/><circle cx="247.03" cy="169.97" r="0.65"/><circle cx="243.29" cy="184.22" r="0.65"/><circle cx="239.04" cy="176.84" r="0.65"/><circle cx="240.06" cy="180.97" r="0.65"/><circle cx="239.81" cy="185.54" r="0.65"/><circle cx="264.61" cy="185.32" r="0.65"/><circle cx="241.02" cy="185.31" r="0.65"/><circle cx="240.73" cy="178.77" r="0.65"/><circle cx="243.57" cy="182.44" r="0.65"/><circle cx="256.09" cy="186.46" r="0.65"/><circle cx="241.01" cy="186.09" r="0.65"/><circle cx="239.18" cy="178.12" r="0.65"/><circle cx="242.74" cy="173.11" r="0.65"/><circle cx="240.21" cy="184.69" r="0.65"/><circle cx="243.98" cy="184.23" r="0.65"/><circle cx="242.61" cy="182.12" r="0.65"/><circle cx="242.15" cy="183.42" r="0.65"/><circle cx="249.90" cy="171.83" r="0.65"/><circle cx="240.03" cy="175.14" r="0.65"/><circle cx="252.17" cy="165.28" r="0.65"/><circle cx="241.04" cy="180.90" r="0.65"/><circle cx="249.14" cy="184.01" r="0.65"/><circle cx="241.26" cy="174.71" r="0.65"/><circle cx="241.51" cy="186.60" r="0.65"/><circle cx="238.88" cy="183.55" r="0.65"/><circle cx="241.90" cy="184.51" r="0.65"/><circle cx="240.08" cy="184.25" r="0.65"/><circle cx="246.09" cy="184.79" r="0.65"/><circle cx="242.52" cy="184.68" r="0.65"/><circle cx="238.87" cy="179.60" r="0.65"/><circle cx="241.83" cy="178.24" r="0.65"/><circle cx="240.45" cy="178.64" r="0.65"/><circle cx="240.27" cy="173.20" r="0.65"/><circle cx="240.37" cy="184.29" r="0.65"/><circle cx="241.24" cy="181.66" r="0.65"/><circle cx="239.66" cy="177.91" r="0.65"/><circle cx="248.78" cy="176.11" r="0.65"/><circle cx="240.94" cy="176.67" r="0.65"/><circle cx="248.55" cy="186.02" r="0.65"/><circle cx="252.47" cy="174.89" r="0.65"/><circle cx="242.25" cy="171.03" r="0.65"/><circle cx="239.77" cy="185.77" r="0.65"/><circle cx="239.74" cy="177.16" r="0.65"/><circle cx="244.95" cy="182.20" r="0.65"/><circle cx="247.72" cy="183.37" r="0.65"/><circle cx="242.66" cy="170.30" r="0.65"/><circle cx="242.71" cy="184.95" r="0.65"/><circle cx="239.72" cy="182.58" r="0.65"/><circle cx="239.91" cy="186.66" r="0.65"/><circle cx="243.15" cy="182.73" r="0.65"/><circle cx="239.36" cy="184.26" r="0.65"/><circle cx="239.40" cy="185.94" r="0.65"/><circle cx="239.11" cy="180.32" r="0.65"/><circle cx="248.31" cy="172.23" r="0.65"/><circle cx="242.07" cy="174.33" r="0.65"/><circle cx="243.27" cy="186.59" r="0.65"/><circle cx="241.23" cy="185.24" r="0.65"/><circle cx="240.37" cy="180.08" r="0.65"/><circle cx="243.00" cy="183.29" r="0.65"/><circle cx="249.67" cy="182.08" r="0.65"/><circle cx="267.71" cy="183.78" r="0.65"/><circle cx="238.81" cy="181.37" r="0.65"/><circle cx="264.30" cy="185.96" r="0.65"/><circle cx="242.45" cy="177.40" r="0.65"/><circle cx="239.18" cy="179.10" r="0.65"/><circle cx="247.62" cy="181.75" r="0.65"/><circle cx="291.51" cy="179.03" r="0.65"/><circle cx="241.61" cy="183.96" r="0.65"/><circle cx="243.32" cy="176.47" r="0.65"/><circle cx="242.33" cy="174.99" r="0.65"/><circle cx="240.26" cy="181.56" r="0.65"/><circle cx="244.54" cy="185.29" r="0.65"/><circle cx="242.34" cy="169.28" r="0.65"/><circle cx="249.23" cy="184.14" r="0.65"/><circle cx="240.35" cy="186.78" r="0.65"/><circle cx="286.63" cy="182.27" r="0.65"/><circle cx="239.14" cy="179.78" r="0.65"/><circle cx="239.72" cy="186.75" r="0.65"/><circle cx="243.25" cy="182.51" r="0.65"/><circle cx="239.36" cy="184.16" r="0.65"/><circle cx="243.59" cy="183.78" r="0.65"/><circle cx="238.99" cy="186.63" r="0.65"/><circle cx="238.83" cy="180.19" r="0.65"/><circle cx="280.07" cy="186.41" r="0.65"/><circle cx="248.38" cy="175.28" r="0.65"/><circle cx="239.93" cy="179.35" r="0.65"/><circle cx="242.42" cy="182.60" r="0.65"/><circle cx="239.37" cy="181.46" r="0.65"/><circle cx="258.22" cy="185.11" r="0.65"/><circle cx="242.86" cy="180.88" r="0.65"/><circle cx="240.84" cy="177.45" r="0.65"/><circle cx="291.22" cy="174.17" r="0.65"/><circle cx="238.94" cy="183.95" r="0.65"/><circle cx="248.89" cy="184.39" r="0.65"/><circle cx="246.27" cy="182.29" r="0.65"/><circle cx="248.75" cy="179.42" r="0.65"/><circle cx="248.71" cy="177.11" r="0.65"/><circle cx="249.28" cy="171.53" r="0.65"/><circle cx="255.84" cy="181.87" r="0.65"/><circle cx="249.16" cy="185.49" r="0.65"/><circle cx="284.43" cy="186.79" r="0.65"/><circle cx="239.06" cy="178.39" r="0.65"/><circle cx="239.36" cy="180.72" r="0.65"/><circle cx="239.86" cy="182.36" r="0.65"/><circle cx="251.02" cy="185.97" r="0.65"/><circle cx="241.06" cy="179.84" r="0.65"/><circle cx="245.81" cy="177.31" r="0.65"/><circle cx="252.74" cy="167.27" r="0.65"/><circle cx="273.19" cy="168.12" r="0.65"/><circle cx="246.44" cy="164.27" r="0.65"/><circle cx="253.39" cy="166.42" r="0.65"/><circle cx="244.17" cy="179.15" r="0.65"/><circle cx="241.21" cy="183.42" r="0.65"/><circle cx="244.60" cy="183.24" r="0.65"/><circle cx="246.13" cy="185.10" r="0.65"/><circle cx="249.30" cy="185.67" r="0.65"/><circle cx="246.98" cy="184.86" r="0.65"/><circle cx="253.06" cy="180.72" r="0.65"/><circle cx="241.08" cy="180.54" r="0.65"/><circle cx="241.91" cy="183.49" r="0.65"/><circle cx="248.23" cy="175.79" r="0.65"/><circle cx="242.48" cy="171.26" r="0.65"/><circle cx="258.87" cy="177.45" r="0.65"/><circle cx="240.02" cy="182.50" r="0.65"/><circle cx="241.22" cy="181.40" r="0.65"/><circle cx="248.50" cy="186.14" r="0.65"/><circle cx="240.46" cy="179.02" r="0.65"/><circle cx="239.56" cy="180.13" r="0.65"/><circle cx="239.27" cy="178.52" r="0.65"/><circle cx="245.49" cy="181.38" r="0.65"/><circle cx="242.82" cy="182.45" r="0.65"/><circle cx="239.11" cy="186.32" r="0.65"/><circle cx="242.87" cy="180.14" r="0.65"/><circle cx="240.33" cy="186.34" r="0.65"/><circle cx="240.53" cy="184.57" r="0.65"/><circle cx="239.54" cy="181.84" r="0.65"/><circle cx="249.87" cy="186.29" r="0.65"/><circle cx="240.58" cy="178.86" r="0.65"/><circle cx="243.16" cy="174.46" r="0.65"/><circle cx="239.87" cy="180.84" r="0.65"/><circle cx="243.07" cy="184.87" r="0.65"/><circle cx="283.12" cy="180.05" r="0.65"/><circle cx="245.95" cy="180.00" r="0.65"/><circle cx="244.56" cy="176.96" r="0.65"/><circle cx="239.02" cy="180.70" r="0.65"/><circle cx="248.94" cy="167.52" r="0.65"/><circle cx="255.24" cy="182.80" r="0.65"/><circle cx="239.21" cy="179.66" r="0.65"/><circle cx="239.00" cy="186.33" r="0.65"/><circle cx="258.58" cy="178.43" r="0.65"/><circle cx="240.43" cy="186.49" r="0.65"/><circle cx="251.49" cy="185.16" r="0.65"/><circle cx="252.29" cy="180.93" r="0.65"/><circle cx="240.68" cy="185.33" r="0.65"/><circle cx="248.05" cy="185.07" r="0.65"/><circle cx="242.95" cy="179.14" r="0.65"/><circle cx="245.91" cy="185.21" r="0.65"/><circle cx="248.44" cy="183.15" r="0.65"/><circle cx="242.33" cy="177.79" r="0.65"/><circle cx="244.22" cy="175.53" r="0.65"/><circle cx="242.00" cy="186.77" r="0.65"/><circle cx="243.15" cy="173.28" r="0.65"/><circle cx="243.30" cy="180.10" r="0.65"/><circle cx="247.99" cy="183.78" r="0.65"/><circle cx="241.53" cy="185.78" r="0.65"/><circle cx="240.20" cy="186.78" r="0.65"/><circle cx="243.52" cy="183.53" r="0.65"/><circle cx="248.98" cy="164.58" r="0.65"/><circle cx="250.83" cy="182.75" r="0.65"/><circle cx="240.43" cy="170.65" r="0.65"/><circle cx="241.43" cy="174.78" r="0.65"/><circle cx="252.19" cy="178.81" r="0.65"/><circle cx="241.75" cy="184.97" r="0.65"/><circle cx="251.55" cy="180.79" r="0.65"/><circle cx="239.84" cy="180.92" r="0.65"/><circle cx="239.44" cy="185.66" r="0.65"/><circle cx="239.79" cy="179.45" r="0.65"/><circle cx="239.34" cy="174.00" r="0.65"/><circle cx="253.18" cy="172.72" r="0.65"/><circle cx="253.93" cy="183.85" r="0.65"/><circle cx="241.60" cy="183.24" r="0.65"/><circle cx="248.80" cy="185.34" r="0.65"/><circle cx="251.33" cy="177.35" r="0.65"/><circle cx="243.77" cy="176.07" r="0.65"/><circle cx="249.62" cy="183.52" r="0.65"/><circle cx="244.65" cy="173.87" r="0.65"/><circle cx="242.69" cy="184.22" r="0.65"/><circle cx="244.40" cy="172.42" r="0.65"/><circle cx="241.02" cy="177.40" r="0.65"/><circle cx="239.15" cy="179.04" r="0.65"/><circle cx="244.99" cy="186.63" r="0.65"/><circle cx="243.22" cy="184.96" r="0.65"/><circle cx="291.53" cy="171.99" r="0.65"/><circle cx="239.13" cy="178.09" r="0.65"/><circle cx="243.99" cy="183.42" r="0.65"/><circle cx="242.50" cy="186.60" r="0.65"/><circle cx="239.53" cy="184.94" r="0.65"/><circle cx="239.62" cy="181.37" r="0.65"/><circle cx="269.87" cy="181.83" r="0.65"/><circle cx="246.20" cy="168.83" r="0.65"/><circle cx="240.53" cy="178.97" r="0.65"/><circle cx="240.31" cy="172.60" r="0.65"/><circle cx="282.54" cy="184.80" r="0.65"/><circle cx="247.80" cy="180.43" r="0.65"/><circle cx="249.41" cy="173.41" r="0.65"/><circle cx="240.41" cy="181.59" r="0.65"/><circle cx="243.35" cy="185.54" r="0.65"/><circle cx="239.70" cy="179.28" r="0.65"/><circle cx="239.58" cy="176.61" r="0.65"/><circle cx="239.27" cy="185.25" r="0.65"/><circle cx="241.65" cy="171.18" r="0.65"/><circle cx="254.61" cy="182.85" r="0.65"/><circle cx="255.84" cy="164.61" r="0.65"/><circle cx="239.24" cy="177.01" r="0.65"/><circle cx="247.12" cy="171.73" r="0.65"/><circle cx="243.32" cy="178.79" r="0.65"/><circle cx="240.18" cy="186.60" r="0.65"/><circle cx="253.49" cy="186.53" r="0.65"/><circle cx="244.97" cy="177.69" r="0.65"/><circle cx="242.47" cy="183.97" r="0.65"/><circle cx="255.30" cy="185.16" r="0.65"/><circle cx="239.09" cy="183.63" r="0.65"/><circle cx="239.34" cy="184.88" r="0.65"/><circle cx="244.66" cy="184.56" r="0.65"/><circle cx="240.01" cy="184.85" r="0.65"/><circle cx="240.91" cy="185.41" r="0.65"/><circle cx="248.12" cy="182.61" r="0.65"/><circle cx="249.71" cy="182.42" r="0.65"/><circle cx="240.47" cy="183.09" r="0.65"/><circle cx="245.20" cy="171.12" r="0.65"/><circle cx="239.73" cy="183.20" r="0.65"/><circle cx="255.63" cy="183.09" r="0.65"/><circle cx="254.01" cy="180.68" r="0.65"/><circle cx="239.34" cy="182.81" r="0.65"/><circle cx="249.73" cy="172.79" r="0.65"/><circle cx="244.38" cy="186.47" r="0.65"/><circle cx="246.06" cy="183.64" r="0.65"/><circle cx="238.84" cy="183.78" r="0.65"/><circle cx="243.79" cy="185.34" r="0.65"/><circle cx="240.56" cy="184.45" r="0.65"/><circle cx="245.08" cy="173.36" r="0.65"/><circle cx="239.50" cy="182.37" r="0.65"/><circle cx="246.30" cy="181.82" r="0.65"/><circle cx="239.74" cy="184.87" r="0.65"/><circle cx="240.42" cy="179.82" r="0.65"/><circle cx="244.35" cy="184.49" r="0.65"/><circle cx="248.36" cy="176.68" r="0.65"/><circle cx="265.97" cy="186.09" r="0.65"/><circle cx="239.03" cy="175.48" r="0.65"/><circle cx="246.91" cy="180.40" r="0.65"/><circle cx="242.72" cy="180.16" r="0.65"/><circle cx="245.44" cy="186.28" r="0.65"/><circle cx="246.32" cy="179.07" r="0.65"/><circle cx="241.98" cy="183.34" r="0.65"/><circle cx="241.30" cy="172.39" r="0.65"/><circle cx="253.77" cy="176.88" r="0.65"/><circle cx="243.47" cy="175.66" r="0.65"/><circle cx="243.24" cy="170.45" r="0.65"/><circle cx="242.49" cy="173.61" r="0.65"/><circle cx="249.68" cy="180.09" r="0.65"/><circle cx="254.53" cy="173.66" r="0.65"/><circle cx="257.37" cy="179.72" r="0.65"/><circle cx="259.82" cy="184.10" r="0.65"/><circle cx="261.83" cy="175.37" r="0.65"/><circle cx="242.14" cy="184.66" r="0.65"/><circle cx="243.25" cy="182.03" r="0.65"/><circle cx="244.07" cy="172.51" r="0.65"/><circle cx="239.96" cy="184.96" r="0.65"/><circle cx="239.24" cy="183.05" r="0.65"/><circle cx="244.90" cy="172.22" r="0.65"/><circle cx="245.14" cy="184.35" r="0.65"/><circle cx="245.53" cy="174.58" r="0.65"/><circle cx="239.77" cy="183.57" r="0.65"/><circle cx="251.85" cy="184.98" r="0.65"/><circle cx="247.61" cy="180.44" r="0.65"/><circle cx="242.99" cy="186.55" r="0.65"/><circle cx="242.14" cy="177.01" r="0.65"/><circle cx="242.50" cy="183.06" r="0.65"/><circle cx="248.27" cy="174.27" r="0.65"/><circle cx="247.63" cy="184.30" r="0.65"/><circle cx="242.20" cy="174.38" r="0.65"/><circle cx="246.34" cy="185.06" r="0.65"/><circle cx="241.20" cy="174.96" r="0.65"/><circle cx="249.94" cy="185.32" r="0.65"/><circle cx="261.61" cy="185.33" r="0.65"/><circle cx="241.63" cy="182.14" r="0.65"/><circle cx="244.31" cy="179.06" r="0.65"/><circle cx="239.66" cy="182.12" r="0.65"/><circle cx="242.77" cy="178.87" r="0.65"/><circle cx="248.84" cy="170.92" r="0.65"/><circle cx="238.88" cy="185.78" r="0.65"/><circle cx="241.52" cy="167.79" r="0.65"/><circle cx="240.91" cy="181.85" r="0.65"/><circle cx="246.65" cy="184.77" r="0.65"/><circle cx="239.62" cy="173.05" r="0.65"/><circle cx="245.95" cy="185.39" r="0.65"/><circle cx="239.64" cy="182.53" r="0.65"/><circle cx="256.92" cy="182.77" r="0.65"/><circle cx="240.80" cy="172.38" r="0.65"/><circle cx="244.34" cy="185.70" r="0.65"/><circle cx="244.10" cy="184.07" r="0.65"/><circle cx="239.25" cy="181.93" r="0.65"/><circle cx="264.31" cy="184.39" r="0.65"/><circle cx="246.95" cy="180.89" r="0.65"/><circle cx="242.77" cy="181.48" r="0.65"/><circle cx="246.85" cy="164.72" r="0.65"/><circle cx="260.91" cy="185.01" r="0.65"/><circle cx="240.55" cy="180.95" r="0.65"/><circle cx="241.67" cy="182.93" r="0.65"/><circle cx="245.41" cy="183.48" r="0.65"/><circle cx="239.82" cy="180.52" r="0.65"/><circle cx="243.65" cy="184.18" r="0.65"/><circle cx="240.90" cy="182.68" r="0.65"/><circle cx="240.16" cy="177.46" r="0.65"/><circle cx="240.69" cy="179.79" r="0.65"/><circle cx="238.96" cy="175.13" r="0.65"/><circle cx="241.64" cy="182.66" r="0.65"/><circle cx="239.69" cy="186.36" r="0.65"/><circle cx="240.97" cy="170.52" r="0.65"/><circle cx="241.05" cy="183.55" r="0.65"/><circle cx="242.14" cy="171.23" r="0.65"/><circle cx="258.23" cy="183.87" r="0.65"/><circle cx="241.73" cy="183.97" r="0.65"/><circle cx="241.97" cy="182.56" r="0.65"/><circle cx="248.30" cy="182.39" r="0.65"/><circle cx="281.46" cy="185.71" r="0.65"/><circle cx="240.52" cy="185.57" r="0.65"/><circle cx="240.12" cy="175.76" r="0.65"/><circle cx="242.20" cy="183.42" r="0.65"/><circle cx="272.67" cy="183.43" r="0.65"/><circle cx="245.19" cy="168.68" r="0.65"/><circle cx="240.13" cy="185.57" r="0.65"/><circle cx="239.51" cy="177.50" r="0.65"/><circle cx="250.96" cy="185.41" r="0.65"/><circle cx="264.05" cy="184.01" r="0.65"/><circle cx="241.14" cy="178.42" r="0.65"/><circle cx="239.47" cy="176.99" r="0.65"/><circle cx="243.75" cy="186.45" r="0.65"/><circle cx="240.39" cy="176.79" r="0.65"/><circle cx="240.70" cy="173.29" r="0.65"/><circle cx="241.60" cy="184.39" r="0.65"/><circle cx="239.56" cy="183.58" r="0.65"/><circle cx="246.92" cy="178.39" r="0.65"/><circle cx="240.15" cy="176.23" r="0.65"/><circle cx="241.18" cy="174.96" r="0.65"/><circle cx="243.74" cy="186.51" r="0.65"/><circle cx="238.98" cy="185.99" r="0.65"/><circle cx="241.47" cy="183.21" r="0.65"/><circle cx="245.54" cy="172.25" r="0.65"/><circle cx="244.41" cy="186.17" r="0.65"/><circle cx="247.27" cy="183.05" r="0.65"/><circle cx="244.88" cy="173.62" r="0.65"/><circle cx="242.65" cy="185.75" r="0.65"/><circle cx="240.56" cy="185.18" r="0.65"/><circle cx="241.78" cy="173.08" r="0.65"/><circle cx="239.68" cy="181.88" r="0.65"/><circle cx="253.75" cy="173.35" r="0.65"/><circle cx="239.38" cy="179.80" r="0.65"/><circle cx="240.63" cy="185.77" r="0.65"/></g>
<line x1="219.40" y1="112.50" x2="219.40" y2="199.20" stroke="#666" stroke-width="0.4" stroke-dasharray="0.8 0.9"/>
<line x1="237.60" y1="112.50" x2="237.60" y2="199.20" stroke="#666" stroke-width="0.4" stroke-dasharray="0.8 0.9"/>
<line x1="175.10" y1="187.60" x2="281.00" y2="187.60" stroke="#777" stroke-width="0.35" stroke-dasharray="0.8 0.8"/>
<line x1="175.10" y1="111.50" x2="175.10" y2="199.20" stroke="#777" stroke-width="0.3" />
<line x1="175.10" y1="199.20" x2="285.00" y2="199.20" stroke="#777" stroke-width="0.3" />
<line x1="174.20" y1="199.20" x2="175.10" y2="199.20" stroke="#777" stroke-width="0.3" />
<text x="173.50" y="200.65" font-size="3.5" text-anchor="end" fill="#444" font-weight="normal"  text-rendering="geometricPrecision" stroke="#444" stroke-width="0.140" transform="matrix(1 0 0 1.15 0 -30.097)">0</text>
<line x1="174.20" y1="176.95" x2="175.10" y2="176.95" stroke="#777" stroke-width="0.3" />
<text x="173.50" y="178.40" font-size="3.5" text-anchor="end" fill="#444" font-weight="normal"  text-rendering="geometricPrecision" stroke="#444" stroke-width="0.140" transform="matrix(1 0 0 1.15 0 -26.760)">2.5</text>
<line x1="174.20" y1="154.70" x2="175.10" y2="154.70" stroke="#777" stroke-width="0.3" />
<text x="173.50" y="156.15" font-size="3.5" text-anchor="end" fill="#444" font-weight="normal"  text-rendering="geometricPrecision" stroke="#444" stroke-width="0.140" transform="matrix(1 0 0 1.15 0 -23.422)">5</text>
<line x1="174.20" y1="132.45" x2="175.10" y2="132.45" stroke="#777" stroke-width="0.3" />
<text x="173.50" y="133.90" font-size="3.5" text-anchor="end" fill="#444" font-weight="normal"  text-rendering="geometricPrecision" stroke="#444" stroke-width="0.140" transform="matrix(1 0 0 1.15 0 -20.085)">7.5</text>
<line x1="199.10" y1="199.20" x2="199.10" y2="200.10" stroke="#777" stroke-width="0.3" />
<text x="199.10" y="205.25" font-size="3.5" text-anchor="middle" fill="#444" font-weight="normal"  text-rendering="geometricPrecision" stroke="#444" stroke-width="0.140" transform="matrix(1 0 0 1.15 0 -30.787)">-1</text>
<line x1="229.00" y1="199.20" x2="229.00" y2="200.10" stroke="#777" stroke-width="0.3" />
<text x="229.00" y="205.25" font-size="3.5" text-anchor="middle" fill="#444" font-weight="normal"  text-rendering="geometricPrecision" stroke="#444" stroke-width="0.140" transform="matrix(1 0 0 1.15 0 -30.787)">0</text>
<line x1="258.90" y1="199.20" x2="258.90" y2="200.10" stroke="#777" stroke-width="0.3" />
<text x="258.90" y="205.25" font-size="3.5" text-anchor="middle" fill="#444" font-weight="normal"  text-rendering="geometricPrecision" stroke="#444" stroke-width="0.140" transform="matrix(1 0 0 1.15 0 -30.787)">1</text>
<text x="231.50" y="209.60" font-size="4.3" text-anchor="middle" fill="#333" stroke="#333" stroke-width="0.05" text-rendering="geometricPrecision" transform="matrix(1 0 0 1.15 0 -31.440)">log<tspan font-size="3.0" dy="0.9">2</tspan><tspan dy="-0.9">FoldChange</tspan></text>
<text x="0" y="0" font-size="4.3" text-anchor="middle" fill="#333" stroke="#333" stroke-width="0.050" text-rendering="geometricPrecision" transform="translate(164.83 160.00) rotate(-90) scale(1 1.15)">-log<tspan font-size="3.0" dy="0.9">10</tspan><tspan dy="-0.9">P-value</tspan></text>
<line x1="172.50" y1="213.40" x2="287.30" y2="213.40" stroke="#222" stroke-width="0.35" />
<path d="M171.00 213.4 l2 -1 v2 z M288.80 213.4 l-2 -1 v2 z" fill="#111"/>
<text x="170.40" y="210.34" font-size="3.0" text-anchor="start" fill="#222" font-weight="normal"  text-rendering="geometricPrecision" stroke="#222" stroke-width="0.120" transform="matrix(1 0 0 1.15 0 -31.551)">IG</text>
<text x="291.40" y="210.34" font-size="3.0" text-anchor="end" fill="#222" font-weight="normal"  text-rendering="geometricPrecision" stroke="#222" stroke-width="0.120" transform="matrix(1 0 0 1.15 0 -31.551)">BEX</text>
<text x="228.00" y="108.48" font-size="4.55" text-anchor="middle" fill="#222" font-weight="normal"  text-rendering="geometricPrecision" stroke="#222" stroke-width="0.091" transform="matrix(1 0 0 1.15 0 -16.273)">Tumor (NoR)</text>
<circle cx="271.00" cy="106.50" r="1.20" fill="#000" />
<text x="274.00" y="108.28" font-size="4.3" text-anchor="start" fill="#222" font-weight="normal"  text-rendering="geometricPrecision" stroke="#222" stroke-width="0.086" transform="matrix(1 0 0 1.15 0 -16.242)">*FDR</text>
<circle cx="271.00" cy="112.20" r="1.20" fill="#1414e6" />
<text x="274.00" y="113.98" font-size="4.3" text-anchor="start" fill="#222" font-weight="normal"  text-rendering="geometricPrecision" stroke="#222" stroke-width="0.086" transform="matrix(1 0 0 1.15 0 -17.097)">*P-value</text>
<circle cx="271.00" cy="118.60" r="1.20" fill="#aaa" />
<text x="274.00" y="120.68" font-size="4.3" text-anchor="start" fill="#222" font-weight="normal"  text-rendering="geometricPrecision" stroke="#222" stroke-width="0.086" transform="matrix(1 0 0 1.15 0 -18.102)">ns</text>
<text x="209.60" y="116.84" font-size="3.0" text-anchor="end" fill="#111" font-weight="normal" stroke="#111" stroke-width="0.11" text-rendering="geometricPrecision" transform="matrix(1 0 0 1.15 0 -17.526)">TRIM22</text>
<text x="208.50" y="149.54" font-size="3.0" text-anchor="end" fill="#111" font-weight="normal" stroke="#111" stroke-width="0.11" text-rendering="geometricPrecision" transform="matrix(1 0 0 1.15 0 -22.431)">TRBC1</text>
<text x="210.60" y="150.84" font-size="3.0" text-anchor="start" fill="#111" font-weight="normal" stroke="#111" stroke-width="0.11" text-rendering="geometricPrecision" transform="matrix(1 0 0 1.15 0 -22.626)">CD4</text>
<text x="219.40" y="146.94" font-size="3.0" text-anchor="start" fill="#111" font-weight="normal" stroke="#111" stroke-width="0.11" text-rendering="geometricPrecision" transform="matrix(1 0 0 1.15 0 -22.041)">HLA-DRB1</text>
<text x="219.40" y="149.54" font-size="3.0" text-anchor="start" fill="#111" font-weight="normal" stroke="#111" stroke-width="0.11" text-rendering="geometricPrecision" transform="matrix(1 0 0 1.15 0 -22.431)">HAVCR2</text>
<text x="220.00" y="152.94" font-size="3.0" text-anchor="start" fill="#111" font-weight="normal" stroke="#111" stroke-width="0.11" text-rendering="geometricPrecision" transform="matrix(1 0 0 1.15 0 -22.941)">CD83</text>
<text x="199.40" y="152.94" font-size="3.0" text-anchor="end" fill="#111" font-weight="normal" stroke="#111" stroke-width="0.11" text-rendering="geometricPrecision" transform="matrix(1 0 0 1.15 0 -22.941)">SELL</text>
<text x="208.00" y="156.74" font-size="3.0" text-anchor="end" fill="#111" font-weight="normal" stroke="#111" stroke-width="0.11" text-rendering="geometricPrecision" transform="matrix(1 0 0 1.15 0 -23.511)">CD3E</text>
<text x="208.20" y="160.64" font-size="3.0" text-anchor="end" fill="#111" font-weight="normal" stroke="#111" stroke-width="0.11" text-rendering="geometricPrecision" transform="matrix(1 0 0 1.15 0 -24.096)">LCK</text>
<text x="242.00" y="152.94" font-size="3.0" text-anchor="start" fill="#111" font-weight="normal" stroke="#111" stroke-width="0.11" text-rendering="geometricPrecision" transform="matrix(1 0 0 1.15 0 -22.941)">EPB38</text>
<text x="203.90" y="164.14" font-size="3.0" text-anchor="start" fill="#1f1fd0" font-weight="normal" stroke="#1f1fd0" stroke-width="0.16" text-rendering="geometricPrecision" transform="matrix(1 0 0 1.15 0 -24.621)">ACVRL1</text>
<text x="214.20" y="163.34" font-size="3.0" text-anchor="start" fill="#1f1fd0" font-weight="normal" stroke="#1f1fd0" stroke-width="0.16" text-rendering="geometricPrecision" transform="matrix(1 0 0 1.15 0 -24.501)">HLA-DRB5</text>
<text x="198.30" y="165.24" font-size="3.0" text-anchor="start" fill="#1f1fd0" font-weight="normal" stroke="#1f1fd0" stroke-width="0.16" text-rendering="geometricPrecision" transform="matrix(1 0 0 1.15 0 -24.786)">CD247</text>
<text x="219.00" y="166.54" font-size="3.0" text-anchor="start" fill="#1f1fd0" font-weight="normal" stroke="#1f1fd0" stroke-width="0.16" text-rendering="geometricPrecision" transform="matrix(1 0 0 1.15 0 -24.981)">CXCL9</text>
<text x="188.90" y="169.34" font-size="3.0" text-anchor="start" fill="#1f1fd0" font-weight="normal" stroke="#1f1fd0" stroke-width="0.16" text-rendering="geometricPrecision" transform="matrix(1 0 0 1.15 0 -25.401)">CTSS</text>
<text x="196.40" y="171.24" font-size="3.0" text-anchor="start" fill="#1f1fd0" font-weight="normal" stroke="#1f1fd0" stroke-width="0.16" text-rendering="geometricPrecision" transform="matrix(1 0 0 1.15 0 -25.686)">ITGB2</text>
<text x="219.00" y="171.24" font-size="3.0" text-anchor="start" fill="#1f1fd0" font-weight="normal" stroke="#1f1fd0" stroke-width="0.16" text-rendering="geometricPrecision" transform="matrix(1 0 0 1.15 0 -25.686)">IL2RG</text>
<text x="221.00" y="173.54" font-size="3.0" text-anchor="start" fill="#1f1fd0" font-weight="normal" stroke="#1f1fd0" stroke-width="0.16" text-rendering="geometricPrecision" transform="matrix(1 0 0 1.15 0 -26.031)">PTPRC</text>
<text x="198.30" y="173.54" font-size="3.0" text-anchor="start" fill="#1f1fd0" font-weight="normal" stroke="#1f1fd0" stroke-width="0.16" text-rendering="geometricPrecision" transform="matrix(1 0 0 1.15 0 -26.031)">CD48</text>
<text x="196.00" y="175.94" font-size="3.0" text-anchor="start" fill="#1f1fd0" font-weight="normal" stroke="#1f1fd0" stroke-width="0.16" text-rendering="geometricPrecision" transform="matrix(1 0 0 1.15 0 -26.391)">GZMK</text>
<text x="182.30" y="175.94" font-size="3.0" text-anchor="start" fill="#1f1fd0" font-weight="normal" stroke="#1f1fd0" stroke-width="0.16" text-rendering="geometricPrecision" transform="matrix(1 0 0 1.15 0 -26.391)">CXCL13</text>
<text x="175.80" y="180.24" font-size="3.0" text-anchor="start" fill="#1f1fd0" font-weight="normal" stroke="#1f1fd0" stroke-width="0.16" text-rendering="geometricPrecision" transform="matrix(1 0 0 1.15 0 -27.036)">KLRB1</text>
<text x="193.50" y="179.14" font-size="3.0" text-anchor="start" fill="#1f1fd0" font-weight="normal" stroke="#1f1fd0" stroke-width="0.16" text-rendering="geometricPrecision" transform="matrix(1 0 0 1.15 0 -26.871)">CD27</text>
<text x="182.30" y="182.54" font-size="3.0" text-anchor="start" fill="#1f1fd0" font-weight="normal" stroke="#1f1fd0" stroke-width="0.16" text-rendering="geometricPrecision" transform="matrix(1 0 0 1.15 0 -27.381)">CXCL11</text>
<text x="190.00" y="181.54" font-size="3.0" text-anchor="start" fill="#1f1fd0" font-weight="normal" stroke="#1f1fd0" stroke-width="0.16" text-rendering="geometricPrecision" transform="matrix(1 0 0 1.15 0 -27.231)">CCL19</text>
<text x="196.40" y="180.64" font-size="3.0" text-anchor="start" fill="#1f1fd0" font-weight="normal" stroke="#1f1fd0" stroke-width="0.16" text-rendering="geometricPrecision" transform="matrix(1 0 0 1.15 0 -27.096)">SLAMF6</text>
<text x="191.00" y="186.24" font-size="3.0" text-anchor="start" fill="#1f1fd0" font-weight="normal" stroke="#1f1fd0" stroke-width="0.16" text-rendering="geometricPrecision" transform="matrix(1 0 0 1.15 0 -27.936)">IL21R</text>
<text x="180.40" y="191.84" font-size="3.0" text-anchor="start" fill="#1f1fd0" font-weight="normal" stroke="#1f1fd0" stroke-width="0.16" text-rendering="geometricPrecision" transform="matrix(1 0 0 1.15 0 -28.776)">IKZF3</text>
<text x="183.50" y="193.74" font-size="3.0" text-anchor="start" fill="#1f1fd0" font-weight="normal" stroke="#1f1fd0" stroke-width="0.16" text-rendering="geometricPrecision" transform="matrix(1 0 0 1.15 0 -29.061)">CXCR3</text>
<text x="192.60" y="190.94" font-size="3.0" text-anchor="start" fill="#1f1fd0" font-weight="normal" stroke="#1f1fd0" stroke-width="0.16" text-rendering="geometricPrecision" transform="matrix(1 0 0 1.15 0 -28.641)">BLK</text>
<text x="216.00" y="168.74" font-size="3.0" text-anchor="start" fill="#1f1fd0" font-weight="normal" stroke="#1f1fd0" stroke-width="0.16" text-rendering="geometricPrecision" transform="matrix(1 0 0 1.15 0 -25.311)">CCL5</text>
<text x="205.00" y="177.24" font-size="3.0" text-anchor="start" fill="#1f1fd0" font-weight="normal" stroke="#1f1fd0" stroke-width="0.16" text-rendering="geometricPrecision" transform="matrix(1 0 0 1.15 0 -26.586)">GZMA</text>
<text x="240.50" y="164.74" font-size="3.0" text-anchor="start" fill="#1f1fd0" font-weight="normal" stroke="#1f1fd0" stroke-width="0.16" text-rendering="geometricPrecision" transform="matrix(1 0 0 1.15 0 -24.711)">NOTR</text>
<text x="244.00" y="167.74" font-size="3.0" text-anchor="start" fill="#1f1fd0" font-weight="normal" stroke="#1f1fd0" stroke-width="0.16" text-rendering="geometricPrecision" transform="matrix(1 0 0 1.15 0 -25.161)">MFAP4</text>
<text x="238.00" y="170.24" font-size="3.0" text-anchor="start" fill="#1f1fd0" font-weight="normal" stroke="#1f1fd0" stroke-width="0.16" text-rendering="geometricPrecision" transform="matrix(1 0 0 1.15 0 -25.536)">CCDC80</text>
<text x="243.00" y="172.74" font-size="3.0" text-anchor="start" fill="#1f1fd0" font-weight="normal" stroke="#1f1fd0" stroke-width="0.16" text-rendering="geometricPrecision" transform="matrix(1 0 0 1.15 0 -25.911)">MXRA5</text>
<text x="250.50" y="170.74" font-size="3.0" text-anchor="start" fill="#1f1fd0" font-weight="normal" stroke="#1f1fd0" stroke-width="0.16" text-rendering="geometricPrecision" transform="matrix(1 0 0 1.15 0 -25.611)">PCOLCE</text>
<text x="258.00" y="168.74" font-size="3.0" text-anchor="start" fill="#1f1fd0" font-weight="normal" stroke="#1f1fd0" stroke-width="0.16" text-rendering="geometricPrecision" transform="matrix(1 0 0 1.15 0 -25.311)">LGALS7B</text>
<text x="263.00" y="171.74" font-size="3.0" text-anchor="start" fill="#1f1fd0" font-weight="normal" stroke="#1f1fd0" stroke-width="0.16" text-rendering="geometricPrecision" transform="matrix(1 0 0 1.15 0 -25.761)">SFRP2</text>
<text x="274.00" y="170.74" font-size="3.0" text-anchor="start" fill="#1f1fd0" font-weight="normal" stroke="#1f1fd0" stroke-width="0.16" text-rendering="geometricPrecision" transform="matrix(1 0 0 1.15 0 -25.611)">ANGPTL2</text>
<text x="276.00" y="174.24" font-size="3.0" text-anchor="start" fill="#1f1fd0" font-weight="normal" stroke="#1f1fd0" stroke-width="0.16" text-rendering="geometricPrecision" transform="matrix(1 0 0 1.15 0 -26.136)">LGALS</text>
<text x="266.00" y="178.74" font-size="3.0" text-anchor="start" fill="#1f1fd0" font-weight="normal" stroke="#1f1fd0" stroke-width="0.16" text-rendering="geometricPrecision" transform="matrix(1 0 0 1.15 0 -26.811)">DKK3</text>
<text x="273.00" y="181.24" font-size="3.0" text-anchor="start" fill="#1f1fd0" font-weight="normal" stroke="#1f1fd0" stroke-width="0.16" text-rendering="geometricPrecision" transform="matrix(1 0 0 1.15 0 -27.186)">NPY1</text>
<text x="278.00" y="184.74" font-size="3.0" text-anchor="start" fill="#1f1fd0" font-weight="normal" stroke="#1f1fd0" stroke-width="0.16" text-rendering="geometricPrecision" transform="matrix(1 0 0 1.15 0 -27.711)">ISLR</text>
<text x="262.00" y="185.24" font-size="3.0" text-anchor="start" fill="#1f1fd0" font-weight="normal" stroke="#1f1fd0" stroke-width="0.16" text-rendering="geometricPrecision" transform="matrix(1 0 0 1.15 0 -27.786)">CPXM2</text>
<text x="257.00" y="189.24" font-size="3.0" text-anchor="start" fill="#1f1fd0" font-weight="normal" stroke="#1f1fd0" stroke-width="0.16" text-rendering="geometricPrecision" transform="matrix(1 0 0 1.15 0 -28.386)">CYGB</text>
<text x="279.00" y="190.74" font-size="3.0" text-anchor="start" fill="#1f1fd0" font-weight="normal" stroke="#1f1fd0" stroke-width="0.16" text-rendering="geometricPrecision" transform="matrix(1 0 0 1.15 0 -28.611)">CTHRC1</text>
<text x="258.00" y="192.24" font-size="3.0" text-anchor="start" fill="#1f1fd0" font-weight="normal" stroke="#1f1fd0" stroke-width="0.16" text-rendering="geometricPrecision" transform="matrix(1 0 0 1.15 0 -28.836)">TMEM119</text>
<text x="253.00" y="177.74" font-size="3.0" text-anchor="start" fill="#1f1fd0" font-weight="normal" stroke="#1f1fd0" stroke-width="0.16" text-rendering="geometricPrecision" transform="matrix(1 0 0 1.15 0 -26.661)">OLFML2B</text>
<text x="241.00" y="181.24" font-size="3.0" text-anchor="start" fill="#1f1fd0" font-weight="normal" stroke="#1f1fd0" stroke-width="0.16" text-rendering="geometricPrecision" transform="matrix(1 0 0 1.15 0 -27.186)">PDGFRL</text>
<circle cx="211.40" cy="116.80" r="0.95" fill="#000" />
<circle cx="203.00" cy="151.80" r="0.95" fill="#000" />
<circle cx="210.00" cy="150.50" r="0.95" fill="#000" />
<circle cx="216.30" cy="152.30" r="0.95" fill="#000" />
<circle cx="218.50" cy="149.80" r="0.95" fill="#000" />
<circle cx="211.00" cy="156.50" r="0.95" fill="#000" />
<circle cx="212.60" cy="158.00" r="0.95" fill="#000" />
<circle cx="215.00" cy="160.20" r="0.95" fill="#000" />
<circle cx="220.50" cy="157.50" r="0.95" fill="#000" />
<circle cx="240.90" cy="154.20" r="0.95" fill="#000" />
<circle cx="214.00" cy="154.50" r="0.95" fill="#000" />
<rect x="58.30" y="236.00" width="14.20" height="4.63" fill="#4a3ce8" stroke="none" stroke-width="0.3" />
<rect x="72.50" y="236.00" width="14.20" height="4.63" fill="#f8a890" stroke="none" stroke-width="0.3" />
<circle cx="65.40" cy="238.29" r="0.45" fill="#333" />
<line x1="56.90" y1="238.29" x2="57.90" y2="238.29" stroke="#666" stroke-width="0.3" />
<text x="56.30" y="238.12" font-size="2.6" text-anchor="end" fill="#333" font-weight="normal" stroke="#333" stroke-width="0.06"  text-rendering="geometricPrecision" transform="matrix(1 0 0 1.15 0 -35.718)">Communication between innate</text>
<text x="56.30" y="240.62" font-size="2.6" text-anchor="end" fill="#333" font-weight="normal" stroke="#333" stroke-width="0.06"  text-rendering="geometricPrecision" transform="matrix(1 0 0 1.15 0 -36.093)">and adaptive immune cells</text>
<rect x="58.30" y="240.59" width="14.20" height="4.63" fill="#4d3ee8" stroke="none" stroke-width="0.3" />
<rect x="72.50" y="240.59" width="14.20" height="4.63" fill="#f69878" stroke="none" stroke-width="0.3" />
<circle cx="65.40" cy="242.88" r="0.45" fill="#333" />
<circle cx="79.60" cy="242.88" r="0.45" fill="#333" />
<line x1="56.90" y1="242.88" x2="57.90" y2="242.88" stroke="#666" stroke-width="0.3" />
<text x="56.30" y="244.02" font-size="2.75" text-anchor="end" fill="#333" font-weight="normal" stroke="#333" stroke-width="0.06"  text-rendering="geometricPrecision" transform="matrix(1 0 0 1.15 0 -36.602)">Pathogen induced cytokine storm signaling</text>
<rect x="58.30" y="245.17" width="14.20" height="4.63" fill="#4a3ce8" stroke="none" stroke-width="0.3" />
<rect x="72.50" y="245.17" width="14.20" height="4.63" fill="#f8b4a0" stroke="none" stroke-width="0.3" />
<circle cx="65.40" cy="247.46" r="0.45" fill="#333" />
<line x1="56.90" y1="247.46" x2="57.90" y2="247.46" stroke="#666" stroke-width="0.3" />
<text x="56.30" y="248.60" font-size="2.75" text-anchor="end" fill="#333" font-weight="normal" stroke="#333" stroke-width="0.06"  text-rendering="geometricPrecision" transform="matrix(1 0 0 1.15 0 -37.290)">Macrophage classical activation signaling</text>
<rect x="58.30" y="249.75" width="14.20" height="4.63" fill="#5040e8" stroke="none" stroke-width="0.3" />
<rect x="72.50" y="249.75" width="14.20" height="4.63" fill="#f69070" stroke="none" stroke-width="0.3" />
<circle cx="65.40" cy="252.05" r="0.45" fill="#333" />
<circle cx="79.60" cy="252.05" r="0.45" fill="#333" />
<line x1="56.90" y1="252.05" x2="57.90" y2="252.05" stroke="#666" stroke-width="0.3" />
<text x="56.30" y="251.87" font-size="2.6" text-anchor="end" fill="#333" font-weight="normal" stroke="#333" stroke-width="0.06"  text-rendering="geometricPrecision" transform="matrix(1 0 0 1.15 0 -37.781)">Immunoregulatory interactions between</text>
<text x="56.30" y="254.37" font-size="2.6" text-anchor="end" fill="#333" font-weight="normal" stroke="#333" stroke-width="0.06"  text-rendering="geometricPrecision" transform="matrix(1 0 0 1.15 0 -38.156)">a lymphoid and a non-lymphoid cell</text>
<rect x="58.30" y="254.34" width="14.20" height="4.63" fill="#f5a487" stroke="none" stroke-width="0.3" />
<rect x="72.50" y="254.34" width="14.20" height="4.63" fill="#f06040" stroke="none" stroke-width="0.3" />
<circle cx="65.40" cy="256.63" r="0.45" fill="#333" />
<circle cx="79.60" cy="256.63" r="0.45" fill="#333" />
<line x1="56.90" y1="256.63" x2="57.90" y2="256.63" stroke="#666" stroke-width="0.3" />
<text x="56.30" y="257.77" font-size="2.75" text-anchor="end" fill="#333" font-weight="normal" stroke="#333" stroke-width="0.06"  text-rendering="geometricPrecision" transform="matrix(1 0 0 1.15 0 -38.666)">Extracellular matrix organization</text>
<rect x="58.30" y="258.93" width="14.20" height="4.63" fill="#9080ec" stroke="none" stroke-width="0.3" />
<rect x="72.50" y="258.93" width="14.20" height="4.63" fill="#f8a088" stroke="none" stroke-width="0.3" />
<circle cx="65.40" cy="261.22" r="0.45" fill="#333" />
<line x1="56.90" y1="261.22" x2="57.90" y2="261.22" stroke="#666" stroke-width="0.3" />
<text x="56.30" y="262.36" font-size="2.75" text-anchor="end" fill="#333" font-weight="normal" stroke="#333" stroke-width="0.06"  text-rendering="geometricPrecision" transform="matrix(1 0 0 1.15 0 -39.353)">Cell surface interactions at the vascular wall</text>
<rect x="58.30" y="263.51" width="14.20" height="4.63" fill="#8a78ec" stroke="none" stroke-width="0.3" />
<rect x="72.50" y="263.51" width="14.20" height="4.63" fill="#f8a890" stroke="none" stroke-width="0.3" />
<circle cx="65.40" cy="265.80" r="0.45" fill="#333" />
<line x1="56.90" y1="265.80" x2="57.90" y2="265.80" stroke="#666" stroke-width="0.3" />
<text x="56.30" y="266.94" font-size="2.75" text-anchor="end" fill="#333" font-weight="normal" stroke="#333" stroke-width="0.06"  text-rendering="geometricPrecision" transform="matrix(1 0 0 1.15 0 -40.041)">Neuroinflammation signaling</text>
<rect x="58.30" y="268.10" width="14.20" height="4.63" fill="#a898f0" stroke="none" stroke-width="0.3" />
<rect x="72.50" y="268.10" width="14.20" height="4.63" fill="#f37a5a" stroke="none" stroke-width="0.3" />
<circle cx="65.40" cy="270.39" r="0.45" fill="#333" />
<circle cx="79.60" cy="270.39" r="0.45" fill="#333" />
<line x1="56.90" y1="270.39" x2="57.90" y2="270.39" stroke="#666" stroke-width="0.3" />
<text x="56.30" y="271.53" font-size="2.75" text-anchor="end" fill="#333" font-weight="normal" stroke="#333" stroke-width="0.06"  text-rendering="geometricPrecision" transform="matrix(1 0 0 1.15 0 -40.729)">IL-6 signaling</text>
<rect x="58.30" y="272.68" width="14.20" height="4.63" fill="#8070ea" stroke="none" stroke-width="0.3" />
<rect x="72.50" y="272.68" width="14.20" height="4.63" fill="#f8a088" stroke="none" stroke-width="0.3" />
<circle cx="65.40" cy="274.97" r="0.45" fill="#333" />
<line x1="56.90" y1="274.97" x2="57.90" y2="274.97" stroke="#666" stroke-width="0.3" />
<text x="56.30" y="276.11" font-size="2.75" text-anchor="end" fill="#333" font-weight="normal" stroke="#333" stroke-width="0.06"  text-rendering="geometricPrecision" transform="matrix(1 0 0 1.15 0 -41.417)">Fcγ receptor dependent phagocytosis</text>
<rect x="58.30" y="277.26" width="14.20" height="4.63" fill="#7060e8" stroke="none" stroke-width="0.3" />
<rect x="72.50" y="277.26" width="14.20" height="4.63" fill="#f9b09a" stroke="none" stroke-width="0.3" />
<circle cx="65.40" cy="279.56" r="0.45" fill="#333" />
<line x1="56.90" y1="279.56" x2="57.90" y2="279.56" stroke="#666" stroke-width="0.3" />
<text x="56.30" y="280.70" font-size="2.75" text-anchor="end" fill="#333" font-weight="normal" stroke="#333" stroke-width="0.06"  text-rendering="geometricPrecision" transform="matrix(1 0 0 1.15 0 -42.104)">NFAT in regulation of the immune response</text>
<rect x="58.30" y="281.85" width="14.20" height="4.63" fill="#7a68e8" stroke="none" stroke-width="0.3" />
<rect x="72.50" y="281.85" width="14.20" height="4.63" fill="#f8a890" stroke="none" stroke-width="0.3" />
<circle cx="65.40" cy="284.14" r="0.45" fill="#333" />
<line x1="56.90" y1="284.14" x2="57.90" y2="284.14" stroke="#666" stroke-width="0.3" />
<text x="56.30" y="285.28" font-size="2.75" text-anchor="end" fill="#333" font-weight="normal" stroke="#333" stroke-width="0.06"  text-rendering="geometricPrecision" transform="matrix(1 0 0 1.15 0 -42.792)">Dendritic cell maturation</text>
<rect x="58.30" y="286.44" width="14.20" height="4.63" fill="#fcd8cc" stroke="none" stroke-width="0.3" />
<rect x="72.50" y="286.44" width="14.20" height="4.63" fill="#f04a28" stroke="none" stroke-width="0.3" />
<circle cx="79.60" cy="288.73" r="0.45" fill="#333" />
<line x1="56.90" y1="288.73" x2="57.90" y2="288.73" stroke="#666" stroke-width="0.3" />
<text x="56.30" y="289.87" font-size="2.75" text-anchor="end" fill="#333" font-weight="normal" stroke="#333" stroke-width="0.06"  text-rendering="geometricPrecision" transform="matrix(1 0 0 1.15 0 -43.480)">Osteoclasts in rheumatoid arthritis signaling</text>
<rect x="58.30" y="291.02" width="14.20" height="4.63" fill="#b0a0f0" stroke="none" stroke-width="0.3" />
<rect x="72.50" y="291.02" width="14.20" height="4.63" fill="#f47a5c" stroke="none" stroke-width="0.3" />
<circle cx="79.60" cy="293.31" r="0.45" fill="#333" />
<line x1="56.90" y1="293.31" x2="57.90" y2="293.31" stroke="#666" stroke-width="0.3" />
<text x="56.30" y="294.45" font-size="2.75" text-anchor="end" fill="#333" font-weight="normal" stroke="#333" stroke-width="0.06"  text-rendering="geometricPrecision" transform="matrix(1 0 0 1.15 0 -44.168)">Neutrophil degranulation</text>
<rect x="58.30" y="295.61" width="14.20" height="4.63" fill="#f8b8a4" stroke="none" stroke-width="0.3" />
<rect x="72.50" y="295.61" width="14.20" height="4.63" fill="#f47a5c" stroke="none" stroke-width="0.3" />
<circle cx="65.40" cy="297.90" r="0.45" fill="#333" />
<circle cx="79.60" cy="297.90" r="0.45" fill="#333" />
<line x1="56.90" y1="297.90" x2="57.90" y2="297.90" stroke="#666" stroke-width="0.3" />
<text x="56.30" y="297.72" font-size="2.6" text-anchor="end" fill="#333" font-weight="normal" stroke="#333" stroke-width="0.06"  text-rendering="geometricPrecision" transform="matrix(1 0 0 1.15 0 -44.659)">Assembly of collagen fibrils and</text>
<text x="56.30" y="300.22" font-size="2.6" text-anchor="end" fill="#333" font-weight="normal" stroke="#333" stroke-width="0.06"  text-rendering="geometricPrecision" transform="matrix(1 0 0 1.15 0 -45.034)">other multimeric structures</text>
<rect x="58.30" y="300.19" width="14.20" height="4.63" fill="#f8b8a4" stroke="none" stroke-width="0.3" />
<rect x="72.50" y="300.19" width="14.20" height="4.63" fill="#f47a5c" stroke="none" stroke-width="0.3" />
<circle cx="65.40" cy="302.48" r="0.45" fill="#333" />
<circle cx="79.60" cy="302.48" r="0.45" fill="#333" />
<line x1="56.90" y1="302.48" x2="57.90" y2="302.48" stroke="#666" stroke-width="0.3" />
<text x="56.30" y="303.62" font-size="2.75" text-anchor="end" fill="#333" font-weight="normal" stroke="#333" stroke-width="0.06"  text-rendering="geometricPrecision" transform="matrix(1 0 0 1.15 0 -45.543)">GP6 signaling</text>
<rect x="58.30" y="304.77" width="14.20" height="4.63" fill="#f8b8a0" stroke="none" stroke-width="0.3" />
<rect x="72.50" y="304.77" width="14.20" height="4.63" fill="#f47a5c" stroke="none" stroke-width="0.3" />
<circle cx="65.40" cy="307.07" r="0.45" fill="#333" />
<circle cx="79.60" cy="307.07" r="0.45" fill="#333" />
<line x1="56.90" y1="307.07" x2="57.90" y2="307.07" stroke="#666" stroke-width="0.3" />
<text x="56.30" y="308.21" font-size="2.75" text-anchor="end" fill="#333" font-weight="normal" stroke="#333" stroke-width="0.06"  text-rendering="geometricPrecision" transform="matrix(1 0 0 1.15 0 -46.231)">Collagen biosynthesis and modifying enzymes</text>
<rect x="58.30" y="309.36" width="14.20" height="4.63" fill="#fac8b8" stroke="none" stroke-width="0.3" />
<rect x="72.50" y="309.36" width="14.20" height="4.63" fill="#f47050" stroke="none" stroke-width="0.3" />
<circle cx="79.60" cy="311.65" r="0.45" fill="#333" />
<line x1="56.90" y1="311.65" x2="57.90" y2="311.65" stroke="#666" stroke-width="0.3" />
<text x="56.30" y="312.79" font-size="2.75" text-anchor="end" fill="#333" font-weight="normal" stroke="#333" stroke-width="0.06"  text-rendering="geometricPrecision" transform="matrix(1 0 0 1.15 0 -46.919)">Collagen degradation</text>
<rect x="58.30" y="313.94" width="14.20" height="4.63" fill="#fac4b0" stroke="none" stroke-width="0.3" />
<rect x="72.50" y="313.94" width="14.20" height="4.63" fill="#f47050" stroke="none" stroke-width="0.3" />
<circle cx="79.60" cy="316.24" r="0.45" fill="#333" />
<line x1="56.90" y1="316.24" x2="57.90" y2="316.24" stroke="#666" stroke-width="0.3" />
<text x="56.30" y="317.38" font-size="2.75" text-anchor="end" fill="#333" font-weight="normal" stroke="#333" stroke-width="0.06"  text-rendering="geometricPrecision" transform="matrix(1 0 0 1.15 0 -47.606)">Pulmonary fibrosis idiopathic signaling</text>
<rect x="58.30" y="318.53" width="14.20" height="4.63" fill="#3a2ae8" stroke="none" stroke-width="0.3" />
<rect x="72.50" y="318.53" width="14.20" height="4.63" fill="#dcdcdc" stroke="none" stroke-width="0.3" />
<circle cx="65.40" cy="320.82" r="0.45" fill="#333" />
<line x1="56.90" y1="320.82" x2="57.90" y2="320.82" stroke="#666" stroke-width="0.3" />
<text x="56.30" y="321.96" font-size="2.75" text-anchor="end" fill="#333" font-weight="normal" stroke="#333" stroke-width="0.06"  text-rendering="geometricPrecision" transform="matrix(1 0 0 1.15 0 -48.294)">TCR signaling</text>
<rect x="58.30" y="323.12" width="14.20" height="4.63" fill="#8a78ec" stroke="none" stroke-width="0.3" />
<rect x="72.50" y="323.12" width="14.20" height="4.63" fill="#f8c8b8" stroke="none" stroke-width="0.3" />
<circle cx="65.40" cy="325.41" r="0.45" fill="#333" />
<circle cx="79.60" cy="325.41" r="0.45" fill="#333" />
<line x1="56.90" y1="325.41" x2="57.90" y2="325.41" stroke="#666" stroke-width="0.3" />
<text x="56.30" y="326.55" font-size="2.75" text-anchor="end" fill="#333" font-weight="normal" stroke="#333" stroke-width="0.06"  text-rendering="geometricPrecision" transform="matrix(1 0 0 1.15 0 -48.982)">Class A/1 (Rhodopsin-like receptors)</text>
<rect x="58.30" y="236.00" width="28.40" height="91.70" fill="none" stroke="#ccc" stroke-width="0.2" />
<text x="65.40" y="229.67" font-size="3.3" text-anchor="middle" fill="#333" font-weight="normal" stroke="#333" stroke-width="0.1"  text-rendering="geometricPrecision" transform="matrix(1 0 0 1.15 0 -34.450)">Tumor</text>
<text x="65.40" y="233.67" font-size="3.3" text-anchor="middle" fill="#333" font-weight="normal" stroke="#333" stroke-width="0.1"  text-rendering="geometricPrecision" transform="matrix(1 0 0 1.15 0 -35.050)">NoR</text>
<text x="79.60" y="229.67" font-size="3.3" text-anchor="middle" fill="#333" font-weight="normal" stroke="#333" stroke-width="0.1"  text-rendering="geometricPrecision" transform="matrix(1 0 0 1.15 0 -34.450)">Tumor</text>
<text x="79.60" y="233.67" font-size="3.3" text-anchor="middle" fill="#333" font-weight="normal" stroke="#333" stroke-width="0.1"  text-rendering="geometricPrecision" transform="matrix(1 0 0 1.15 0 -35.050)">R</text>
<rect x="89.10" y="235.60" width="5.30" height="28.50" fill="url(#hmv)" stroke="#aaa" stroke-width="0.2" />
<text x="95.80" y="237.50" font-size="2.9" text-anchor="start" fill="#333" font-weight="normal" stroke="#333" stroke-width="0.09"  text-rendering="geometricPrecision" transform="matrix(1 0 0 1.15 0 -35.625)">5</text>
<text x="95.80" y="244.30" font-size="2.9" text-anchor="start" fill="#333" font-weight="normal" stroke="#333" stroke-width="0.09"  text-rendering="geometricPrecision" transform="matrix(1 0 0 1.15 0 -36.645)">2.5</text>
<text x="95.80" y="251.00" font-size="2.9" text-anchor="start" fill="#333" font-weight="normal" stroke="#333" stroke-width="0.09"  text-rendering="geometricPrecision" transform="matrix(1 0 0 1.15 0 -37.650)">0</text>
<text x="95.80" y="258.70" font-size="2.9" text-anchor="start" fill="#333" font-weight="normal" stroke="#333" stroke-width="0.09"  text-rendering="geometricPrecision" transform="matrix(1 0 0 1.15 0 -38.805)">-2.5</text>
<text x="95.80" y="265.20" font-size="2.9" text-anchor="start" fill="#333" font-weight="normal" stroke="#333" stroke-width="0.09"  text-rendering="geometricPrecision" transform="matrix(1 0 0 1.15 0 -39.780)">-5</text>
<rect x="117.60" y="236.00" width="14.30" height="7.73" fill="#3830e8" stroke="none" stroke-width="0.3" />
<rect x="131.90" y="236.00" width="14.30" height="7.73" fill="#f26a50" stroke="none" stroke-width="0.3" />
<circle cx="124.75" cy="239.84" r="0.45" fill="#333" />
<circle cx="139.05" cy="239.84" r="0.45" fill="#333" />
<text x="116.00" y="241.00" font-size="2.8" text-anchor="end" fill="#333" font-weight="normal" stroke="#333" stroke-width="0.09"  text-rendering="geometricPrecision" transform="matrix(1 0 0 1.15 0 -36.150)">IFNG</text>
<rect x="117.60" y="243.68" width="14.30" height="7.73" fill="#8070ea" stroke="none" stroke-width="0.3" />
<rect x="131.90" y="243.68" width="14.30" height="7.73" fill="#f26850" stroke="none" stroke-width="0.3" />
<circle cx="124.75" cy="247.52" r="0.45" fill="#333" />
<circle cx="139.05" cy="247.52" r="0.45" fill="#333" />
<text x="116.00" y="248.68" font-size="2.8" text-anchor="end" fill="#333" font-weight="normal" stroke="#333" stroke-width="0.09"  text-rendering="geometricPrecision" transform="matrix(1 0 0 1.15 0 -37.302)">TNF</text>
<rect x="117.60" y="251.36" width="14.30" height="7.73" fill="#6050e8" stroke="none" stroke-width="0.3" />
<rect x="131.90" y="251.36" width="14.30" height="7.73" fill="#f8a48c" stroke="none" stroke-width="0.3" />
<circle cx="124.75" cy="255.20" r="0.45" fill="#333" />
<circle cx="139.05" cy="255.20" r="0.45" fill="#333" />
<text x="116.00" y="256.36" font-size="2.8" text-anchor="end" fill="#333" font-weight="normal" stroke="#333" stroke-width="0.09"  text-rendering="geometricPrecision" transform="matrix(1 0 0 1.15 0 -38.454)">CSF2</text>
<rect x="117.60" y="259.04" width="14.30" height="7.73" fill="#a494ee" stroke="none" stroke-width="0.3" />
<rect x="131.90" y="259.04" width="14.30" height="7.73" fill="#f05a3c" stroke="none" stroke-width="0.3" />
<circle cx="139.05" cy="262.88" r="0.45" fill="#333" />
<text x="116.00" y="264.04" font-size="2.8" text-anchor="end" fill="#333" font-weight="normal" stroke="#333" stroke-width="0.09"  text-rendering="geometricPrecision" transform="matrix(1 0 0 1.15 0 -39.606)">KLF6</text>
<rect x="117.60" y="266.72" width="14.30" height="7.73" fill="#8878ec" stroke="none" stroke-width="0.3" />
<rect x="131.90" y="266.72" width="14.30" height="7.73" fill="#f48870" stroke="none" stroke-width="0.3" />
<circle cx="124.75" cy="270.56" r="0.45" fill="#333" />
<text x="116.00" y="271.72" font-size="2.8" text-anchor="end" fill="#333" font-weight="normal" stroke="#333" stroke-width="0.09"  text-rendering="geometricPrecision" transform="matrix(1 0 0 1.15 0 -40.758)">CD40LG</text>
<rect x="117.60" y="274.40" width="14.30" height="7.73" fill="#7868ea" stroke="none" stroke-width="0.3" />
<rect x="131.90" y="274.40" width="14.30" height="7.73" fill="#f6987e" stroke="none" stroke-width="0.3" />
<circle cx="124.75" cy="278.24" r="0.45" fill="#333" />
<circle cx="139.05" cy="278.24" r="0.45" fill="#333" />
<text x="116.00" y="279.40" font-size="2.8" text-anchor="end" fill="#333" font-weight="normal" stroke="#333" stroke-width="0.09"  text-rendering="geometricPrecision" transform="matrix(1 0 0 1.15 0 -41.910)">IL1B</text>
<rect x="117.60" y="282.08" width="14.30" height="7.73" fill="#b4a4f0" stroke="none" stroke-width="0.3" />
<rect x="131.90" y="282.08" width="14.30" height="7.73" fill="#f05030" stroke="none" stroke-width="0.3" />
<circle cx="124.75" cy="285.92" r="0.45" fill="#333" />
<circle cx="139.05" cy="285.92" r="0.45" fill="#333" />
<text x="116.00" y="287.08" font-size="2.8" text-anchor="end" fill="#333" font-weight="normal" stroke="#333" stroke-width="0.09"  text-rendering="geometricPrecision" transform="matrix(1 0 0 1.15 0 -43.062)">IL4</text>
<rect x="117.60" y="289.76" width="14.30" height="7.73" fill="#7868ea" stroke="none" stroke-width="0.3" />
<rect x="131.90" y="289.76" width="14.30" height="7.73" fill="#f8a088" stroke="none" stroke-width="0.3" />
<circle cx="124.75" cy="293.60" r="0.45" fill="#333" />
<text x="116.00" y="294.76" font-size="2.8" text-anchor="end" fill="#333" font-weight="normal" stroke="#333" stroke-width="0.09"  text-rendering="geometricPrecision" transform="matrix(1 0 0 1.15 0 -44.214)">IL15</text>
<rect x="117.60" y="297.44" width="14.30" height="7.73" fill="#7868ea" stroke="none" stroke-width="0.3" />
<rect x="131.90" y="297.44" width="14.30" height="7.73" fill="#f89880" stroke="none" stroke-width="0.3" />
<circle cx="124.75" cy="301.28" r="0.45" fill="#333" />
<circle cx="139.05" cy="301.28" r="0.45" fill="#333" />
<text x="116.00" y="302.44" font-size="2.8" text-anchor="end" fill="#333" font-weight="normal" stroke="#333" stroke-width="0.09"  text-rendering="geometricPrecision" transform="matrix(1 0 0 1.15 0 -45.366)">APP</text>
<rect x="117.60" y="305.12" width="14.30" height="7.73" fill="#7a6aea" stroke="none" stroke-width="0.3" />
<rect x="131.90" y="305.12" width="14.30" height="7.73" fill="#f89478" stroke="none" stroke-width="0.3" />
<circle cx="124.75" cy="308.96" r="0.45" fill="#333" />
<circle cx="139.05" cy="308.96" r="0.45" fill="#333" />
<text x="116.00" y="310.12" font-size="2.8" text-anchor="end" fill="#333" font-weight="normal" stroke="#333" stroke-width="0.09"  text-rendering="geometricPrecision" transform="matrix(1 0 0 1.15 0 -46.518)">IL13</text>
<rect x="117.60" y="236.00" width="28.60" height="76.80" fill="none" stroke="#ccc" stroke-width="0.2" />
<text x="124.70" y="229.97" font-size="3.3" text-anchor="middle" fill="#333" font-weight="normal" stroke="#333" stroke-width="0.1"  text-rendering="geometricPrecision" transform="matrix(1 0 0 1.15 0 -34.495)">Tumor</text>
<text x="124.70" y="234.17" font-size="3.3" text-anchor="middle" fill="#333" font-weight="normal" stroke="#333" stroke-width="0.1"  text-rendering="geometricPrecision" transform="matrix(1 0 0 1.15 0 -35.125)">NoR</text>
<text x="139.00" y="229.97" font-size="3.3" text-anchor="middle" fill="#333" font-weight="normal" stroke="#333" stroke-width="0.1"  text-rendering="geometricPrecision" transform="matrix(1 0 0 1.15 0 -34.495)">Tumor</text>
<text x="139.00" y="234.17" font-size="3.3" text-anchor="middle" fill="#333" font-weight="normal" stroke="#333" stroke-width="0.1"  text-rendering="geometricPrecision" transform="matrix(1 0 0 1.15 0 -35.125)">R</text>
<rect x="148.80" y="235.90" width="5.40" height="27.60" fill="url(#hmv)" stroke="#aaa" stroke-width="0.2" />
<text x="155.40" y="237.36" font-size="2.8" text-anchor="start" fill="#333" font-weight="normal" stroke="#333" stroke-width="0.09"  text-rendering="geometricPrecision" transform="matrix(1 0 0 1.15 0 -35.604)">4</text>
<text x="155.40" y="242.96" font-size="2.8" text-anchor="start" fill="#333" font-weight="normal" stroke="#333" stroke-width="0.09"  text-rendering="geometricPrecision" transform="matrix(1 0 0 1.15 0 -36.444)">2</text>
<text x="155.40" y="248.66" font-size="2.8" text-anchor="start" fill="#333" font-weight="normal" stroke="#333" stroke-width="0.09"  text-rendering="geometricPrecision" transform="matrix(1 0 0 1.15 0 -37.299)">0</text>
<text x="155.40" y="254.46" font-size="2.8" text-anchor="start" fill="#333" font-weight="normal" stroke="#333" stroke-width="0.09"  text-rendering="geometricPrecision" transform="matrix(1 0 0 1.15 0 -38.169)">-2</text>
<text x="155.40" y="260.36" font-size="2.8" text-anchor="start" fill="#333" font-weight="normal" stroke="#333" stroke-width="0.09"  text-rendering="geometricPrecision" transform="matrix(1 0 0 1.15 0 -39.054)">-4</text>
<text x="155.40" y="264.76" font-size="2.8" text-anchor="start" fill="#333" font-weight="normal" stroke="#333" stroke-width="0.09"  text-rendering="geometricPrecision" transform="matrix(1 0 0 1.15 0 -39.714)">-6</text>
<text x="197.40" y="234.97" font-size="3.3" text-anchor="middle" fill="#333" font-weight="normal" stroke="#333" stroke-width="0.1"  text-rendering="geometricPrecision" transform="matrix(1 0 0 1.15 0 -35.245)">IFNγ signaling (Reactome)</text>
<line x1="191.40" y1="240.80" x2="203.70" y2="240.80" stroke="#444" stroke-width="0.3" />
<line x1="191.40" y1="240.80" x2="191.40" y2="243.00" stroke="#444" stroke-width="0.3" />
<line x1="203.70" y1="240.80" x2="203.70" y2="245.70" stroke="#444" stroke-width="0.3" />
<text x="197.50" y="239.81" font-size="3.4" text-anchor="middle" fill="#222" font-weight="normal" stroke="#222" stroke-width="0.1"  text-rendering="geometricPrecision" transform="matrix(1 0 0 1.15 0 -35.971)">*</text>
<line x1="182.90" y1="243.50" x2="182.90" y2="311.00" stroke="#666" stroke-width="0.3" />
<line x1="182.00" y1="244.50" x2="182.90" y2="244.50" stroke="#666" stroke-width="0.3" />
<text x="180.90" y="245.87" font-size="3.3" text-anchor="end" fill="#444" font-weight="normal" stroke="#444" stroke-width="0.1"  text-rendering="geometricPrecision" transform="matrix(1 0 0 1.15 0 -36.880)">0.2</text>
<line x1="182.00" y1="261.00" x2="182.90" y2="261.00" stroke="#666" stroke-width="0.3" />
<text x="180.90" y="262.37" font-size="3.3" text-anchor="end" fill="#444" font-weight="normal" stroke="#444" stroke-width="0.1"  text-rendering="geometricPrecision" transform="matrix(1 0 0 1.15 0 -39.355)">0.0</text>
<line x1="182.00" y1="277.50" x2="182.90" y2="277.50" stroke="#666" stroke-width="0.3" />
<text x="180.90" y="278.87" font-size="3.3" text-anchor="end" fill="#444" font-weight="normal" stroke="#444" stroke-width="0.1"  text-rendering="geometricPrecision" transform="matrix(1 0 0 1.15 0 -41.830)">-0.2</text>
<line x1="182.00" y1="294.00" x2="182.90" y2="294.00" stroke="#666" stroke-width="0.3" />
<text x="180.90" y="295.37" font-size="3.3" text-anchor="end" fill="#444" font-weight="normal" stroke="#444" stroke-width="0.1"  text-rendering="geometricPrecision" transform="matrix(1 0 0 1.15 0 -44.305)">-0.4</text>
<line x1="182.00" y1="310.50" x2="182.90" y2="310.50" stroke="#666" stroke-width="0.3" />
<text x="180.90" y="311.87" font-size="3.3" text-anchor="end" fill="#444" font-weight="normal" stroke="#444" stroke-width="0.1"  text-rendering="geometricPrecision" transform="matrix(1 0 0 1.15 0 -46.780)">-0.6</text>
<rect x="186.20" y="261.00" width="10.50" height="10.60" fill="#b7bff2" stroke="none" stroke-width="0.3" />
<rect x="198.30" y="251.70" width="11.30" height="9.30" fill="#f6c4c4" stroke="none" stroke-width="0.3" />
<line x1="182.90" y1="261.00" x2="211.70" y2="261.00" stroke="#555" stroke-width="0.35" />
<line x1="182.90" y1="311.00" x2="211.70" y2="311.00" stroke="#666" stroke-width="0.3" />
<line x1="191.40" y1="311.00" x2="191.40" y2="312.00" stroke="#666" stroke-width="0.3" />
<line x1="203.70" y1="311.00" x2="203.70" y2="312.00" stroke="#666" stroke-width="0.3" />
<line x1="191.40" y1="271.60" x2="191.40" y2="292.00" stroke="#666" stroke-width="0.3" />
<line x1="189.10" y1="292.00" x2="193.70" y2="292.00" stroke="#666" stroke-width="0.3" />
<line x1="203.90" y1="251.70" x2="203.90" y2="265.00" stroke="#666" stroke-width="0.3" />
<line x1="201.60" y1="265.00" x2="206.20" y2="265.00" stroke="#666" stroke-width="0.3" />
<circle cx="191.20" cy="254.60" r="0.95" fill="#111" />
<circle cx="191.20" cy="260.70" r="0.95" fill="#111" />
<circle cx="191.20" cy="264.60" r="0.95" fill="#111" />
<circle cx="191.20" cy="267.80" r="0.95" fill="#111" />
<circle cx="191.20" cy="275.70" r="0.95" fill="#111" />
<circle cx="191.20" cy="281.70" r="0.95" fill="#111" />
<circle cx="191.20" cy="295.00" r="0.95" fill="#111" />
<circle cx="191.20" cy="304.90" r="0.95" fill="#111" />
<circle cx="201.60" cy="248.90" r="0.95" fill="#111" />
<circle cx="204.20" cy="250.00" r="0.95" fill="#111" />
<circle cx="202.60" cy="252.00" r="0.95" fill="#111" />
<circle cx="204.80" cy="253.80" r="0.95" fill="#111" />
<circle cx="203.00" cy="277.80" r="0.95" fill="#111" />
<text x="191.40" y="318.17" font-size="3.3" text-anchor="middle" fill="#333" font-weight="normal" stroke="#333" stroke-width="0.1"  text-rendering="geometricPrecision" transform="matrix(1 0 0 1.15 0 -47.725)">NoR</text>
<text x="203.70" y="318.17" font-size="3.3" text-anchor="middle" fill="#333" font-weight="normal" stroke="#333" stroke-width="0.1"  text-rendering="geometricPrecision" transform="matrix(1 0 0 1.15 0 -47.725)">R</text>
<text x="0" y="0" font-size="3.0" text-anchor="middle" fill="#333" stroke="#333" stroke-width="0.165" text-rendering="geometricPrecision" transform="translate(170.74 276.00) rotate(-90) scale(1 1.15)">Geneset score (BEX - IG)</text>
<line x1="241.50" y1="243.50" x2="241.50" y2="304.50" stroke="#666" stroke-width="0.3" />
<line x1="240.60" y1="245.70" x2="241.50" y2="245.70" stroke="#666" stroke-width="0.3" />
<text x="239.50" y="247.07" font-size="3.3" text-anchor="end" fill="#444" font-weight="normal" stroke="#444" stroke-width="0.1"  text-rendering="geometricPrecision" transform="matrix(1 0 0 1.15 0 -37.060)">1.0</text>
<line x1="240.60" y1="257.35" x2="241.50" y2="257.35" stroke="#666" stroke-width="0.3" />
<text x="239.50" y="258.72" font-size="3.3" text-anchor="end" fill="#444" font-weight="normal" stroke="#444" stroke-width="0.1"  text-rendering="geometricPrecision" transform="matrix(1 0 0 1.15 0 -38.807)">0.5</text>
<line x1="240.60" y1="269.00" x2="241.50" y2="269.00" stroke="#666" stroke-width="0.3" />
<text x="239.50" y="270.37" font-size="3.3" text-anchor="end" fill="#444" font-weight="normal" stroke="#444" stroke-width="0.1"  text-rendering="geometricPrecision" transform="matrix(1 0 0 1.15 0 -40.555)">0.0</text>
<line x1="240.60" y1="280.65" x2="241.50" y2="280.65" stroke="#666" stroke-width="0.3" />
<text x="239.50" y="282.02" font-size="3.3" text-anchor="end" fill="#444" font-weight="normal" stroke="#444" stroke-width="0.1"  text-rendering="geometricPrecision" transform="matrix(1 0 0 1.15 0 -42.302)">-0.5</text>
<line x1="240.60" y1="292.30" x2="241.50" y2="292.30" stroke="#666" stroke-width="0.3" />
<text x="239.50" y="293.67" font-size="3.3" text-anchor="end" fill="#444" font-weight="normal" stroke="#444" stroke-width="0.1"  text-rendering="geometricPrecision" transform="matrix(1 0 0 1.15 0 -44.050)">-1.0</text>
<line x1="240.60" y1="303.95" x2="241.50" y2="303.95" stroke="#666" stroke-width="0.3" />
<text x="239.50" y="305.32" font-size="3.3" text-anchor="end" fill="#444" font-weight="normal" stroke="#444" stroke-width="0.1"  text-rendering="geometricPrecision" transform="matrix(1 0 0 1.15 0 -45.797)">-1.5</text>
<text x="255.50" y="231.17" font-size="3.3" text-anchor="middle" fill="#333" font-weight="normal" stroke="#333" stroke-width="0.1"  text-rendering="geometricPrecision" transform="matrix(1 0 0 1.15 0 -34.675)">CXTA</text>
<line x1="249.15" y1="260.60" x2="249.15" y2="288.20" stroke="#666" stroke-width="0.3" />
<line x1="246.95" y1="260.60" x2="251.35" y2="260.60" stroke="#666" stroke-width="0.3" />
<line x1="246.95" y1="288.20" x2="251.35" y2="288.20" stroke="#666" stroke-width="0.3" />
<line x1="261.95" y1="249.80" x2="261.95" y2="268.80" stroke="#666" stroke-width="0.3" />
<line x1="259.75" y1="249.80" x2="264.15" y2="249.80" stroke="#666" stroke-width="0.3" />
<line x1="259.75" y1="268.80" x2="264.15" y2="268.80" stroke="#666" stroke-width="0.3" />
<rect x="243.30" y="269.00" width="11.70" height="4.90" fill="#b7bff2" stroke="none" stroke-width="0.3" />
<rect x="256.30" y="259.30" width="11.30" height="9.70" fill="#f6c4c4" stroke="none" stroke-width="0.3" />
<line x1="241.50" y1="269.00" x2="270.10" y2="269.00" stroke="#555" stroke-width="0.35" />
<circle cx="248.70" cy="252.40" r="0.95" fill="#111" />
<circle cx="246.60" cy="267.90" r="0.95" fill="#111" />
<circle cx="249.70" cy="267.10" r="0.95" fill="#111" />
<circle cx="247.00" cy="279.90" r="0.95" fill="#111" />
<circle cx="250.20" cy="281.20" r="0.95" fill="#111" />
<circle cx="249.20" cy="296.70" r="0.95" fill="#111" />
<circle cx="261.40" cy="245.90" r="0.95" fill="#111" />
<circle cx="261.40" cy="259.00" r="0.95" fill="#111" />
<circle cx="261.40" cy="264.50" r="0.95" fill="#111" />
<circle cx="261.40" cy="268.50" r="0.95" fill="#111" />
<line x1="249.15" y1="240.10" x2="261.95" y2="240.10" stroke="#444" stroke-width="0.3" />
<line x1="249.15" y1="240.10" x2="249.15" y2="247.30" stroke="#444" stroke-width="0.3" />
<line x1="261.95" y1="240.10" x2="261.95" y2="244.00" stroke="#444" stroke-width="0.3" />
<text x="255.55" y="238.04" font-size="3.0" text-anchor="middle" fill="#222" font-weight="normal" stroke="#222" stroke-width="0.09"  text-rendering="geometricPrecision" transform="matrix(1 0 0 1.15 0 -35.706)">0.05</text>
<line x1="278.60" y1="243.50" x2="278.60" y2="304.50" stroke="#666" stroke-width="0.3" />
<line x1="277.70" y1="245.55" x2="278.60" y2="245.55" stroke="#666" stroke-width="0.3" />
<text x="276.60" y="246.92" font-size="3.3" text-anchor="end" fill="#444" font-weight="normal" stroke="#444" stroke-width="0.1"  text-rendering="geometricPrecision" transform="matrix(1 0 0 1.15 0 -37.037)">1.5</text>
<line x1="277.70" y1="257.20" x2="278.60" y2="257.20" stroke="#666" stroke-width="0.3" />
<text x="276.60" y="258.57" font-size="3.3" text-anchor="end" fill="#444" font-weight="normal" stroke="#444" stroke-width="0.1"  text-rendering="geometricPrecision" transform="matrix(1 0 0 1.15 0 -38.785)">1.0</text>
<line x1="277.70" y1="268.85" x2="278.60" y2="268.85" stroke="#666" stroke-width="0.3" />
<text x="276.60" y="270.22" font-size="3.3" text-anchor="end" fill="#444" font-weight="normal" stroke="#444" stroke-width="0.1"  text-rendering="geometricPrecision" transform="matrix(1 0 0 1.15 0 -40.532)">0.5</text>
<line x1="277.70" y1="280.50" x2="278.60" y2="280.50" stroke="#666" stroke-width="0.3" />
<text x="276.60" y="281.87" font-size="3.3" text-anchor="end" fill="#444" font-weight="normal" stroke="#444" stroke-width="0.1"  text-rendering="geometricPrecision" transform="matrix(1 0 0 1.15 0 -42.280)">0.0</text>
<line x1="277.70" y1="292.15" x2="278.60" y2="292.15" stroke="#666" stroke-width="0.3" />
<text x="276.60" y="293.52" font-size="3.3" text-anchor="end" fill="#444" font-weight="normal" stroke="#444" stroke-width="0.1"  text-rendering="geometricPrecision" transform="matrix(1 0 0 1.15 0 -44.027)">-0.5</text>
<line x1="277.70" y1="303.80" x2="278.60" y2="303.80" stroke="#666" stroke-width="0.3" />
<text x="276.60" y="305.17" font-size="3.3" text-anchor="end" fill="#444" font-weight="normal" stroke="#444" stroke-width="0.1"  text-rendering="geometricPrecision" transform="matrix(1 0 0 1.15 0 -45.775)">-1.0</text>
<text x="295.00" y="231.17" font-size="3.3" text-anchor="middle" fill="#333" font-weight="normal" stroke="#333" stroke-width="0.1"  text-rendering="geometricPrecision" transform="matrix(1 0 0 1.15 0 -34.675)">IL4R</text>
<line x1="288.75" y1="275.40" x2="288.75" y2="296.40" stroke="#666" stroke-width="0.3" />
<line x1="286.55" y1="275.40" x2="290.95" y2="275.40" stroke="#666" stroke-width="0.3" />
<line x1="286.55" y1="296.40" x2="290.95" y2="296.40" stroke="#666" stroke-width="0.3" />
<line x1="301.45" y1="254.20" x2="301.45" y2="280.00" stroke="#666" stroke-width="0.3" />
<line x1="299.25" y1="254.20" x2="303.65" y2="254.20" stroke="#666" stroke-width="0.3" />
<line x1="299.25" y1="280.00" x2="303.65" y2="280.00" stroke="#666" stroke-width="0.3" />
<rect x="283.00" y="280.50" width="11.50" height="5.70" fill="#b7bff2" stroke="none" stroke-width="0.3" />
<rect x="295.70" y="267.00" width="11.50" height="13.50" fill="#f6c4c4" stroke="none" stroke-width="0.3" />
<line x1="278.60" y1="280.50" x2="309.70" y2="280.50" stroke="#555" stroke-width="0.35" />
<circle cx="286.50" cy="274.40" r="0.95" fill="#111" />
<circle cx="289.80" cy="274.40" r="0.95" fill="#111" />
<circle cx="288.50" cy="282.00" r="0.95" fill="#111" />
<circle cx="288.50" cy="286.80" r="0.95" fill="#111" />
<circle cx="288.50" cy="289.90" r="0.95" fill="#111" />
<circle cx="288.50" cy="299.70" r="0.95" fill="#111" />
<circle cx="301.00" cy="249.30" r="0.95" fill="#111" />
<circle cx="301.00" cy="260.10" r="0.95" fill="#111" />
<circle cx="301.00" cy="268.40" r="0.95" fill="#111" />
<circle cx="298.50" cy="277.50" r="0.95" fill="#111" />
<circle cx="302.50" cy="277.50" r="0.95" fill="#111" />
<line x1="288.75" y1="242.20" x2="301.45" y2="242.20" stroke="#444" stroke-width="0.3" />
<line x1="288.75" y1="242.20" x2="288.75" y2="247.30" stroke="#444" stroke-width="0.3" />
<line x1="301.45" y1="242.20" x2="301.45" y2="247.30" stroke="#444" stroke-width="0.3" />
<text x="295.10" y="240.31" font-size="3.4" text-anchor="middle" fill="#222" font-weight="normal" stroke="#222" stroke-width="0.09"  text-rendering="geometricPrecision" transform="matrix(1 0 0 1.15 0 -36.046)">*</text>
<text x="0" y="0" font-size="3.0" text-anchor="middle" fill="#333" stroke="#333" stroke-width="0.165" text-rendering="geometricPrecision" transform="translate(228.44 270.00) rotate(-90) scale(1 1.15)">log<tspan font-size="2.1" dy="0.7">2</tspan><tspan dy="-0.7">(BEX/IgG4)</tspan></text>
<text x="242.00" y="313.73" font-size="3.7" text-anchor="start" fill="#333" font-weight="normal" stroke="#333" stroke-width="0.1"  text-rendering="geometricPrecision" transform="matrix(1 0 0 1.15 0 -47.060)">Response</text>
<rect x="241.80" y="317.80" width="7.30" height="6.40" fill="#f6c4c4" stroke="#e6a0a0" stroke-width="0.25" />
<text x="250.90" y="322.51" font-size="3.4" text-anchor="start" fill="#333" font-weight="normal" stroke="#333" stroke-width="0.1"  text-rendering="geometricPrecision" transform="matrix(1 0 0 1.15 0 -48.376)">R</text>
<rect x="257.10" y="317.80" width="7.10" height="6.40" fill="#b7bff2" stroke="#9098e0" stroke-width="0.25" />
<text x="265.50" y="322.51" font-size="3.4" text-anchor="start" fill="#333" font-weight="normal" stroke="#333" stroke-width="0.1"  text-rendering="geometricPrecision" transform="matrix(1 0 0 1.15 0 -48.376)">NoR</text>
<line x1="15.00" y1="347.50" x2="15.00" y2="423.00" stroke="#777" stroke-width="0.3" />
<line x1="14.10" y1="348.70" x2="15.00" y2="348.70" stroke="#777" stroke-width="0.3" />
<text x="13.40" y="349.90" font-size="2.9" text-anchor="end" fill="#444" font-weight="normal" stroke="#444" stroke-width="0.06"  text-rendering="geometricPrecision" transform="matrix(1 0 0 1.15 0 -52.485)">0.8</text>
<line x1="14.10" y1="368.50" x2="15.00" y2="368.50" stroke="#777" stroke-width="0.3" />
<text x="13.40" y="369.70" font-size="2.9" text-anchor="end" fill="#444" font-weight="normal" stroke="#444" stroke-width="0.06"  text-rendering="geometricPrecision" transform="matrix(1 0 0 1.15 0 -55.455)">0.4</text>
<line x1="14.10" y1="388.30" x2="15.00" y2="388.30" stroke="#777" stroke-width="0.3" />
<text x="13.40" y="389.50" font-size="2.9" text-anchor="end" fill="#444" font-weight="normal" stroke="#444" stroke-width="0.06"  text-rendering="geometricPrecision" transform="matrix(1 0 0 1.15 0 -58.425)">0</text>
<line x1="14.10" y1="408.10" x2="15.00" y2="408.10" stroke="#777" stroke-width="0.3" />
<text x="13.40" y="409.30" font-size="2.9" text-anchor="end" fill="#444" font-weight="normal" stroke="#444" stroke-width="0.06"  text-rendering="geometricPrecision" transform="matrix(1 0 0 1.15 0 -61.395)">-0.4</text>
<text x="0" y="0" font-size="3.3" text-anchor="middle" fill="#333" stroke="#333" stroke-width="0.181" text-rendering="geometricPrecision" transform="translate(4.85 385.00) rotate(-90) scale(1 1.15)">log<tspan font-size="2.3" dy="0.7">2</tspan><tspan dy="-0.7">FoldChange</tspan></text>
<rect x="17.00" y="388.30" width="9.50" height="13.70" fill="#b7bff2" stroke="none" stroke-width="0.3" />
<rect x="26.90" y="376.30" width="9.80" height="12.00" fill="#f6c4c4" stroke="none" stroke-width="0.3" />
<rect x="40.50" y="388.30" width="9.40" height="9.90" fill="#b7bff2" stroke="none" stroke-width="0.3" />
<rect x="51.00" y="380.70" width="9.50" height="7.60" fill="#f6c4c4" stroke="none" stroke-width="0.3" />
<line x1="15.00" y1="388.30" x2="61.00" y2="388.30" stroke="#aaa" stroke-width="0.3" />
<line x1="21.80" y1="383.10" x2="21.80" y2="416.00" stroke="#555" stroke-width="0.35" />
<line x1="31.80" y1="364.30" x2="31.80" y2="388.00" stroke="#555" stroke-width="0.35" />
<line x1="45.20" y1="383.50" x2="45.20" y2="406.00" stroke="#555" stroke-width="0.35" />
<line x1="55.70" y1="373.50" x2="55.70" y2="388.00" stroke="#555" stroke-width="0.35" />
<circle cx="20.80" cy="368.00" r="0.95" fill="#111" />
<circle cx="21.60" cy="385.40" r="0.95" fill="#111" />
<circle cx="21.60" cy="396.70" r="0.95" fill="#111" />
<circle cx="22.70" cy="402.80" r="0.95" fill="#111" />
<circle cx="20.80" cy="407.70" r="0.95" fill="#111" />
<circle cx="22.20" cy="414.60" r="0.95" fill="#111" />
<circle cx="21.20" cy="417.00" r="0.95" fill="#111" />
<circle cx="21.20" cy="419.40" r="0.95" fill="#111" />
<circle cx="31.00" cy="358.60" r="0.95" fill="#111" />
<circle cx="32.20" cy="375.60" r="0.95" fill="#111" />
<circle cx="32.50" cy="379.40" r="0.95" fill="#111" />
<circle cx="31.20" cy="390.70" r="0.95" fill="#111" />
<circle cx="45.00" cy="385.00" r="0.95" fill="#111" />
<circle cx="45.00" cy="388.80" r="0.95" fill="#111" />
<circle cx="45.40" cy="392.00" r="0.95" fill="#111" />
<circle cx="46.10" cy="402.40" r="0.95" fill="#111" />
<circle cx="45.00" cy="405.80" r="0.95" fill="#111" />
<circle cx="45.80" cy="407.00" r="0.95" fill="#111" />
<circle cx="44.80" cy="408.40" r="0.95" fill="#111" />
<circle cx="55.70" cy="370.00" r="0.95" fill="#111" />
<circle cx="54.80" cy="378.80" r="0.95" fill="#111" />
<circle cx="55.70" cy="382.60" r="0.95" fill="#111" />
<circle cx="55.20" cy="386.30" r="0.95" fill="#111" />
<text x="25.50" y="346.82" font-size="3.2" text-anchor="middle" fill="#333" font-weight="normal" stroke="#333" stroke-width="0.08"  text-rendering="geometricPrecision" transform="matrix(1 0 0 1.15 0 -52.024)">CCL4</text>
<text x="26.80" y="351.85" font-size="3.5" text-anchor="middle" fill="#222" font-weight="normal" stroke="#222" stroke-width="0.1"  text-rendering="geometricPrecision" transform="matrix(1 0 0 1.15 0 -52.777)">*</text>
<text x="48.80" y="346.82" font-size="3.2" text-anchor="middle" fill="#333" font-weight="normal" stroke="#333" stroke-width="0.08"  text-rendering="geometricPrecision" transform="matrix(1 0 0 1.15 0 -52.024)">CCL5</text>
<text x="48.80" y="351.85" font-size="3.5" text-anchor="middle" fill="#222" font-weight="normal" stroke="#222" stroke-width="0.1"  text-rendering="geometricPrecision" transform="matrix(1 0 0 1.15 0 -52.777)">**</text>
<text x="15.20" y="429.59" font-size="3.6" text-anchor="start" fill="#333" font-weight="normal" stroke="#333" stroke-width="0.1"  text-rendering="geometricPrecision" transform="matrix(1 0 0 1.15 0 -64.439)">Response</text>
<rect x="15.70" y="433.40" width="6.80" height="5.70" fill="#f6c4c4" stroke="#e6a0a0" stroke-width="0.25" />
<text x="25.00" y="437.71" font-size="3.4" text-anchor="start" fill="#333" font-weight="normal" stroke="#333" stroke-width="0.1"  text-rendering="geometricPrecision" transform="matrix(1 0 0 1.15 0 -65.656)">R</text>
<rect x="30.70" y="433.40" width="7.10" height="5.70" fill="#b7bff2" stroke="#9098e0" stroke-width="0.25" />
<text x="39.20" y="437.71" font-size="3.4" text-anchor="start" fill="#333" font-weight="normal" stroke="#333" stroke-width="0.1"  text-rendering="geometricPrecision" transform="matrix(1 0 0 1.15 0 -65.656)">NoR</text>
<line x1="83.60" y1="343.00" x2="83.60" y2="423.00" stroke="#777" stroke-width="0.3" />
<line x1="83.60" y1="423.00" x2="171.00" y2="423.00" stroke="#777" stroke-width="0.3" />
<line x1="82.70" y1="345.40" x2="83.60" y2="345.40" stroke="#777" stroke-width="0.3" />
<text x="81.80" y="346.60" font-size="2.9" text-anchor="end" fill="#444" font-weight="normal" stroke="#444" stroke-width="0.06"  text-rendering="geometricPrecision" transform="matrix(1 0 0 1.15 0 -51.990)">2</text>
<line x1="82.70" y1="360.20" x2="83.60" y2="360.20" stroke="#777" stroke-width="0.3" />
<text x="81.80" y="361.40" font-size="2.9" text-anchor="end" fill="#444" font-weight="normal" stroke="#444" stroke-width="0.06"  text-rendering="geometricPrecision" transform="matrix(1 0 0 1.15 0 -54.210)">1</text>
<line x1="82.70" y1="376.00" x2="83.60" y2="376.00" stroke="#777" stroke-width="0.3" />
<text x="81.80" y="377.20" font-size="2.9" text-anchor="end" fill="#444" font-weight="normal" stroke="#444" stroke-width="0.06"  text-rendering="geometricPrecision" transform="matrix(1 0 0 1.15 0 -56.580)">0</text>
<line x1="82.70" y1="391.80" x2="83.60" y2="391.80" stroke="#777" stroke-width="0.3" />
<text x="81.80" y="393.00" font-size="2.9" text-anchor="end" fill="#444" font-weight="normal" stroke="#444" stroke-width="0.06"  text-rendering="geometricPrecision" transform="matrix(1 0 0 1.15 0 -58.950)">-1</text>
<line x1="82.70" y1="407.70" x2="83.60" y2="407.70" stroke="#777" stroke-width="0.3" />
<text x="81.80" y="408.90" font-size="2.9" text-anchor="end" fill="#444" font-weight="normal" stroke="#444" stroke-width="0.06"  text-rendering="geometricPrecision" transform="matrix(1 0 0 1.15 0 -61.335)">-2</text>
<line x1="83.60" y1="423.00" x2="83.60" y2="423.90" stroke="#777" stroke-width="0.3" />
<text x="83.60" y="427.80" font-size="2.9" text-anchor="middle" fill="#444" font-weight="normal" stroke="#444" stroke-width="0.06"  text-rendering="geometricPrecision" transform="matrix(1 0 0 1.15 0 -64.170)">-3</text>
<line x1="97.15" y1="423.00" x2="97.15" y2="423.90" stroke="#777" stroke-width="0.3" />
<text x="97.15" y="427.80" font-size="2.9" text-anchor="middle" fill="#444" font-weight="normal" stroke="#444" stroke-width="0.06"  text-rendering="geometricPrecision" transform="matrix(1 0 0 1.15 0 -64.170)">-2</text>
<line x1="110.70" y1="423.00" x2="110.70" y2="423.90" stroke="#777" stroke-width="0.3" />
<text x="110.70" y="427.80" font-size="2.9" text-anchor="middle" fill="#444" font-weight="normal" stroke="#444" stroke-width="0.06"  text-rendering="geometricPrecision" transform="matrix(1 0 0 1.15 0 -64.170)">-1</text>
<line x1="124.25" y1="423.00" x2="124.25" y2="423.90" stroke="#777" stroke-width="0.3" />
<text x="124.25" y="427.80" font-size="2.9" text-anchor="middle" fill="#444" font-weight="normal" stroke="#444" stroke-width="0.06"  text-rendering="geometricPrecision" transform="matrix(1 0 0 1.15 0 -64.170)">0</text>
<line x1="137.80" y1="423.00" x2="137.80" y2="423.90" stroke="#777" stroke-width="0.3" />
<text x="137.80" y="427.80" font-size="2.9" text-anchor="middle" fill="#444" font-weight="normal" stroke="#444" stroke-width="0.06"  text-rendering="geometricPrecision" transform="matrix(1 0 0 1.15 0 -64.170)">1</text>
<line x1="151.35" y1="423.00" x2="151.35" y2="423.90" stroke="#777" stroke-width="0.3" />
<text x="151.35" y="427.80" font-size="2.9" text-anchor="middle" fill="#444" font-weight="normal" stroke="#444" stroke-width="0.06"  text-rendering="geometricPrecision" transform="matrix(1 0 0 1.15 0 -64.170)">2</text>
<line x1="164.90" y1="423.00" x2="164.90" y2="423.90" stroke="#777" stroke-width="0.3" />
<text x="164.90" y="427.80" font-size="2.9" text-anchor="middle" fill="#444" font-weight="normal" stroke="#444" stroke-width="0.06"  text-rendering="geometricPrecision" transform="matrix(1 0 0 1.15 0 -64.170)">3</text>
<text x="126.00" y="431.37" font-size="3.3" text-anchor="middle" fill="#333" font-weight="normal" stroke="#333" stroke-width="0.08"  text-rendering="geometricPrecision" transform="matrix(1 0 0 1.15 0 -64.705)">PC1 (44.5%)</text>
<text x="0" y="0" font-size="3.3" text-anchor="middle" fill="#333" stroke="#333" stroke-width="0.181" text-rendering="geometricPrecision" transform="translate(74.65 383.00) rotate(-90) scale(1 1.15)">PC2 (18.2%)</text>
<text x="86.50" y="347.40" font-size="3.37" text-anchor="start" fill="#333" font-weight="normal" stroke="#333" stroke-width="0.08"  text-rendering="geometricPrecision" transform="matrix(1 0 0 1.15 0 -52.109)">CCL3-5, CXCL10, IFNγ, IL-1b, IL-6,TNFα</text>
<polygon points="87.2,383.3 95.6,383.7 108.5,367.0 97.2,368.1" fill="#f6c0c4" stroke="#e88890" stroke-width="0.3"/>
<polygon points="167.2,347.5 127.9,359.0 121.8,367.0 127.9,385.6 153.6,418.5" fill="#b0baf6" stroke="#98a4f0" stroke-width="0.3"/>
<circle cx="87.20" cy="383.30" r="0.70" fill="#c01868" />
<circle cx="95.60" cy="383.70" r="0.70" fill="#c01868" />
<circle cx="108.50" cy="367.00" r="0.70" fill="#c01868" />
<circle cx="97.20" cy="368.10" r="0.70" fill="#c01868" />
<circle cx="97.20" cy="377.60" r="0.70" fill="#c01868" />
<path d="M97.2 374.2 l1.2 2.1 h-2.4 z" fill="#c01868"/>
<circle cx="127.90" cy="359.00" r="0.70" fill="#1850d8" />
<circle cx="140.40" cy="359.50" r="0.70" fill="#1850d8" />
<circle cx="121.80" cy="367.00" r="0.70" fill="#1850d8" />
<circle cx="127.90" cy="385.60" r="0.70" fill="#1850d8" />
<circle cx="133.60" cy="385.60" r="0.70" fill="#1850d8" />
<circle cx="153.60" cy="388.00" r="0.70" fill="#1850d8" />
<circle cx="153.60" cy="418.50" r="0.70" fill="#1850d8" />
<circle cx="167.20" cy="347.50" r="0.70" fill="#1850d8" />
<path d="M140.9 375.0 l1.4 2.4 h-2.8 z" fill="#1850d8"/>
<text x="87.20" y="406.01" font-size="3.4" text-anchor="start" fill="#333" font-weight="normal" stroke="#333" stroke-width="0.1"  text-rendering="geometricPrecision" transform="matrix(1 0 0 1.15 0 -60.901)">Cluster</text>
<text x="100.20" y="406.01" font-size="3.4" text-anchor="start" fill="#333" font-weight="normal" stroke="#333" stroke-width="0.1"  text-rendering="geometricPrecision" transform="matrix(1 0 0 1.15 0 -60.901)">Response</text>
<rect x="87.40" y="409.20" width="3.00" height="3.20" fill="#f4b4b8" stroke="none" stroke-width="0.3" />
<circle cx="88.90" cy="410.80" r="0.65" fill="#c01868" />
<rect x="87.40" y="414.30" width="3.00" height="3.20" fill="#aab4f4" stroke="none" stroke-width="0.3" />
<path d="M88.9 414.9 l1 1.8 h-2 z" fill="#1850d8"/>
<text x="94.50" y="412.17" font-size="3.3" text-anchor="start" fill="#333" font-weight="normal" stroke="#333" stroke-width="0.1"  text-rendering="geometricPrecision" transform="matrix(1 0 0 1.15 0 -61.825)">1</text>
<text x="94.50" y="417.47" font-size="3.3" text-anchor="start" fill="#333" font-weight="normal" stroke="#333" stroke-width="0.1"  text-rendering="geometricPrecision" transform="matrix(1 0 0 1.15 0 -62.620)">2</text>
<circle cx="103.40" cy="410.80" r="0.95" fill="#111" />
<text x="106.60" y="412.17" font-size="3.3" text-anchor="start" fill="#333" font-weight="normal" stroke="#333" stroke-width="0.1"  text-rendering="geometricPrecision" transform="matrix(1 0 0 1.15 0 -61.825)">R</text>
<path d="M103.3 414.8 l1.2 2.1 h-2.4 z" fill="#111"/>
<text x="106.60" y="417.47" font-size="3.3" text-anchor="start" fill="#333" font-weight="normal" stroke="#333" stroke-width="0.1"  text-rendering="geometricPrecision" transform="matrix(1 0 0 1.15 0 -62.620)">NoR</text>
<rect x="191.00" y="359.50" width="6.75" height="7.95" fill="#fde8e0" stroke="none" stroke-width="0.3" />
<rect x="197.70" y="359.50" width="7.35" height="7.95" fill="#fce4dc" stroke="none" stroke-width="0.3" />
<rect x="205.00" y="359.50" width="6.95" height="7.95" fill="#f9d0c0" stroke="none" stroke-width="0.3" />
<rect x="211.90" y="359.50" width="7.35" height="7.95" fill="#f8c0ac" stroke="none" stroke-width="0.3" />
<rect x="219.20" y="359.50" width="6.70" height="7.95" fill="#f6b098" stroke="none" stroke-width="0.3" />
<rect x="227.20" y="359.50" width="6.85" height="7.95" fill="#d8d0f8" stroke="none" stroke-width="0.3" />
<rect x="234.00" y="359.50" width="7.05" height="7.95" fill="#dcd4f8" stroke="none" stroke-width="0.3" />
<rect x="241.00" y="359.50" width="6.95" height="7.95" fill="#faf8fc" stroke="none" stroke-width="0.3" />
<rect x="247.90" y="359.50" width="6.85" height="7.95" fill="#e8e4fa" stroke="none" stroke-width="0.3" />
<rect x="254.70" y="359.50" width="7.05" height="7.95" fill="#c8bcf4" stroke="none" stroke-width="0.3" />
<rect x="261.70" y="359.50" width="6.95" height="7.95" fill="#ccc0f4" stroke="none" stroke-width="0.3" />
<rect x="268.60" y="359.50" width="6.85" height="7.95" fill="#f0eefc" stroke="none" stroke-width="0.3" />
<rect x="275.40" y="359.50" width="7.05" height="7.95" fill="#fcf8f4" stroke="none" stroke-width="0.3" />
<rect x="191.00" y="367.40" width="6.75" height="7.95" fill="#fad8cc" stroke="none" stroke-width="0.3" />
<rect x="197.70" y="367.40" width="7.35" height="7.95" fill="#fdf0ec" stroke="none" stroke-width="0.3" />
<rect x="205.00" y="367.40" width="6.95" height="7.95" fill="#fef4f0" stroke="none" stroke-width="0.3" />
<rect x="211.90" y="367.40" width="7.35" height="7.95" fill="#fce8e0" stroke="none" stroke-width="0.3" />
<rect x="219.20" y="367.40" width="6.70" height="7.95" fill="#fadcd0" stroke="none" stroke-width="0.3" />
<rect x="227.20" y="367.40" width="6.85" height="7.95" fill="#e4dcf8" stroke="none" stroke-width="0.3" />
<rect x="234.00" y="367.40" width="7.05" height="7.95" fill="#e8e0fa" stroke="none" stroke-width="0.3" />
<rect x="241.00" y="367.40" width="6.95" height="7.95" fill="#ffffff" stroke="none" stroke-width="0.3" />
<rect x="247.90" y="367.40" width="6.85" height="7.95" fill="#e8e4fa" stroke="none" stroke-width="0.3" />
<rect x="254.70" y="367.40" width="7.05" height="7.95" fill="#dcd4f8" stroke="none" stroke-width="0.3" />
<rect x="261.70" y="367.40" width="6.95" height="7.95" fill="#ffffff" stroke="none" stroke-width="0.3" />
<rect x="268.60" y="367.40" width="6.85" height="7.95" fill="#f4f2fc" stroke="none" stroke-width="0.3" />
<rect x="275.40" y="367.40" width="7.05" height="7.95" fill="#ece8fa" stroke="none" stroke-width="0.3" />
<rect x="191.00" y="375.30" width="6.75" height="7.95" fill="#fff8f4" stroke="none" stroke-width="0.3" />
<rect x="197.70" y="375.30" width="7.35" height="7.95" fill="#f4a088" stroke="none" stroke-width="0.3" />
<rect x="205.00" y="375.30" width="6.95" height="7.95" fill="#fad8c8" stroke="none" stroke-width="0.3" />
<rect x="211.90" y="375.30" width="7.35" height="7.95" fill="#fbdcd0" stroke="none" stroke-width="0.3" />
<rect x="219.20" y="375.30" width="6.70" height="7.95" fill="#fdeee8" stroke="none" stroke-width="0.3" />
<rect x="227.20" y="375.30" width="6.85" height="7.95" fill="#ffffff" stroke="none" stroke-width="0.3" />
<rect x="234.00" y="375.30" width="7.05" height="7.95" fill="#c0b4f4" stroke="none" stroke-width="0.3" />
<rect x="241.00" y="375.30" width="6.95" height="7.95" fill="#fbfafd" stroke="none" stroke-width="0.3" />
<rect x="247.90" y="375.30" width="6.85" height="7.95" fill="#a898f0" stroke="none" stroke-width="0.3" />
<rect x="254.70" y="375.30" width="7.05" height="7.95" fill="#e0d8f8" stroke="none" stroke-width="0.3" />
<rect x="261.70" y="375.30" width="6.95" height="7.95" fill="#f4f0fc" stroke="none" stroke-width="0.3" />
<rect x="268.60" y="375.30" width="6.85" height="7.95" fill="#fce8e0" stroke="none" stroke-width="0.3" />
<rect x="275.40" y="375.30" width="7.05" height="7.95" fill="#f8c8b4" stroke="none" stroke-width="0.3" />
<rect x="191.00" y="383.20" width="6.75" height="7.95" fill="#f8c4b4" stroke="none" stroke-width="0.3" />
<rect x="197.70" y="383.20" width="7.35" height="7.95" fill="#fce0d8" stroke="none" stroke-width="0.3" />
<rect x="205.00" y="383.20" width="6.95" height="7.95" fill="#ee3414" stroke="none" stroke-width="0.3" />
<rect x="211.90" y="383.20" width="7.35" height="7.95" fill="#f8c8b8" stroke="none" stroke-width="0.3" />
<rect x="219.20" y="383.20" width="6.70" height="7.95" fill="#ffffff" stroke="none" stroke-width="0.3" />
<rect x="227.20" y="383.20" width="6.85" height="7.95" fill="#f8c8b8" stroke="none" stroke-width="0.3" />
<rect x="234.00" y="383.20" width="7.05" height="7.95" fill="#a898f0" stroke="none" stroke-width="0.3" />
<rect x="241.00" y="383.20" width="6.95" height="7.95" fill="#dcd4f8" stroke="none" stroke-width="0.3" />
<rect x="247.90" y="383.20" width="6.85" height="7.95" fill="#e0d8f8" stroke="none" stroke-width="0.3" />
<rect x="254.70" y="383.20" width="7.05" height="7.95" fill="#f0eefc" stroke="none" stroke-width="0.3" />
<rect x="261.70" y="383.20" width="6.95" height="7.95" fill="#ffffff" stroke="none" stroke-width="0.3" />
<rect x="268.60" y="383.20" width="6.85" height="7.95" fill="#e4dcf8" stroke="none" stroke-width="0.3" />
<rect x="275.40" y="383.20" width="7.05" height="7.95" fill="#ece8fa" stroke="none" stroke-width="0.3" />
<rect x="191.00" y="391.10" width="6.75" height="7.95" fill="#aa9cf2" stroke="none" stroke-width="0.3" />
<rect x="197.70" y="391.10" width="7.35" height="7.95" fill="#f8c4b0" stroke="none" stroke-width="0.3" />
<rect x="205.00" y="391.10" width="6.95" height="7.95" fill="#f8c8b4" stroke="none" stroke-width="0.3" />
<rect x="211.90" y="391.10" width="7.35" height="7.95" fill="#fad4c8" stroke="none" stroke-width="0.3" />
<rect x="219.20" y="391.10" width="6.70" height="7.95" fill="#fbdcd0" stroke="none" stroke-width="0.3" />
<rect x="227.20" y="391.10" width="6.85" height="7.95" fill="#dcd4f8" stroke="none" stroke-width="0.3" />
<rect x="234.00" y="391.10" width="7.05" height="7.95" fill="#0a0af0" stroke="none" stroke-width="0.3" />
<rect x="241.00" y="391.10" width="6.95" height="7.95" fill="#ffffff" stroke="none" stroke-width="0.3" />
<rect x="247.90" y="391.10" width="6.85" height="7.95" fill="#ffffff" stroke="none" stroke-width="0.3" />
<rect x="254.70" y="391.10" width="7.05" height="7.95" fill="#e0d8f8" stroke="none" stroke-width="0.3" />
<rect x="261.70" y="391.10" width="6.95" height="7.95" fill="#ffffff" stroke="none" stroke-width="0.3" />
<rect x="268.60" y="391.10" width="6.85" height="7.95" fill="#c8bcf4" stroke="none" stroke-width="0.3" />
<rect x="275.40" y="391.10" width="7.05" height="7.95" fill="#c8bcf4" stroke="none" stroke-width="0.3" />
<rect x="191.00" y="399.00" width="6.75" height="7.95" fill="#fde8e0" stroke="none" stroke-width="0.3" />
<rect x="197.70" y="399.00" width="7.35" height="7.95" fill="#fef0ec" stroke="none" stroke-width="0.3" />
<rect x="205.00" y="399.00" width="6.95" height="7.95" fill="#fef2ee" stroke="none" stroke-width="0.3" />
<rect x="211.90" y="399.00" width="7.35" height="7.95" fill="#fdece4" stroke="none" stroke-width="0.3" />
<rect x="219.20" y="399.00" width="6.70" height="7.95" fill="#f8c4b0" stroke="none" stroke-width="0.3" />
<rect x="227.20" y="399.00" width="6.85" height="7.95" fill="#8070f0" stroke="none" stroke-width="0.3" />
<rect x="234.00" y="399.00" width="7.05" height="7.95" fill="#f4f2fc" stroke="none" stroke-width="0.3" />
<rect x="241.00" y="399.00" width="6.95" height="7.95" fill="#0000f0" stroke="none" stroke-width="0.3" />
<rect x="247.90" y="399.00" width="6.85" height="7.95" fill="#0a0af0" stroke="none" stroke-width="0.3" />
<rect x="254.70" y="399.00" width="7.05" height="7.95" fill="#ffffff" stroke="none" stroke-width="0.3" />
<rect x="261.70" y="399.00" width="6.95" height="7.95" fill="#ffffff" stroke="none" stroke-width="0.3" />
<rect x="268.60" y="399.00" width="6.85" height="7.95" fill="#f4a890" stroke="none" stroke-width="0.3" />
<rect x="275.40" y="399.00" width="7.05" height="7.95" fill="#e8e4fa" stroke="none" stroke-width="0.3" />
<rect x="191.00" y="406.90" width="6.75" height="7.95" fill="#fde8e0" stroke="none" stroke-width="0.3" />
<rect x="197.70" y="406.90" width="7.35" height="7.95" fill="#fbdcd0" stroke="none" stroke-width="0.3" />
<rect x="205.00" y="406.90" width="6.95" height="7.95" fill="#fce4dc" stroke="none" stroke-width="0.3" />
<rect x="211.90" y="406.90" width="7.35" height="7.95" fill="#d8d0f8" stroke="none" stroke-width="0.3" />
<rect x="219.20" y="406.90" width="6.70" height="7.95" fill="#fdf6f4" stroke="none" stroke-width="0.3" />
<rect x="227.20" y="406.90" width="6.85" height="7.95" fill="#a898f0" stroke="none" stroke-width="0.3" />
<rect x="234.00" y="406.90" width="7.05" height="7.95" fill="#ffffff" stroke="none" stroke-width="0.3" />
<rect x="241.00" y="406.90" width="6.95" height="7.95" fill="#f8f6fc" stroke="none" stroke-width="0.3" />
<rect x="247.90" y="406.90" width="6.85" height="7.95" fill="#f8f4fc" stroke="none" stroke-width="0.3" />
<rect x="254.70" y="406.90" width="7.05" height="7.95" fill="#f9d4c4" stroke="none" stroke-width="0.3" />
<rect x="261.70" y="406.90" width="6.95" height="7.95" fill="#e0d8f8" stroke="none" stroke-width="0.3" />
<rect x="268.60" y="406.90" width="6.85" height="7.95" fill="#ffffff" stroke="none" stroke-width="0.3" />
<rect x="275.40" y="406.90" width="7.05" height="7.95" fill="#fce8e0" stroke="none" stroke-width="0.3" />
<rect x="191.00" y="414.80" width="6.75" height="7.95" fill="#e0d8f8" stroke="none" stroke-width="0.3" />
<rect x="197.70" y="414.80" width="7.35" height="7.95" fill="#e4dcf8" stroke="none" stroke-width="0.3" />
<rect x="205.00" y="414.80" width="6.95" height="7.95" fill="#fbe0d4" stroke="none" stroke-width="0.3" />
<rect x="211.90" y="414.80" width="7.35" height="7.95" fill="#f8c4b0" stroke="none" stroke-width="0.3" />
<rect x="219.20" y="414.80" width="6.70" height="7.95" fill="#fdeee8" stroke="none" stroke-width="0.3" />
<rect x="227.20" y="414.80" width="6.85" height="7.95" fill="#d8d0f8" stroke="none" stroke-width="0.3" />
<rect x="234.00" y="414.80" width="7.05" height="7.95" fill="#e0d8f8" stroke="none" stroke-width="0.3" />
<rect x="241.00" y="414.80" width="6.95" height="7.95" fill="#f4f2fc" stroke="none" stroke-width="0.3" />
<rect x="247.90" y="414.80" width="6.85" height="7.95" fill="#fcf8f8" stroke="none" stroke-width="0.3" />
<rect x="254.70" y="414.80" width="7.05" height="7.95" fill="#fce8e0" stroke="none" stroke-width="0.3" />
<rect x="261.70" y="414.80" width="6.95" height="7.95" fill="#fce4dc" stroke="none" stroke-width="0.3" />
<rect x="268.60" y="414.80" width="6.85" height="7.95" fill="#fdf4f0" stroke="none" stroke-width="0.3" />
<rect x="275.40" y="414.80" width="7.05" height="7.95" fill="#fdf0ec" stroke="none" stroke-width="0.3" />
<rect x="191.00" y="350.40" width="34.90" height="4.20" fill="#b0185a" stroke="none" stroke-width="0.3" />
<rect x="227.20" y="350.40" width="55.20" height="4.20" fill="#1a56e0" stroke="none" stroke-width="0.3" />
<rect x="191.00" y="355.30" width="20.90" height="3.20" fill="#f5b8b8" stroke="none" stroke-width="0.3" />
<rect x="211.90" y="355.30" width="7.30" height="3.20" fill="#b8c0f0" stroke="none" stroke-width="0.3" />
<rect x="219.20" y="355.30" width="6.70" height="3.20" fill="#f5b8b8" stroke="none" stroke-width="0.3" />
<rect x="227.20" y="355.30" width="13.80" height="3.20" fill="#b8c0f0" stroke="none" stroke-width="0.3" />
<rect x="241.00" y="355.30" width="6.90" height="3.20" fill="#f5b8b8" stroke="none" stroke-width="0.3" />
<rect x="247.90" y="355.30" width="34.50" height="3.20" fill="#b8c0f0" stroke="none" stroke-width="0.3" />
<text x="283.40" y="353.92" font-size="3.2" text-anchor="start" fill="#333" font-weight="normal" stroke="#333" stroke-width="0.08"  text-rendering="geometricPrecision" transform="matrix(1 0 0 1.15 0 -53.089)">Cytokine cluster</text>
<text x="283.40" y="358.32" font-size="3.2" text-anchor="start" fill="#333" font-weight="normal" stroke="#333" stroke-width="0.08"  text-rendering="geometricPrecision" transform="matrix(1 0 0 1.15 0 -53.749)">Response</text>
<text x="284.00" y="364.77" font-size="3.2" text-anchor="start" fill="#333" font-weight="normal" stroke="#333" stroke-width="0.08"  text-rendering="geometricPrecision" transform="matrix(1 0 0 1.15 0 -54.716)">CCL4</text>
<text x="301.00" y="364.77" font-size="3.2" text-anchor="start" fill="#333" font-weight="normal" stroke="#333" stroke-width="0.08"  text-rendering="geometricPrecision" transform="matrix(1 0 0 1.15 0 -54.716)">*</text>
<text x="284.00" y="372.67" font-size="3.2" text-anchor="start" fill="#333" font-weight="normal" stroke="#333" stroke-width="0.08"  text-rendering="geometricPrecision" transform="matrix(1 0 0 1.15 0 -55.901)">CCL5</text>
<text x="301.00" y="372.67" font-size="3.2" text-anchor="start" fill="#333" font-weight="normal" stroke="#333" stroke-width="0.08"  text-rendering="geometricPrecision" transform="matrix(1 0 0 1.15 0 -55.901)">**</text>
<text x="284.00" y="380.57" font-size="3.2" text-anchor="start" fill="#333" font-weight="normal" stroke="#333" stroke-width="0.08"  text-rendering="geometricPrecision" transform="matrix(1 0 0 1.15 0 -57.086)">CCL3</text>
<text x="301.00" y="380.57" font-size="3.2" text-anchor="start" fill="#333" font-weight="normal" stroke="#333" stroke-width="0.08"  text-rendering="geometricPrecision" transform="matrix(1 0 0 1.15 0 -57.086)">0.12</text>
<text x="284.00" y="388.47" font-size="3.2" text-anchor="start" fill="#333" font-weight="normal" stroke="#333" stroke-width="0.08"  text-rendering="geometricPrecision" transform="matrix(1 0 0 1.15 0 -58.271)">TNFα</text>
<text x="301.00" y="388.47" font-size="3.2" text-anchor="start" fill="#333" font-weight="normal" stroke="#333" stroke-width="0.08"  text-rendering="geometricPrecision" transform="matrix(1 0 0 1.15 0 -58.271)">0.15</text>
<text x="284.00" y="396.37" font-size="3.2" text-anchor="start" fill="#333" font-weight="normal" stroke="#333" stroke-width="0.08"  text-rendering="geometricPrecision" transform="matrix(1 0 0 1.15 0 -59.456)">CXCL10</text>
<text x="301.00" y="396.37" font-size="3.2" text-anchor="start" fill="#333" font-weight="normal" stroke="#333" stroke-width="0.08"  text-rendering="geometricPrecision" transform="matrix(1 0 0 1.15 0 -59.456)">0.16</text>
<text x="284.00" y="404.27" font-size="3.2" text-anchor="start" fill="#333" font-weight="normal" stroke="#333" stroke-width="0.08"  text-rendering="geometricPrecision" transform="matrix(1 0 0 1.15 0 -60.641)">IL-1b</text>
<text x="301.00" y="404.27" font-size="3.2" text-anchor="start" fill="#333" font-weight="normal" stroke="#333" stroke-width="0.08"  text-rendering="geometricPrecision" transform="matrix(1 0 0 1.15 0 -60.641)">0.79</text>
<text x="284.00" y="412.17" font-size="3.2" text-anchor="start" fill="#333" font-weight="normal" stroke="#333" stroke-width="0.08"  text-rendering="geometricPrecision" transform="matrix(1 0 0 1.15 0 -61.826)">IL-6</text>
<text x="301.00" y="412.17" font-size="3.2" text-anchor="start" fill="#333" font-weight="normal" stroke="#333" stroke-width="0.08"  text-rendering="geometricPrecision" transform="matrix(1 0 0 1.15 0 -61.826)">0.16</text>
<text x="284.00" y="420.07" font-size="3.2" text-anchor="start" fill="#333" font-weight="normal" stroke="#333" stroke-width="0.08"  text-rendering="geometricPrecision" transform="matrix(1 0 0 1.15 0 -63.011)">IFNγ</text>
<text x="301.00" y="420.07" font-size="3.2" text-anchor="start" fill="#333" font-weight="normal" stroke="#333" stroke-width="0.08"  text-rendering="geometricPrecision" transform="matrix(1 0 0 1.15 0 -63.011)">0.77</text>
<polyline points="194.35,350.00 194.35,346.50 201.35,346.50 201.35,350.00" fill="none" stroke="#777" stroke-width="0.3"/>
<polyline points="208.45,350.00 208.45,347.20 215.55,347.20 215.55,350.00" fill="none" stroke="#777" stroke-width="0.3"/>
<polyline points="222.55,350.00 222.55,345.60 212.00,345.60 212.00,347.20" fill="none" stroke="#777" stroke-width="0.3"/>
<polyline points="197.85,346.50 197.85,343.20 217.28,343.20 217.28,345.60" fill="none" stroke="#777" stroke-width="0.3"/>
<polyline points="230.60,350.00 230.60,347.00 237.50,347.00 237.50,350.00" fill="none" stroke="#777" stroke-width="0.3"/>
<polyline points="244.45,350.00 244.45,346.00 234.05,346.00 234.05,347.00" fill="none" stroke="#777" stroke-width="0.3"/>
<polyline points="251.30,350.00 251.30,347.50 258.20,347.50 258.20,350.00" fill="none" stroke="#777" stroke-width="0.3"/>
<polyline points="265.15,350.00 265.15,346.80 272.00,346.80 272.00,350.00" fill="none" stroke="#777" stroke-width="0.3"/>
<polyline points="278.90,350.00 278.90,345.20 268.57,345.20 268.57,346.80" fill="none" stroke="#777" stroke-width="0.3"/>
<polyline points="254.75,347.50 254.75,344.00 273.74,344.00 273.74,345.20" fill="none" stroke="#777" stroke-width="0.3"/>
<polyline points="239.25,346.00 239.25,343.00 264.24,343.00 264.24,344.00" fill="none" stroke="#777" stroke-width="0.3"/>
<polyline points="207.56,343.20 207.56,340.90 251.75,340.90 251.75,343.00" fill="none" stroke="#777" stroke-width="0.3"/>
<polyline points="190.50,363.45 186.60,363.45 186.60,371.35 190.50,371.35" fill="none" stroke="#777" stroke-width="0.3"/>
<polyline points="190.50,379.25 185.40,379.25 185.40,387.15 190.50,387.15" fill="none" stroke="#777" stroke-width="0.3"/>
<polyline points="186.60,367.40 183.00,367.40 183.00,383.20 185.40,383.20" fill="none" stroke="#777" stroke-width="0.3"/>
<polyline points="190.50,402.95 184.50,402.95 184.50,410.85 190.50,410.85" fill="none" stroke="#777" stroke-width="0.3"/>
<polyline points="190.50,395.05 183.60,395.05 183.60,406.90 184.50,406.90" fill="none" stroke="#777" stroke-width="0.3"/>
<polyline points="190.50,418.75 183.00,418.75 183.00,400.98 183.60,400.98" fill="none" stroke="#777" stroke-width="0.3"/>
<polyline points="183.00,375.30 181.80,375.30 181.80,409.86 183.00,409.86" fill="none" stroke="#777" stroke-width="0.3"/>
<text x="202.50" y="428.97" font-size="3.3" text-anchor="middle" fill="#333" font-weight="normal" stroke="#333" stroke-width="0.08"  text-rendering="geometricPrecision" transform="matrix(1 0 0 1.15 0 -64.345)">log<tspan font-size="2.3" dy="0.7">2</tspan><tspan dy="-0.7">FoldChange</tspan></text>
<rect x="190.90" y="431.00" width="22.60" height="4.60" fill="url(#khm)" stroke="none" stroke-width="0.3" />
<text x="191.50" y="439.80" font-size="2.9" text-anchor="middle" fill="#333" font-weight="normal" stroke="#333" stroke-width="0.06"  text-rendering="geometricPrecision" transform="matrix(1 0 0 1.15 0 -65.970)">-2</text>
<text x="196.80" y="439.80" font-size="2.9" text-anchor="middle" fill="#333" font-weight="normal" stroke="#333" stroke-width="0.06"  text-rendering="geometricPrecision" transform="matrix(1 0 0 1.15 0 -65.970)">-1</text>
<text x="202.10" y="439.80" font-size="2.9" text-anchor="middle" fill="#333" font-weight="normal" stroke="#333" stroke-width="0.06"  text-rendering="geometricPrecision" transform="matrix(1 0 0 1.15 0 -65.970)">0</text>
<text x="207.40" y="439.80" font-size="2.9" text-anchor="middle" fill="#333" font-weight="normal" stroke="#333" stroke-width="0.06"  text-rendering="geometricPrecision" transform="matrix(1 0 0 1.15 0 -65.970)">1</text>
<text x="212.70" y="439.80" font-size="2.9" text-anchor="middle" fill="#333" font-weight="normal" stroke="#333" stroke-width="0.06"  text-rendering="geometricPrecision" transform="matrix(1 0 0 1.15 0 -65.970)">2</text>
<text x="231.50" y="428.97" font-size="3.3" text-anchor="middle" fill="#333" font-weight="normal" stroke="#333" stroke-width="0.08"  text-rendering="geometricPrecision" transform="matrix(1 0 0 1.15 0 -64.345)">Cytokine cluster</text>
<rect x="220.60" y="431.30" width="4.40" height="5.80" fill="#b0185a" stroke="none" stroke-width="0.3" />
<text x="228.80" y="435.77" font-size="3.3" text-anchor="start" fill="#333" font-weight="normal" stroke="#333" stroke-width="0.1"  text-rendering="geometricPrecision" transform="matrix(1 0 0 1.15 0 -65.365)">1</text>
<rect x="234.60" y="431.30" width="5.40" height="5.80" fill="#1a56e0" stroke="none" stroke-width="0.3" />
<text x="242.40" y="435.77" font-size="3.3" text-anchor="start" fill="#333" font-weight="normal" stroke="#333" stroke-width="0.1"  text-rendering="geometricPrecision" transform="matrix(1 0 0 1.15 0 -65.365)">2</text>
<text x="257.50" y="428.97" font-size="3.3" text-anchor="middle" fill="#333" font-weight="normal" stroke="#333" stroke-width="0.08"  text-rendering="geometricPrecision" transform="matrix(1 0 0 1.15 0 -64.345)">Response</text>
<rect x="251.20" y="431.60" width="6.20" height="6.10" fill="#b8c0f0" stroke="none" stroke-width="0.3" />
<text x="259.50" y="435.97" font-size="3.3" text-anchor="start" fill="#333" font-weight="normal" stroke="#333" stroke-width="0.1"  text-rendering="geometricPrecision" transform="matrix(1 0 0 1.15 0 -65.395)">NoR</text>
<rect x="270.50" y="431.60" width="6.10" height="6.10" fill="#f5b8b8" stroke="none" stroke-width="0.3" />
<text x="278.60" y="435.97" font-size="3.3" text-anchor="start" fill="#333" font-weight="normal" stroke="#333" stroke-width="0.1"  text-rendering="geometricPrecision" transform="matrix(1 0 0 1.15 0 -65.395)">R</text></svg></body></html>
